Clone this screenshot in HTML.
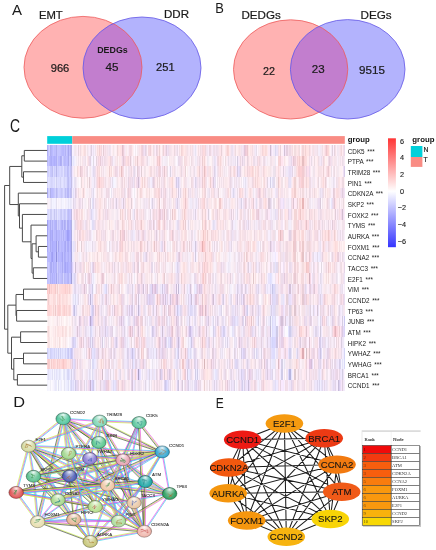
<!DOCTYPE html>
<html><head><meta charset="utf-8"><title>Figure</title>
<style>html,body{margin:0;padding:0;background:#fff;}body{width:436px;height:550px;position:relative;overflow:hidden;font-family:"Liberation Sans", Arial, sans-serif;}</style>
</head><body>
<div style="position:absolute;left:47.2px;top:145.10px;width:297.60px;height:10.72px;background:linear-gradient(90deg,#b2b2f7 0.0px 1.0px,#c4c4ff 1.0px 2.0px,#d0d0ff 2.0px 3.0px,#afaff1 3.0px 4.0px,#b5b5fa 4.0px 5.0px,#bbbbff 5.0px 6.0px,#c5c5ff 6.0px 7.0px,#bebeff 7.0px 8.0px,#bfbfff 8.0px 9.0px,#b0b0f1 9.0px 10.0px,#c7c7ff 10.0px 11.0px,#c6c6ff 11.0px 12.0px,#c6c6ff 12.0px 13.1px,#c3c3ff 13.1px 14.1px,#bcbcfe 14.1px 15.1px,#b9b9fc 15.1px 16.1px,#b7b7fd 16.1px 17.1px,#bfbfff 17.1px 18.1px,#b3b3f5 18.1px 19.1px,#c8c8ff 19.1px 20.1px,#bcbcff 20.1px 21.1px,#a7a7ee 21.1px 22.1px,#c1c1ff 22.1px 23.1px,#b0aff2 23.1px 24.1px,#b2afe1 24.1px 25.1px,#f9f2ff 25.1px 26.1px,#f8eeff 26.1px 27.1px,#f3e8f1 27.1px 28.1px,#f3e6ee 28.1px 29.1px,#f8eaf4 29.1px 30.1px,#feeef9 30.1px 31.1px,#e7d5dd 31.1px 32.1px,#ffebf3 32.1px 33.1px,#f1dbe1 33.1px 34.1px,#fde7ea 34.1px 35.1px,#ffedee 35.1px 36.1px,#ffe5e6 36.1px 37.1px,#f6dcde 37.1px 38.1px,#f6dee1 38.1px 39.1px,#ffeff5 39.1px 40.1px,#f1e3ea 40.1px 41.1px,#f6eaf4 41.1px 42.1px,#fceefa 42.1px 43.1px,#f0e1ef 43.1px 44.1px,#ded1e1 44.1px 45.1px,#f8ebfd 45.1px 46.1px,#ece3f2 46.1px 47.1px,#f7eefc 47.1px 48.1px,#f1e3ed 48.1px 49.1px,#ffecf2 49.1px 50.1px,#f8dddf 50.1px 51.1px,#ffe5e7 51.1px 52.1px,#f1d0d3 52.1px 53.2px,#fedfe3 53.2px 54.2px,#f2d8df 54.2px 55.2px,#ffedf5 55.2px 56.2px,#e5cdd6 56.2px 57.2px,#fae3ed 57.2px 58.2px,#f4dde6 58.2px 59.2px,#f9e5ee 59.2px 60.2px,#f4e2ec 60.2px 61.2px,#f6e6f2 61.2px 62.2px,#efe1ed 62.2px 63.2px,#f1e5ef 63.2px 64.2px,#fff2fa 64.2px 65.2px,#feeef2 65.2px 66.2px,#f4e7ea 66.2px 67.2px,#fceff4 67.2px 68.2px,#fff3f7 68.2px 69.2px,#ffedf1 69.2px 70.2px,#eed7d9 70.2px 71.2px,#fee3e4 71.2px 72.2px,#ffe8ea 72.2px 73.2px,#ffe2e4 73.2px 74.2px,#ffe0e7 74.2px 75.2px,#e0c1cc 75.2px 76.2px,#eeceda 76.2px 77.2px,#f7e1ee 77.2px 78.2px,#faeaf3 78.2px 79.2px,#fbeaee 79.2px 80.2px,#fef0f7 80.2px 81.2px,#fbeaf3 81.2px 82.2px,#f4dce3 82.2px 83.2px,#f2d8e0 83.2px 84.2px,#f4dce2 84.2px 85.2px,#feeaed 85.2px 86.2px,#fcf1f6 86.2px 87.2px,#fff8ff 87.2px 88.2px,#f3ebf0 88.2px 89.2px,#fff8fd 89.2px 90.2px,#f6e9ef 90.2px 91.2px,#f8e8ee 91.2px 92.2px,#f8e3e9 92.2px 93.2px,#ffe6ec 93.2px 94.2px,#f2d5dd 94.2px 95.2px,#ecd0dc 95.2px 96.2px,#efd9ea 96.2px 97.2px,#f3e1f5 97.2px 98.2px,#e4d3e3 98.2px 99.2px,#efdce8 99.2px 100.2px,#ffeff8 100.2px 101.2px,#f5d9de 101.2px 102.2px,#f7d8de 102.2px 103.2px,#f0d2d7 103.2px 104.2px,#ffe7ec 104.2px 105.2px,#ffeef3 105.2px 106.2px,#efdde3 106.2px 107.3px,#f4e4ef 107.3px 108.3px,#ffedfa 108.3px 109.3px,#e8d4df 109.3px 110.3px,#f0d8e3 110.3px 111.3px,#ffe7ed 111.3px 112.3px,#ecd2d4 112.3px 113.3px,#ffedf0 113.3px 114.3px,#fff3f8 114.3px 115.3px,#f7e3e9 115.3px 116.3px,#ecd2d8 116.3px 117.3px,#ffe3ed 117.3px 118.3px,#f4dcea 118.3px 119.3px,#e2ccdb 119.3px 120.3px,#f2e0f3 120.3px 121.3px,#eedbeb 121.3px 122.3px,#f4e0eb 122.3px 123.3px,#f5e2eb 123.3px 124.3px,#f7e6ed 124.3px 125.3px,#fdebf2 125.3px 126.3px,#feeaf1 126.3px 127.3px,#ecd8df 127.3px 128.3px,#f8e3ed 128.3px 129.3px,#f4e4f0 129.3px 130.3px,#eadae6 130.3px 131.3px,#ffeef8 131.3px 132.3px,#f3dfe4 132.3px 133.3px,#ffeced 133.3px 134.3px,#f3d4d6 134.3px 135.3px,#f9dadb 135.3px 136.3px,#ffe3e4 136.3px 137.3px,#ffe9ea 137.3px 138.3px,#fce3e5 138.3px 139.3px,#f9e2e7 139.3px 140.3px,#f4e0e7 140.3px 141.3px,#fae8ef 141.3px 142.3px,#fcebf3 142.3px 143.3px,#f2dfe5 143.3px 144.3px,#fde7ed 144.3px 145.3px,#f2e0e8 145.3px 146.3px,#f5e8f3 146.3px 147.3px,#f6edfb 147.3px 148.3px,#e8e3f1 148.3px 149.3px,#f8eef9 149.3px 150.3px,#ffeef4 150.3px 151.3px,#f3dfe3 151.3px 152.3px,#ffebf2 152.3px 153.3px,#f1dbe2 153.3px 154.3px,#fae1ea 154.3px 155.3px,#f4d7df 155.3px 156.3px,#fcd9dc 156.3px 157.3px,#fddbdf 157.3px 158.3px,#f0d6de 158.3px 159.3px,#f6e3ee 159.3px 160.3px,#f3e5f3 160.3px 161.4px,#fbebf9 161.4px 162.4px,#e9d6e2 162.4px 163.4px,#edd8e3 163.4px 164.4px,#f9e6f2 164.4px 165.4px,#f8eaf8 165.4px 166.4px,#efdfeb 166.4px 167.4px,#f0dde8 167.4px 168.4px,#f6e4f2 168.4px 169.4px,#efddea 169.4px 170.4px,#f1deea 170.4px 171.4px,#f5e2ec 171.4px 172.4px,#fbe4eb 172.4px 173.4px,#fee4eb 173.4px 174.4px,#e8d1d7 174.4px 175.4px,#fbe7ee 175.4px 176.4px,#feeef3 176.4px 177.4px,#fff1f5 177.4px 178.4px,#fce6ea 178.4px 179.4px,#fcdde0 179.4px 180.4px,#f5d1d2 180.4px 181.4px,#f9d5d6 181.4px 182.4px,#ffe8eb 182.4px 183.4px,#f9e6f0 183.4px 184.4px,#ede0ee 184.4px 185.4px,#ebe0f0 185.4px 186.4px,#f6e8f7 186.4px 187.4px,#f8e5ee 187.4px 188.4px,#eedbe0 188.4px 189.4px,#ffeff4 189.4px 190.4px,#ffedf0 190.4px 191.4px,#fae6ea 191.4px 192.4px,#f6e1e5 192.4px 193.4px,#f9e5ec 193.4px 194.4px,#f2e2ee 194.4px 195.4px,#f7e6f4 195.4px 196.4px,#f4dff0 196.4px 197.4px,#e1c7da 197.4px 198.4px,#edc8d7 198.4px 199.4px,#f4cfdc 199.4px 200.4px,#ebc9d0 200.4px 201.4px,#ffe4e6 201.4px 202.4px,#ffedef 202.4px 203.4px,#fae5e7 203.4px 204.4px,#fde6ea 204.4px 205.4px,#f2dde4 205.4px 206.4px,#fbe9f1 206.4px 207.4px,#f4e6f2 207.4px 208.4px,#f2e9f8 208.4px 209.4px,#e7dde9 209.4px 210.4px,#fff5ff 210.4px 211.4px,#f8ecf2 211.4px 212.4px,#fdeef2 212.4px 213.4px,#f8e5ea 213.4px 214.4px,#fee5ea 214.4px 215.4px,#f3d6d9 215.4px 216.5px,#fedcdd 216.5px 217.5px,#ffe3e3 217.5px 218.5px,#fadada 218.5px 219.5px,#fadddd 219.5px 220.5px,#ffe8eb 220.5px 221.5px,#fbe9f5 221.5px 222.5px,#f4e5f9 222.5px 223.5px,#cfbed2 223.5px 224.5px,#eddef3 224.5px 225.5px,#fbeefe 225.5px 226.5px,#f3eaf9 226.5px 227.5px,#ece9ff 227.5px 228.5px,#dcd8f0 228.5px 229.5px,#ece3f9 229.5px 230.5px,#f1e4f4 230.5px 231.5px,#f2dee9 231.5px 232.5px,#ffe8ee 232.5px 233.5px,#e7d3da 233.5px 234.5px,#fff0f7 234.5px 235.5px,#fdedf7 235.5px 236.5px,#faedfd 236.5px 237.5px,#d3c2d5 237.5px 238.5px,#f6e1f6 238.5px 239.5px,#e6d0e0 239.5px 240.5px,#f8e3f1 240.5px 241.5px,#f6e1ee 241.5px 242.5px,#eed9e4 242.5px 243.5px,#f5e1ed 243.5px 244.5px,#f8e2ea 244.5px 245.5px,#f5dde2 245.5px 246.5px,#ffeff2 246.5px 247.5px,#f2dddf 247.5px 248.5px,#fff3f3 248.5px 249.5px,#fbe5e7 249.5px 250.5px,#fee6ea 250.5px 251.5px,#f8dfe2 251.5px 252.5px,#f0dce0 252.5px 253.5px,#fff5f9 253.5px 254.5px,#ffe6e9 254.5px 255.5px,#f2d6d9 255.5px 256.5px,#fad7d9 256.5px 257.5px,#ffe3e4 257.5px 258.5px,#f3d3d4 258.5px 259.5px,#ffe3e4 259.5px 260.5px,#ffe5e6 260.5px 261.5px,#fbdee2 261.5px 262.5px,#efd6dc 262.5px 263.5px,#fbe3e9 263.5px 264.5px,#ffedf5 264.5px 265.5px,#f4e3eb 265.5px 266.5px,#f6e0e6 266.5px 267.5px,#f8e4ed 267.5px 268.5px,#f6e5ef 268.5px 269.5px,#f0e0e9 269.5px 270.6px,#f6edf9 270.6px 271.6px,#f5eefb 271.6px 272.6px,#f3e8f3 272.6px 273.6px,#f6e7f1 273.6px 274.6px,#f1dfe5 274.6px 275.6px,#ffebf1 275.6px 276.6px,#fde3ea 276.6px 277.6px,#f7d6dd 277.6px 278.6px,#ecc6cd 278.6px 279.6px,#fbd3d7 279.6px 280.6px,#fbd9da 280.6px 281.6px,#ffeaea 281.6px 282.6px,#fff3f9 282.6px 283.6px,#f4e9f5 283.6px 284.6px,#e1d2de 284.6px 285.6px,#fff0fe 285.6px 286.6px,#e6d3de 286.6px 287.6px,#f6e1e8 287.6px 288.6px,#ffeff8 288.6px 289.6px,#f2e7f1 289.6px 290.6px,#f5e7f1 290.6px 291.6px,#f9e7f0 291.6px 292.6px,#f7dfe6 292.6px 293.6px,#f2d7db 293.6px 294.6px,#ffebf1 294.6px 295.6px,#f3dde8 295.6px 296.6px,#ead9eb 296.6px 297.6px)"></div><div style="position:absolute;left:47.2px;top:155.77px;width:297.60px;height:10.72px;background:linear-gradient(90deg,#bcbcfd 0.0px 1.0px,#c4c4ff 1.0px 2.0px,#babaff 2.0px 3.0px,#b1b1fa 3.0px 4.0px,#adadf9 4.0px 5.0px,#b9b9ff 5.0px 6.0px,#b5b5ff 6.0px 7.0px,#afaffb 7.0px 8.0px,#b5b5ff 8.0px 9.0px,#aeaef5 9.0px 10.0px,#cacaff 10.0px 11.0px,#bcbcff 11.0px 12.0px,#bcbcff 12.0px 13.1px,#acacf3 13.1px 14.1px,#b1b1f5 14.1px 15.1px,#d2d2ff 15.1px 16.1px,#c2c2ff 16.1px 17.1px,#b9b9f8 17.1px 18.1px,#babafd 18.1px 19.1px,#c0c0ff 19.1px 20.1px,#bbbbff 20.1px 21.1px,#ababed 21.1px 22.1px,#ccccff 22.1px 23.1px,#c2c1ff 23.1px 24.1px,#afaedf 24.1px 25.1px,#edecff 25.1px 26.1px,#e7e6ff 26.1px 27.1px,#f1eefd 27.1px 28.1px,#f7f2fe 28.1px 29.1px,#f5edf5 29.1px 30.1px,#fdf1f8 30.1px 31.1px,#f0e4eb 31.1px 32.1px,#fff1f7 32.1px 33.1px,#f2e3e9 33.1px 34.1px,#fff0f5 34.1px 35.1px,#f7e4ea 35.1px 36.1px,#f5e5ef 36.1px 37.1px,#f4e4ef 37.1px 38.1px,#eedfe8 38.1px 39.1px,#fff2fa 39.1px 40.1px,#fce6eb 40.1px 41.1px,#f4dbe4 41.1px 42.1px,#ebd6e6 42.1px 43.1px,#e3d3e2 43.1px 44.1px,#f6eeff 44.1px 45.1px,#f9f5ff 45.1px 46.1px,#e0d9e4 46.1px 47.1px,#faf2ff 47.1px 48.1px,#fef3ff 48.1px 49.1px,#e5d4de 49.1px 50.1px,#f9e2ed 50.1px 51.1px,#f3d6e0 51.1px 52.1px,#fcdce5 52.1px 53.2px,#e7ccd8 53.2px 54.2px,#f7e1f0 54.2px 55.2px,#eed9e6 55.2px 56.2px,#fae7f4 56.2px 57.2px,#eedbe6 57.2px 58.2px,#f3dee8 58.2px 59.2px,#f6e2ec 59.2px 60.2px,#f9e5ec 60.2px 61.2px,#fee6ea 61.2px 62.2px,#ffe3e7 62.2px 63.2px,#efd4db 63.2px 64.2px,#f2dbe7 64.2px 65.2px,#ecdcea 65.2px 66.2px,#f8eefb 66.2px 67.2px,#f8ecf6 67.2px 68.2px,#f6e6ed 68.2px 69.2px,#fce9ee 69.2px 70.2px,#f3e1e5 70.2px 71.2px,#fff2f5 71.2px 72.2px,#f9e6e9 72.2px 73.2px,#fee9ec 73.2px 74.2px,#fce5ee 74.2px 75.2px,#efd8e7 75.2px 76.2px,#e4c7d4 76.2px 77.2px,#f3d7e6 77.2px 78.2px,#f6dae4 78.2px 79.2px,#ffe0e3 79.2px 80.2px,#fadce1 80.2px 81.2px,#f3d5dc 81.2px 82.2px,#ffe4ec 82.2px 83.2px,#e3cbd4 83.2px 84.2px,#f9e5ef 84.2px 85.2px,#fff3fb 85.2px 86.2px,#f3e4eb 86.2px 87.2px,#fdebf1 87.2px 88.2px,#f5dbdf 88.2px 89.2px,#ffe8ec 89.2px 90.2px,#e5c9ce 90.2px 91.2px,#ffe4ea 91.2px 92.2px,#ffe8ee 92.2px 93.2px,#fee5ea 93.2px 94.2px,#f5d8dd 94.2px 95.2px,#f4d8e0 95.2px 96.2px,#f5dbe3 96.2px 97.2px,#fce6ed 97.2px 98.2px,#fdeaf1 98.2px 99.2px,#f5e4ee 99.2px 100.2px,#eadce6 100.2px 101.2px,#faeff9 101.2px 102.2px,#f9eff6 102.2px 103.2px,#fff4f7 103.2px 104.2px,#fbeff2 104.2px 105.2px,#fff2f4 105.2px 106.2px,#f7e7ea 106.2px 107.3px,#f9eaef 107.3px 108.3px,#ffeff5 108.3px 109.3px,#fde5eb 109.3px 110.3px,#f0cdd2 110.3px 111.3px,#ffd5d9 111.3px 112.3px,#ebc4c8 112.3px 113.3px,#ffe2e9 113.3px 114.3px,#fdecf6 114.3px 115.3px,#f2e8f0 115.3px 116.3px,#faf0fa 116.3px 117.3px,#f5edf8 117.3px 118.3px,#f4ebf5 118.3px 119.3px,#f3eaf3 119.3px 120.3px,#f4ebf2 120.3px 121.3px,#fff9fd 121.3px 122.3px,#f6e8ec 122.3px 123.3px,#fcecf0 123.3px 124.3px,#faeaef 124.3px 125.3px,#fcecf2 125.3px 126.3px,#f6e6ec 126.3px 127.3px,#f3e7ee 127.3px 128.3px,#fbf2f8 128.3px 129.3px,#fff9ff 129.3px 130.3px,#f9f1fd 130.3px 131.3px,#e8dae7 131.3px 132.3px,#ecd9ea 132.3px 133.3px,#f1dae8 133.3px 134.3px,#f1dde7 134.3px 135.3px,#f6e3eb 135.3px 136.3px,#fff4f8 136.3px 137.3px,#f4dcdf 137.3px 138.3px,#f8dee2 138.3px 139.3px,#f6dee3 139.3px 140.3px,#fce8ee 140.3px 141.3px,#feecf0 141.3px 142.3px,#f7e6eb 142.3px 143.3px,#fff3f9 143.3px 144.3px,#eedce3 144.3px 145.3px,#f4e3eb 145.3px 146.3px,#f7e7f0 146.3px 147.3px,#fcf0f8 147.3px 148.3px,#f2e9f4 148.3px 149.3px,#f5ecf8 149.3px 150.3px,#f1e1ec 150.3px 151.3px,#f8e5f0 151.3px 152.3px,#ecdae4 152.3px 153.3px,#f9e1e9 153.3px 154.3px,#ffe9f1 154.3px 155.3px,#ebcdd2 155.3px 156.3px,#ffe3e4 156.3px 157.3px,#f2d3d5 157.3px 158.3px,#ffe8ec 158.3px 159.3px,#fff0f7 159.3px 160.3px,#f1e7ef 160.3px 161.4px,#f3ebf4 161.4px 162.4px,#fbf2f8 162.4px 163.4px,#fff5f8 163.4px 164.4px,#fff2f5 164.4px 165.4px,#f2e6ee 165.4px 166.4px,#f4e8f6 166.4px 167.4px,#e9e0f0 167.4px 168.4px,#ece4f7 168.4px 169.4px,#fbebfb 169.4px 170.4px,#eed8e2 170.4px 171.4px,#f1d5dc 171.4px 172.4px,#ffe4e6 172.4px 173.4px,#f5d6d7 173.4px 174.4px,#fbe3e7 174.4px 175.4px,#fcebf1 175.4px 176.4px,#f5e8ee 176.4px 177.4px,#fff6fc 177.4px 178.4px,#ecdce1 178.4px 179.4px,#fdebf2 179.4px 180.4px,#faebf5 180.4px 181.4px,#e9dde9 181.4px 182.4px,#f9eaf5 182.4px 183.4px,#f3e6f2 183.4px 184.4px,#efe3ef 184.4px 185.4px,#f5e9f6 185.4px 186.4px,#f0e6f5 186.4px 187.4px,#f4e9f6 187.4px 188.4px,#e9dfee 188.4px 189.4px,#fdf4ff 189.4px 190.4px,#d6ccdf 190.4px 191.4px,#f6e8f9 191.4px 192.4px,#f9e7f4 192.4px 193.4px,#ebd6e0 193.4px 194.4px,#fbe6f4 194.4px 195.4px,#e4d2e2 195.4px 196.4px,#f5e3f2 196.4px 197.4px,#ebdce9 197.4px 198.4px,#ffecf4 198.4px 199.4px,#ffeaf2 199.4px 200.4px,#e7d3dd 200.4px 201.4px,#f4dde4 201.4px 202.4px,#fee9f0 202.4px 203.4px,#ffedf3 203.4px 204.4px,#f6e2e6 204.4px 205.4px,#ffe9f0 205.4px 206.4px,#eddde9 206.4px 207.4px,#ecddea 207.4px 208.4px,#f8e7f3 208.4px 209.4px,#f9e9f5 209.4px 210.4px,#edd8e2 210.4px 211.4px,#fadee6 211.4px 212.4px,#eed6df 212.4px 213.4px,#f6e2eb 213.4px 214.4px,#fbe9f0 214.4px 215.4px,#ffeff8 215.4px 216.5px,#eedde8 216.5px 217.5px,#ecdae5 217.5px 218.5px,#f6e7f2 218.5px 219.5px,#f9effa 219.5px 220.5px,#f5ebf2 220.5px 221.5px,#fbf0f7 221.5px 222.5px,#fbedf5 222.5px 223.5px,#f2e1e9 223.5px 224.5px,#f2e1ea 224.5px 225.5px,#fae8ef 225.5px 226.5px,#f7e9f1 226.5px 227.5px,#f7eef8 227.5px 228.5px,#f0e9f3 228.5px 229.5px,#fff5fd 229.5px 230.5px,#ffebef 230.5px 231.5px,#f5d4d5 231.5px 232.5px,#fad3d6 232.5px 233.5px,#f1cfd6 233.5px 234.5px,#ffe4ef 234.5px 235.5px,#e7d2dc 235.5px 236.5px,#ffecf5 236.5px 237.5px,#f6e3e7 237.5px 238.5px,#ffeff1 238.5px 239.5px,#fff4f9 239.5px 240.5px,#efdfe4 240.5px 241.5px,#f7e7f1 241.5px 242.5px,#f2e3f3 242.5px 243.5px,#eadef2 243.5px 244.5px,#e7d7ea 244.5px 245.5px,#fae0f0 245.5px 246.5px,#e5c7d4 246.5px 247.5px,#efd1dc 247.5px 248.5px,#ffe2eb 248.5px 249.5px,#fee3ea 249.5px 250.5px,#f5d4d8 250.5px 251.5px,#ffdcdd 251.5px 252.5px,#f2cecf 252.5px 253.5px,#ffe2e2 253.5px 254.5px,#ffdedf 254.5px 255.5px,#e6bec0 255.5px 256.5px,#ffddde 256.5px 257.5px,#fbd4d6 257.5px 258.5px,#fcdbdc 258.5px 259.5px,#fcdddf 259.5px 260.5px,#ffebef 260.5px 261.5px,#f0d8de 261.5px 262.5px,#efdbe5 262.5px 263.5px,#feeaf6 263.5px 264.5px,#e9dbe6 264.5px 265.5px,#faebf5 265.5px 266.5px,#ffeff5 266.5px 267.5px,#ecdbe0 267.5px 268.5px,#ffeff3 268.5px 269.5px,#fee8ec 269.5px 270.6px,#eedde5 270.6px 271.6px,#f5e5f0 271.6px 272.6px,#f6e8f7 272.6px 273.6px,#eaddec 273.6px 274.6px,#fae4f0 274.6px 275.6px,#eed5dc 275.6px 276.6px,#f9e0e3 276.6px 277.6px,#fff2f3 277.6px 278.6px,#ffeff0 278.6px 279.6px,#fff0f5 279.6px 280.6px,#f1dce7 280.6px 281.6px,#e6cfdc 281.6px 282.6px,#f3dbe9 282.6px 283.6px,#f2e0ee 283.6px 284.6px,#f6e4ed 284.6px 285.6px,#fde9f0 285.6px 286.6px,#f5e4eb 286.6px 287.6px,#f6e5eb 287.6px 288.6px,#f7e7ef 288.6px 289.6px,#fbf0fa 289.6px 290.6px,#f4e8f0 290.6px 291.6px,#faebf2 291.6px 292.6px,#f1e2eb 292.6px 293.6px,#fdebf5 293.6px 294.6px,#ecdbe6 294.6px 295.6px,#f0e2ed 295.6px 296.6px,#f9eaf4 296.6px 297.6px)"></div><div style="position:absolute;left:47.2px;top:166.44px;width:297.60px;height:10.72px;background:linear-gradient(90deg,#d1d1fe 0.0px 1.0px,#d0d0fd 1.0px 2.0px,#dadaff 2.0px 3.0px,#c9c9fc 3.0px 4.0px,#c6c6fb 4.0px 5.0px,#bfbff3 5.0px 6.0px,#dbdbff 6.0px 7.0px,#ccccfd 7.0px 8.0px,#d4d4ff 8.0px 9.0px,#b7b7eb 9.0px 10.0px,#d4d4ff 10.0px 11.0px,#d1d1ff 11.0px 12.0px,#d7d7ff 12.0px 13.1px,#d9d9ff 13.1px 14.1px,#d1d1fa 14.1px 15.1px,#d4d4fd 15.1px 16.1px,#e1e1ff 16.1px 17.1px,#cbcbf7 17.1px 18.1px,#ccccfe 18.1px 19.1px,#d0d0ff 19.1px 20.1px,#bdbdf5 20.1px 21.1px,#c1c1fa 21.1px 22.1px,#d3d3ff 22.1px 23.1px,#c5c4f7 23.1px 24.1px,#c5bfe7 24.1px 25.1px,#f0e5ff 25.1px 26.1px,#f9ebf9 26.1px 27.1px,#f5e8ee 27.1px 28.1px,#fff1f5 28.1px 29.1px,#fff1f5 29.1px 30.1px,#f0dbdd 30.1px 31.1px,#ffe5e8 31.1px 32.1px,#ffe9f0 32.1px 33.1px,#e5c8d1 33.1px 34.1px,#f2d4de 34.1px 35.1px,#f3d8e2 35.1px 36.1px,#ffebf1 36.1px 37.1px,#f5e1e6 37.1px 38.1px,#fdeaf3 38.1px 39.1px,#f2e0e9 39.1px 40.1px,#e8dae4 40.1px 41.1px,#fff6ff 41.1px 42.1px,#faeef4 42.1px 43.1px,#f3e9ef 43.1px 44.1px,#faf0fc 44.1px 45.1px,#f1e9fb 45.1px 46.1px,#e3daee 46.1px 47.1px,#e8ddf1 47.1px 48.1px,#f0dfef 48.1px 49.1px,#fee5ee 49.1px 50.1px,#f2d5db 50.1px 51.1px,#fcdfe2 51.1px 52.1px,#f5d9db 52.1px 53.2px,#fff1f4 53.2px 54.2px,#f2dfe5 54.2px 55.2px,#fbeaf2 55.2px 56.2px,#f0e1e9 56.2px 57.2px,#fceff7 57.2px 58.2px,#f9ebf1 58.2px 59.2px,#fbedf0 59.2px 60.2px,#feebee 60.2px 61.2px,#ffedef 61.2px 62.2px,#edcfd0 62.2px 63.2px,#ffe8e8 63.2px 64.2px,#f5dcdd 64.2px 65.2px,#fff2f5 65.2px 66.2px,#fbe6eb 66.2px 67.2px,#f9e3eb 67.2px 68.2px,#edd5e1 68.2px 69.2px,#f0d8e4 69.2px 70.2px,#efdbe9 70.2px 71.2px,#ffedf8 71.2px 72.2px,#f4dbe1 72.2px 73.2px,#ffe6ea 73.2px 74.2px,#e7c0c4 74.2px 75.2px,#f6d4da 75.2px 76.2px,#f6dce4 76.2px 77.2px,#fff1fb 77.2px 78.2px,#f6eaf2 78.2px 79.2px,#f4e5ec 79.2px 80.2px,#fff0f9 80.2px 81.2px,#efe1ed 81.2px 82.2px,#f3e1ec 82.2px 83.2px,#f7e1eb 83.2px 84.2px,#eed8e1 84.2px 85.2px,#ffeaf5 85.2px 86.2px,#ecddec 86.2px 87.2px,#e5daea 87.2px 88.2px,#f5e5f3 88.2px 89.2px,#fff3fe 89.2px 90.2px,#e2cbd6 90.2px 91.2px,#eed7e4 91.2px 92.2px,#f1dae8 92.2px 93.2px,#ffeef9 93.2px 94.2px,#e1ced5 94.2px 95.2px,#ffeff6 95.2px 96.2px,#ffeef5 96.2px 97.2px,#f1e3e9 97.2px 98.2px,#f4e5ea 98.2px 99.2px,#fff1f5 99.2px 100.2px,#fdf0f4 100.2px 101.2px,#fdedf2 101.2px 102.2px,#fee7ea 102.2px 103.2px,#f3dbdf 103.2px 104.2px,#f2dbe2 104.2px 105.2px,#ffeaf1 105.2px 106.2px,#fbe7ec 106.2px 107.3px,#f2dfe6 107.3px 108.3px,#fce8f1 108.3px 109.3px,#efdbe7 109.3px 110.3px,#f5e0ee 110.3px 111.3px,#f4d7e1 111.3px 112.3px,#efd0d9 112.3px 113.3px,#edd3df 113.3px 114.3px,#ffecfa 114.3px 115.3px,#efdae6 115.3px 116.3px,#fce1eb 116.3px 117.3px,#e3c6cf 117.3px 118.3px,#ffe5ed 118.3px 119.3px,#f6dfe7 119.3px 120.3px,#eadde6 120.3px 121.3px,#fff7ff 121.3px 122.3px,#f9f0fe 122.3px 123.3px,#dbd3e2 123.3px 124.3px,#fceefc 124.3px 125.3px,#f5e2eb 125.3px 126.3px,#fce8ed 126.3px 127.3px,#f2dfe6 127.3px 128.3px,#f5e6ef 128.3px 129.3px,#fcf0f9 129.3px 130.3px,#f8ecf2 130.3px 131.3px,#fbeff5 131.3px 132.3px,#faeaf2 132.3px 133.3px,#f7e2e9 133.3px 134.3px,#ead7e1 134.3px 135.3px,#f8e6f0 135.3px 136.3px,#fbe5ed 136.3px 137.3px,#fce6ed 137.3px 138.3px,#e8d2d6 138.3px 139.3px,#fff7f9 139.3px 140.3px,#fbedf0 140.3px 141.3px,#fbf1f7 141.3px 142.3px,#f9eef6 142.3px 143.3px,#eee1e8 143.3px 144.3px,#faebf3 144.3px 145.3px,#fdedf5 145.3px 146.3px,#f4e4ed 146.3px 147.3px,#ecdfea 147.3px 148.3px,#fbedf8 148.3px 149.3px,#fbecf3 149.3px 150.3px,#fce4e7 150.3px 151.3px,#ffe3e5 151.3px 152.3px,#e8cdd3 152.3px 153.3px,#ffe6ef 153.3px 154.3px,#fae4ef 154.3px 155.3px,#efd5de 155.3px 156.3px,#ffe1e6 156.3px 157.3px,#e6bec2 157.3px 158.3px,#fbd6db 158.3px 159.3px,#ffe2ea 159.3px 160.3px,#f4e0eb 160.3px 161.4px,#f7e0e7 161.4px 162.4px,#fae1e5 162.4px 163.4px,#f6dee0 163.4px 164.4px,#fff0f3 164.4px 165.4px,#f6e5ed 165.4px 166.4px,#f6e6f5 166.4px 167.4px,#ded2e5 167.4px 168.4px,#e9e0f4 168.4px 169.4px,#faf0ff 169.4px 170.4px,#f1e2ee 170.4px 171.4px,#f3dee6 171.4px 172.4px,#fce2e8 172.4px 173.4px,#f3d9dd 173.4px 174.4px,#ffebf0 174.4px 175.4px,#f7e4e9 175.4px 176.4px,#faebf4 176.4px 177.4px,#f1e4ed 177.4px 178.4px,#f9edf5 178.4px 179.4px,#f4eaf1 179.4px 180.4px,#fff4fb 180.4px 181.4px,#f7e6ee 181.4px 182.4px,#f8e3ec 182.4px 183.4px,#e9d3dc 183.4px 184.4px,#fbe3ea 184.4px 185.4px,#ffecf3 185.4px 186.4px,#f7dee3 186.4px 187.4px,#f3d7da 187.4px 188.4px,#fce1ea 188.4px 189.4px,#fae6f6 189.4px 190.4px,#d7cae1 190.4px 191.4px,#e9defb 191.4px 192.4px,#e5d8f1 192.4px 193.4px,#e1d1e1 193.4px 194.4px,#fae9f4 194.4px 195.4px,#ffeef4 195.4px 196.4px,#fff0f3 196.4px 197.4px,#f3e0e4 197.4px 198.4px,#fee5e8 198.4px 199.4px,#ffe7ec 199.4px 200.4px,#eed3da 200.4px 201.4px,#fcdde3 201.4px 202.4px,#f6d8de 202.4px 203.4px,#fedee1 203.4px 204.4px,#ffddde 204.4px 205.4px,#f5d3d4 205.4px 206.4px,#fcdcdd 206.4px 207.4px,#ffeeef 207.4px 208.4px,#f5dbdd 208.4px 209.4px,#ffe6e8 209.4px 210.4px,#fbdcde 210.4px 211.4px,#f2d7db 211.4px 212.4px,#ffe8ee 212.4px 213.4px,#fae9f0 213.4px 214.4px,#f7e5ec 214.4px 215.4px,#ffe8ef 215.4px 216.5px,#f0d7dc 216.5px 217.5px,#f9dee1 217.5px 218.5px,#ffe8eb 218.5px 219.5px,#fde8ea 219.5px 220.5px,#ffeeee 220.5px 221.5px,#f9e8ea 221.5px 222.5px,#feeef2 222.5px 223.5px,#f5e5e9 223.5px 224.5px,#f9eaf1 224.5px 225.5px,#fceef7 225.5px 226.5px,#ede2ec 226.5px 227.5px,#faeffc 227.5px 228.5px,#eddee9 228.5px 229.5px,#ffe9f0 229.5px 230.5px,#f5dadf 230.5px 231.5px,#f6dade 231.5px 232.5px,#fee5ea 232.5px 233.5px,#f4e4ec 233.5px 234.5px,#ffeef9 234.5px 235.5px,#f4e2ed 235.5px 236.5px,#e0d0de 236.5px 237.5px,#fbebf9 237.5px 238.5px,#f2e5f2 238.5px 239.5px,#f2e9f8 239.5px 240.5px,#ece5f8 240.5px 241.5px,#ece3f9 241.5px 242.5px,#e7dcf3 242.5px 243.5px,#e0d7f0 243.5px 244.5px,#ede2f9 244.5px 245.5px,#e3d5e6 245.5px 246.5px,#fdf0fd 246.5px 247.5px,#f4e5ed 247.5px 248.5px,#ffeef2 248.5px 249.5px,#f8dee2 249.5px 250.5px,#ffdee1 250.5px 251.5px,#f7ced1 251.5px 252.5px,#f7ccd0 252.5px 253.5px,#fccfd3 253.5px 254.5px,#fbcfd4 254.5px 255.5px,#f2cbd1 255.5px 256.5px,#fedce3 256.5px 257.5px,#f5d6dd 257.5px 258.5px,#fce1e9 258.5px 259.5px,#eed4e1 259.5px 260.5px,#fcdfee 260.5px 261.5px,#d7becf 261.5px 262.5px,#ecd8ea 262.5px 263.5px,#fbe8f2 263.5px 264.5px,#fff2f9 264.5px 265.5px,#f9eef6 265.5px 266.5px,#f1e3ea 266.5px 267.5px,#f1e3ec 267.5px 268.5px,#ffedf3 268.5px 269.5px,#ffecef 269.5px 270.6px,#f4dfe3 270.6px 271.6px,#f8e1e7 271.6px 272.6px,#f8e1e6 272.6px 273.6px,#f9e1e8 273.6px 274.6px,#ffe8ee 274.6px 275.6px,#ebd1d5 275.6px 276.6px,#ffeaef 276.6px 277.6px,#ffedf3 277.6px 278.6px,#f9e0e6 278.6px 279.6px,#f6d6dd 279.6px 280.6px,#eacad1 280.6px 281.6px,#fee0e5 281.6px 282.6px,#ffebf0 282.6px 283.6px,#ede1ea 283.6px 284.6px,#fff4fe 284.6px 285.6px,#f3e2ea 285.6px 286.6px,#ebdbe3 286.6px 287.6px,#fff2f9 287.6px 288.6px,#f8e8ee 288.6px 289.6px,#f4e7ef 289.6px 290.6px,#f5e8ef 290.6px 291.6px,#fceff4 291.6px 292.6px,#fdf0f3 292.6px 293.6px,#fff1f2 293.6px 294.6px,#fff1f9 294.6px 295.6px,#eedff2 295.6px 296.6px,#d8cae8 296.6px 297.6px)"></div><div style="position:absolute;left:47.2px;top:177.11px;width:297.60px;height:10.72px;background:linear-gradient(90deg,#d5d5fa 0.0px 1.0px,#e2e2ff 1.0px 2.0px,#dfdfff 2.0px 3.0px,#d9d9fe 3.0px 4.0px,#d4d4fa 4.0px 5.0px,#d7d7fd 5.0px 6.0px,#dedeff 6.0px 7.0px,#dadafd 7.0px 8.0px,#e8e8ff 8.0px 9.0px,#cfcff2 9.0px 10.0px,#dfdfff 10.0px 11.0px,#dcdcff 11.0px 12.0px,#dedeff 12.0px 13.1px,#d2d2f5 13.1px 14.1px,#e0e0ff 14.1px 15.1px,#e4e4ff 15.1px 16.1px,#ddddff 16.1px 17.1px,#d5d5f8 17.1px 18.1px,#ddddff 18.1px 19.1px,#d9d9ff 19.1px 20.1px,#c4c4f7 20.1px 21.1px,#bdbdf4 21.1px 22.1px,#cfcfff 22.1px 23.1px,#cfceff 23.1px 24.1px,#c2bee6 24.1px 25.1px,#e8e3ff 25.1px 26.1px,#f6f0ff 26.1px 27.1px,#e7e1f4 27.1px 28.1px,#e7deef 28.1px 29.1px,#f2e9f6 29.1px 30.1px,#fbf2fa 30.1px 31.1px,#f9f3f8 31.1px 32.1px,#fffaff 32.1px 33.1px,#fff3f8 33.1px 34.1px,#e9d8db 34.1px 35.1px,#ffe9ed 35.1px 36.1px,#ffecf0 36.1px 37.1px,#f3e6eb 37.1px 38.1px,#fff0f5 38.1px 39.1px,#fff2f6 39.1px 40.1px,#f1dde1 40.1px 41.1px,#fff0f4 41.1px 42.1px,#e1ccd3 42.1px 43.1px,#fbe9f2 43.1px 44.1px,#f9ecf7 44.1px 45.1px,#f4eefb 45.1px 46.1px,#f5ecfa 46.1px 47.1px,#e7deed 47.1px 48.1px,#f6e9f8 48.1px 49.1px,#f5dee8 49.1px 50.1px,#f7d5db 50.1px 51.1px,#ffd6d9 51.1px 52.1px,#efc6c9 52.1px 53.2px,#ffdbdf 53.2px 54.2px,#f9d9de 54.2px 55.2px,#fddee2 55.2px 56.2px,#f6dae0 56.2px 57.2px,#fae4ed 57.2px 58.2px,#f0dde5 58.2px 59.2px,#faeaf3 59.2px 60.2px,#fdecf3 60.2px 61.2px,#f8e5eb 61.2px 62.2px,#f8e3ea 62.2px 63.2px,#eddde8 63.2px 64.2px,#f9edfc 64.2px 65.2px,#e4ddeb 65.2px 66.2px,#f3f1ff 66.2px 67.2px,#f7f6ff 67.2px 68.2px,#f9f4fd 68.2px 69.2px,#f8eef5 69.2px 70.2px,#f3e6eb 70.2px 71.2px,#feedf1 71.2px 72.2px,#fff0f5 72.2px 73.2px,#fae9f0 73.2px 74.2px,#f1dde5 74.2px 75.2px,#edd6df 75.2px 76.2px,#ffebf1 76.2px 77.2px,#f0d9df 77.2px 78.2px,#fcebf4 78.2px 79.2px,#f6e4ed 79.2px 80.2px,#fcebf7 80.2px 81.2px,#e5d3e1 81.2px 82.2px,#f5dbe7 82.2px 83.2px,#efd9e7 83.2px 84.2px,#f3dfef 84.2px 85.2px,#ebd8e8 85.2px 86.2px,#efe2f5 86.2px 87.2px,#ebdae8 87.2px 88.2px,#ffe9f3 88.2px 89.2px,#f1dae9 89.2px 90.2px,#f0d9ed 90.2px 91.2px,#d2bcd1 91.2px 92.2px,#f0ddf0 92.2px 93.2px,#ffe7f1 93.2px 94.2px,#ffe5e6 94.2px 95.2px,#f2d5d6 95.2px 96.2px,#ffecee 96.2px 97.2px,#f2d6d9 97.2px 98.2px,#fbe3e8 98.2px 99.2px,#ffebf1 99.2px 100.2px,#f1dde6 100.2px 101.2px,#f2e4f1 101.2px 102.2px,#eee1ed 102.2px 103.2px,#f8effd 103.2px 104.2px,#f4edff 104.2px 105.2px,#ebdced 105.2px 106.2px,#e2ccdc 106.2px 107.3px,#edd5e2 107.3px 108.3px,#ffe6ed 108.3px 109.3px,#ffebf1 109.3px 110.3px,#edd7dd 110.3px 111.3px,#ffecf1 111.3px 112.3px,#edd6db 112.3px 113.3px,#ffeef6 113.3px 114.3px,#f0dfea 114.3px 115.3px,#f7e5f1 115.3px 116.3px,#f1dce7 116.3px 117.3px,#efd8df 117.3px 118.3px,#fde7ec 118.3px 119.3px,#fff2f7 119.3px 120.3px,#f5e8ef 120.3px 121.3px,#fae9f0 121.3px 122.3px,#f5e0e6 122.3px 123.3px,#fde3e7 123.3px 124.3px,#ffe1e2 124.3px 125.3px,#f4d7d7 125.3px 126.3px,#ffeaeb 126.3px 127.3px,#ffecf3 127.3px 128.3px,#f6e7f7 128.3px 129.3px,#d5cbe4 129.3px 130.3px,#e7ddfd 130.3px 131.3px,#d5cde9 131.3px 132.3px,#ece2f8 132.3px 133.3px,#f7eaf6 133.3px 134.3px,#f7e9ef 134.3px 135.3px,#fff4f8 135.3px 136.3px,#feeaee 136.3px 137.3px,#f3dfe5 137.3px 138.3px,#f2dfe8 138.3px 139.3px,#f5e4ed 139.3px 140.3px,#f9eef7 140.3px 141.3px,#f7eef6 141.3px 142.3px,#fbf0f6 142.3px 143.3px,#fff2f8 143.3px 144.3px,#edd9e1 144.3px 145.3px,#f2dde5 145.3px 146.3px,#f5e4f0 146.3px 147.3px,#faedff 147.3px 148.3px,#ddd3e7 148.3px 149.3px,#ebdff2 149.3px 150.3px,#f3e1f0 150.3px 151.3px,#f8e6f2 151.3px 152.3px,#ebdbe8 152.3px 153.3px,#f7e4f0 153.3px 154.3px,#fce5f1 154.3px 155.3px,#e8cbd3 155.3px 156.3px,#ffe0e3 156.3px 157.3px,#f2ced2 157.3px 158.3px,#f6dbe3 158.3px 159.3px,#f4e1ea 159.3px 160.3px,#fdf2fb 160.3px 161.4px,#fcedf3 161.4px 162.4px,#ffeaec 162.4px 163.4px,#ecced0 163.4px 164.4px,#ffe2eb 164.4px 165.4px,#f8e0ef 165.4px 166.4px,#dbc9dc 166.4px 167.4px,#ece0f6 167.4px 168.4px,#e9deef 168.4px 169.4px,#fff8ff 169.4px 170.4px,#efe3ec 170.4px 171.4px,#fff0f6 171.4px 172.4px,#efdee5 172.4px 173.4px,#fdedf4 173.4px 174.4px,#f2e2eb 174.4px 175.4px,#fdecf4 175.4px 176.4px,#f1dfe6 176.4px 177.4px,#fdeaef 177.4px 178.4px,#f9e6eb 178.4px 179.4px,#fae8eb 179.4px 180.4px,#fdeaef 180.4px 181.4px,#ffebf1 181.4px 182.4px,#f3dee7 182.4px 183.4px,#e9d7e5 183.4px 184.4px,#efdfec 184.4px 185.4px,#f5e9f6 185.4px 186.4px,#fcf2fe 186.4px 187.4px,#efe1eb 187.4px 188.4px,#f7e8f3 188.4px 189.4px,#eddfec 189.4px 190.4px,#f8ebf8 190.4px 191.4px,#f3e5ef 191.4px 192.4px,#f1e3ec 192.4px 193.4px,#fff1f8 193.4px 194.4px,#f1e7ee 194.4px 195.4px,#fff8ff 195.4px 196.4px,#eee7f4 196.4px 197.4px,#f4effe 197.4px 198.4px,#e6e0ef 198.4px 199.4px,#f5ecfa 199.4px 200.4px,#f7eaf4 200.4px 201.4px,#f4e2e8 201.4px 202.4px,#fceaef 202.4px 203.4px,#fcebf3 203.4px 204.4px,#fbe8f1 204.4px 205.4px,#eed9e2 205.4px 206.4px,#f4d9e0 206.4px 207.4px,#ffe4e9 207.4px 208.4px,#f1d3d6 208.4px 209.4px,#ffe6e8 209.4px 210.4px,#f6d8da 210.4px 211.4px,#ffe3e5 211.4px 212.4px,#fee5e7 212.4px 213.4px,#fde9ec 213.4px 214.4px,#f6e4e7 214.4px 215.4px,#fff3f7 215.4px 216.5px,#fae3e5 216.5px 217.5px,#f2dadc 217.5px 218.5px,#ffe9f0 218.5px 219.5px,#f9e6f0 219.5px 220.5px,#e1d4e0 220.5px 221.5px,#faf0ff 221.5px 222.5px,#ebe3fa 222.5px 223.5px,#d5d0e7 223.5px 224.5px,#f5f1ff 224.5px 225.5px,#e5dff6 225.5px 226.5px,#e3dbec 226.5px 227.5px,#f4ecfb 227.5px 228.5px,#fdf2fc 228.5px 229.5px,#f8e6eb 229.5px 230.5px,#ffe8ee 230.5px 231.5px,#e7c8cb 231.5px 232.5px,#ffdfe2 232.5px 233.5px,#ffe8ed 233.5px 234.5px,#f1e1e7 234.5px 235.5px,#faeef4 235.5px 236.5px,#fff4fa 236.5px 237.5px,#fdeff3 237.5px 238.5px,#f6e3e6 238.5px 239.5px,#fce7ed 239.5px 240.5px,#f7e6f1 240.5px 241.5px,#e9deef 241.5px 242.5px,#e8e1f7 242.5px 243.5px,#e8e1f5 243.5px 244.5px,#f5e9f5 244.5px 245.5px,#ffeaf0 245.5px 246.5px,#fee0e1 246.5px 247.5px,#eed1d2 247.5px 248.5px,#ffebed 248.5px 249.5px,#fce8eb 249.5px 250.5px,#ffeef3 250.5px 251.5px,#fde6ec 251.5px 252.5px,#f0d3d9 252.5px 253.5px,#fbd7de 253.5px 254.5px,#f9d0d4 254.5px 255.5px,#f2ccd0 255.5px 256.5px,#fcdde1 256.5px 257.5px,#ffe7eb 257.5px 258.5px,#ffe4e7 258.5px 259.5px,#efd4d7 259.5px 260.5px,#ffe3e5 260.5px 261.5px,#ffe9ef 261.5px 262.5px,#eddae4 262.5px 263.5px,#eedbe6 263.5px 264.5px,#f8e9f7 264.5px 265.5px,#f4e7f2 265.5px 266.5px,#f6e7ef 266.5px 267.5px,#f2e6f0 267.5px 268.5px,#fff1f9 268.5px 269.5px,#f8e5ea 269.5px 270.6px,#e8d7df 270.6px 271.6px,#fff2f9 271.6px 272.6px,#feebf1 272.6px 273.6px,#f6e1e6 273.6px 274.6px,#fde2e5 274.6px 275.6px,#f9d9db 275.6px 276.6px,#ffe5ea 276.6px 277.6px,#e8cfd6 277.6px 278.6px,#f4e1e9 278.6px 279.6px,#fff5fd 279.6px 280.6px,#fdf4f9 280.6px 281.6px,#f6ecf1 281.6px 282.6px,#faf1f7 282.6px 283.6px,#f7eef8 283.6px 284.6px,#f7eefa 284.6px 285.6px,#eae0ec 285.6px 286.6px,#f0e7f5 286.6px 287.6px,#fff2fe 287.6px 288.6px,#efdee7 288.6px 289.6px,#f4e1eb 289.6px 290.6px,#f7dfe5 290.6px 291.6px,#fbe3e6 291.6px 292.6px,#ffecf2 292.6px 293.6px,#fce8f0 293.6px 294.6px,#efd9e1 294.6px 295.6px,#ecd8e0 295.6px 296.6px,#fff1f5 296.6px 297.6px)"></div><div style="position:absolute;left:47.2px;top:187.78px;width:297.60px;height:10.72px;background:linear-gradient(90deg,#afaff3 0.0px 1.0px,#ceceff 1.0px 2.0px,#d4d4ff 2.0px 3.0px,#afafed 3.0px 4.0px,#bbbbff 4.0px 5.0px,#bcbcfe 5.0px 6.0px,#c1c1fd 6.0px 7.0px,#c8c8ff 7.0px 8.0px,#d1d1ff 8.0px 9.0px,#b9b9f0 9.0px 10.0px,#c7c7fc 10.0px 11.0px,#d5d5ff 11.0px 12.0px,#d2d2ff 12.0px 13.1px,#cdcdff 13.1px 14.1px,#c6c6f8 14.1px 15.1px,#ccccfd 15.1px 16.1px,#d9d9ff 16.1px 17.1px,#ceceff 17.1px 18.1px,#bdbdf4 18.1px 19.1px,#cbcbff 19.1px 20.1px,#b7b7f7 20.1px 21.1px,#b6b6f6 21.1px 22.1px,#cdcdff 22.1px 23.1px,#bfbdf4 23.1px 24.1px,#c4c0eb 24.1px 25.1px,#f2ebff 25.1px 26.1px,#e6e0f9 26.1px 27.1px,#f2e7fe 27.1px 28.1px,#dccde1 28.1px 29.1px,#ecdaea 29.1px 30.1px,#ffeaf4 30.1px 31.1px,#f2dde2 31.1px 32.1px,#feedf1 32.1px 33.1px,#faebf0 33.1px 34.1px,#fff0f3 34.1px 35.1px,#fee5e8 35.1px 36.1px,#e9d0d4 36.1px 37.1px,#fde5e9 37.1px 38.1px,#fff3f8 38.1px 39.1px,#faf1f7 39.1px 40.1px,#f8eff6 40.1px 41.1px,#fbeff6 41.1px 42.1px,#f5e7ee 42.1px 43.1px,#faebf3 43.1px 44.1px,#ede1ef 44.1px 45.1px,#f0e7f9 45.1px 46.1px,#e1daea 46.1px 47.1px,#f9f3ff 47.1px 48.1px,#fff3fb 48.1px 49.1px,#fcebef 49.1px 50.1px,#eedbdf 50.1px 51.1px,#ffeef0 51.1px 52.1px,#fde6e8 52.1px 53.2px,#ffeaee 53.2px 54.2px,#f0dde3 54.2px 55.2px,#f9e7ed 55.2px 56.2px,#fdeff7 56.2px 57.2px,#f9eef7 57.2px 58.2px,#faebf5 58.2px 59.2px,#edd9e4 59.2px 60.2px,#f1dbe7 60.2px 61.2px,#edd9e5 61.2px 62.2px,#f2e2ed 62.2px 63.2px,#fffaff 63.2px 64.2px,#eae5f1 64.2px 65.2px,#fdf1fb 65.2px 66.2px,#f0e1ea 66.2px 67.2px,#f8e6ed 67.2px 68.2px,#f4e0e7 68.2px 69.2px,#feebf1 69.2px 70.2px,#f9e4e9 70.2px 71.2px,#fde9ec 71.2px 72.2px,#f7e4e9 72.2px 73.2px,#ffedf2 73.2px 74.2px,#f2dbe2 74.2px 75.2px,#f3dce5 75.2px 76.2px,#f8e0eb 76.2px 77.2px,#ebd9e4 77.2px 78.2px,#f2e4f1 78.2px 79.2px,#fff3fd 79.2px 80.2px,#f4dde6 80.2px 81.2px,#e9cfda 81.2px 82.2px,#f7d9e3 82.2px 83.2px,#f0d8e2 83.2px 84.2px,#f6e7f1 84.2px 85.2px,#fcf2fa 85.2px 86.2px,#fef9ff 86.2px 87.2px,#f0ecf2 87.2px 88.2px,#fff7fd 88.2px 89.2px,#ffeff4 89.2px 90.2px,#ecdbde 90.2px 91.2px,#ffeff2 91.2px 92.2px,#ffe7ea 92.2px 93.2px,#f2d6d8 93.2px 94.2px,#f7dbde 94.2px 95.2px,#fce7eb 95.2px 96.2px,#fdf0f4 96.2px 97.2px,#fff3f7 97.2px 98.2px,#fff1f3 98.2px 99.2px,#f5e3e5 99.2px 100.2px,#fce6e9 100.2px 101.2px,#ffecef 101.2px 102.2px,#f0dde0 102.2px 103.2px,#fff2f5 103.2px 104.2px,#fbeef1 104.2px 105.2px,#fff4f8 105.2px 106.2px,#ffeef1 106.2px 107.3px,#f4dde1 107.3px 108.3px,#f6dbe1 108.3px 109.3px,#fbdde1 109.3px 110.3px,#ffe0e4 110.3px 111.3px,#f7d4d7 111.3px 112.3px,#f4d3d9 112.3px 113.3px,#fce3ef 113.3px 114.3px,#e6d3e1 114.3px 115.3px,#fdeaf8 115.3px 116.3px,#efd9e5 116.3px 117.3px,#f7dde7 117.3px 118.3px,#ead2dd 118.3px 119.3px,#f6e5f1 119.3px 120.3px,#f7eaf5 120.3px 121.3px,#fef1fa 121.3px 122.3px,#ece0ea 122.3px 123.3px,#f9e6f1 123.3px 124.3px,#fae3eb 124.3px 125.3px,#ecd2d8 125.3px 126.3px,#ffe5e8 126.3px 127.3px,#ffe6e8 127.3px 128.3px,#ffe8eb 128.3px 129.3px,#efdbe4 129.3px 130.3px,#feedfb 130.3px 131.3px,#d7cadd 131.3px 132.3px,#f7ecff 132.3px 133.3px,#e4d7e6 133.3px 134.3px,#f9e8f2 134.3px 135.3px,#ffebf1 135.3px 136.3px,#f7dbdd 136.3px 137.3px,#ffe4e5 137.3px 138.3px,#eececf 138.3px 139.3px,#ffe6e8 139.3px 140.3px,#ffecf2 140.3px 141.3px,#e8d7e2 141.3px 142.3px,#f5e6f4 142.3px 143.3px,#eedfed 143.3px 144.3px,#f9e8f2 144.3px 145.3px,#f4e0e6 145.3px 146.3px,#fbe8f0 146.3px 147.3px,#f4e5ef 147.3px 148.3px,#efe4f2 148.3px 149.3px,#f2e8f6 149.3px 150.3px,#eee1ec 150.3px 151.3px,#fdf0f9 151.3px 152.3px,#f1e6ec 152.3px 153.3px,#fff3f8 153.3px 154.3px,#fff2f6 154.3px 155.3px,#f3dddf 155.3px 156.3px,#ffe5e8 156.3px 157.3px,#f6d8dd 157.3px 158.3px,#ecd4da 158.3px 159.3px,#fff0f9 159.3px 160.3px,#f3e8f4 160.3px 161.4px,#f0e6f3 161.4px 162.4px,#ebdeeb 162.4px 163.4px,#ffedf7 163.4px 164.4px,#f3dee4 164.4px 165.4px,#fce3e9 165.4px 166.4px,#f7dee5 166.4px 167.4px,#eddbe6 167.4px 168.4px,#faeaf5 168.4px 169.4px,#f9e9f5 169.4px 170.4px,#f6e6f1 170.4px 171.4px,#e3d2db 171.4px 172.4px,#fff3f9 172.4px 173.4px,#fbf0f5 173.4px 174.4px,#fdf5fc 174.4px 175.4px,#f8eef5 175.4px 176.4px,#f4e9f2 176.4px 177.4px,#f4e8f4 177.4px 178.4px,#f2e2ec 178.4px 179.4px,#f8e3ed 179.4px 180.4px,#f3dce4 180.4px 181.4px,#f7dade 181.4px 182.4px,#ffecef 182.4px 183.4px,#ebd9e0 183.4px 184.4px,#f9ecfb 184.4px 185.4px,#f0e8fc 185.4px 186.4px,#dcd6eb 186.4px 187.4px,#ece4f7 187.4px 188.4px,#f5eaf9 188.4px 189.4px,#faeffb 189.4px 190.4px,#eadce7 190.4px 191.4px,#ffedf6 191.4px 192.4px,#eed4da 192.4px 193.4px,#f9d8dc 193.4px 194.4px,#ffe2e5 194.4px 195.4px,#f3dae0 195.4px 196.4px,#fde8f0 196.4px 197.4px,#f7e9f7 197.4px 198.4px,#e6dbe9 198.4px 199.4px,#f4eaf7 199.4px 200.4px,#f6eaf5 200.4px 201.4px,#ffedf2 201.4px 202.4px,#fbe3e5 202.4px 203.4px,#f4dbde 203.4px 204.4px,#fce5ea 204.4px 205.4px,#fcebf2 205.4px 206.4px,#f0e7f1 206.4px 207.4px,#fbf2fd 207.4px 208.4px,#f9eaf3 208.4px 209.4px,#f1e0ec 209.4px 210.4px,#f5ddea 210.4px 211.4px,#f5d5e1 211.4px 212.4px,#e5c8d6 212.4px 213.4px,#f2d6e0 213.4px 214.4px,#ffe7ec 214.4px 215.4px,#ffe6eb 215.4px 216.5px,#efd7df 216.5px 217.5px,#f6dfeb 217.5px 218.5px,#ead7e3 218.5px 219.5px,#f8e9f6 219.5px 220.5px,#f8eaf3 220.5px 221.5px,#f1e4eb 221.5px 222.5px,#fcf0fa 222.5px 223.5px,#faecf3 223.5px 224.5px,#f0e0e5 224.5px 225.5px,#fbebf2 225.5px 226.5px,#fcf0fa 226.5px 227.5px,#ece5f3 227.5px 228.5px,#f0e8f9 228.5px 229.5px,#eedfef 229.5px 230.5px,#f3dee8 230.5px 231.5px,#eed5dc 231.5px 232.5px,#ffecf0 232.5px 233.5px,#f9e2e8 233.5px 234.5px,#f5e2ec 234.5px 235.5px,#efdbe3 235.5px 236.5px,#fdebf3 236.5px 237.5px,#f3e3ea 237.5px 238.5px,#fff0f4 238.5px 239.5px,#f7e7ed 239.5px 240.5px,#f1e5ed 240.5px 241.5px,#faedf4 241.5px 242.5px,#fff4fc 242.5px 243.5px,#f0dde3 243.5px 244.5px,#fce3e7 244.5px 245.5px,#fad9dc 245.5px 246.5px,#ffdfe0 246.5px 247.5px,#f0cdce 247.5px 248.5px,#ffdfe1 248.5px 249.5px,#ffe7e9 249.5px 250.5px,#fee9eb 250.5px 251.5px,#fae6eb 251.5px 252.5px,#ffecf1 252.5px 253.5px,#f0dbe0 253.5px 254.5px,#ffeaf0 254.5px 255.5px,#f1dade 255.5px 256.5px,#ffe9ed 256.5px 257.5px,#fceaf0 257.5px 258.5px,#fbedf5 258.5px 259.5px,#eddee5 259.5px 260.5px,#feedf3 260.5px 261.5px,#fff3fa 261.5px 262.5px,#e9d8e1 262.5px 263.5px,#f1dde6 263.5px 264.5px,#ffeef7 264.5px 265.5px,#f3e1e9 265.5px 266.5px,#ffe9ee 266.5px 267.5px,#edd8de 267.5px 268.5px,#fbe7eb 268.5px 269.5px,#fff2f4 269.5px 270.6px,#faeaf0 270.6px 271.6px,#f5e9f4 271.6px 272.6px,#e9deee 272.6px 273.6px,#f1e5f7 273.6px 274.6px,#ebddec 274.6px 275.6px,#efdbe5 275.6px 276.6px,#ffeef4 276.6px 277.6px,#f2dde1 277.6px 278.6px,#ffeef1 278.6px 279.6px,#fae3e5 279.6px 280.6px,#fce6e9 280.6px 281.6px,#f7e3e8 281.6px 282.6px,#f8e8ee 282.6px 283.6px,#fcf0fa 283.6px 284.6px,#fdeefc 284.6px 285.6px,#e4ced9 285.6px 286.6px,#ebd1dc 286.6px 287.6px,#ffe8ef 287.6px 288.6px,#fcdee1 288.6px 289.6px,#f9dcdf 289.6px 290.6px,#f8dde2 290.6px 291.6px,#fbe2e9 291.6px 292.6px,#f6e0ec 292.6px 293.6px,#f1def0 293.6px 294.6px,#e1ccdd 294.6px 295.6px,#eddaec 295.6px 296.6px,#f3e2f3 296.6px 297.6px)"></div><div style="position:absolute;left:47.2px;top:198.45px;width:297.60px;height:10.72px;background:linear-gradient(90deg,#f7eff5 0.0px 1.0px,#fbf2f9 1.0px 2.0px,#f9f2fc 2.0px 3.0px,#efeaf7 3.0px 4.0px,#e7e5f5 4.0px 5.0px,#f4f3ff 5.0px 6.0px,#f1f1fe 6.0px 7.0px,#f4f3ff 7.0px 8.0px,#f2f0ff 8.0px 9.0px,#e3e0ef 9.0px 10.0px,#fbf7ff 10.0px 11.0px,#f5f0fa 11.0px 12.0px,#f8f4fd 12.0px 13.1px,#f5f1fc 13.1px 14.1px,#edecf8 14.1px 15.1px,#f5f4ff 15.1px 16.1px,#f4f3fe 16.1px 17.1px,#f9f7ff 17.1px 18.1px,#f2eff9 18.1px 19.1px,#f3f0fd 19.1px 20.1px,#f2f1ff 20.1px 21.1px,#e7e6f7 21.1px 22.1px,#f1f1ff 22.1px 23.1px,#e9e7f9 23.1px 24.1px,#eeeafa 24.1px 25.1px,#f9f1ff 25.1px 26.1px,#e1d6e7 26.1px 27.1px,#eee2f5 27.1px 28.1px,#ebdfef 28.1px 29.1px,#f9eaf4 29.1px 30.1px,#fbebf4 30.1px 31.1px,#f5e3ef 31.1px 32.1px,#ead7e4 32.1px 33.1px,#eedcec 33.1px 34.1px,#fae9f7 34.1px 35.1px,#e6d7e2 35.1px 36.1px,#fef1fb 36.1px 37.1px,#f9eff7 37.1px 38.1px,#f5edf4 38.1px 39.1px,#fbf0f6 39.1px 40.1px,#fff6fa 40.1px 41.1px,#ecdbe3 41.1px 42.1px,#f7e5f1 42.1px 43.1px,#ded1e0 43.1px 44.1px,#faf4ff 44.1px 45.1px,#e3e0f8 45.1px 46.1px,#dfd6eb 46.1px 47.1px,#f8ebfd 47.1px 48.1px,#eddce9 48.1px 49.1px,#f6e2eb 49.1px 50.1px,#f8e3eb 50.1px 51.1px,#fbe5eb 51.1px 52.1px,#fde1e3 52.1px 53.2px,#f8dedf 53.2px 54.2px,#fde8ec 54.2px 55.2px,#fce9ee 55.2px 56.2px,#fff0f7 56.2px 57.2px,#ead8e0 57.2px 58.2px,#f7e3eb 58.2px 59.2px,#f2e3ed 59.2px 60.2px,#fff7ff 60.2px 61.2px,#eadfe9 61.2px 62.2px,#fcedf7 62.2px 63.2px,#eddeea 63.2px 64.2px,#f9e7f2 64.2px 65.2px,#f3dee8 65.2px 66.2px,#ead9e3 66.2px 67.2px,#ffeefc 67.2px 68.2px,#f2e4f5 68.2px 69.2px,#daccdd 69.2px 70.2px,#f7e7f8 70.2px 71.2px,#f7e4f0 71.2px 72.2px,#f2dee7 72.2px 73.2px,#f6e4ed 73.2px 74.2px,#f5e5f3 74.2px 75.2px,#f7e9fc 75.2px 76.2px,#d9c9d9 76.2px 77.2px,#f6e3f3 77.2px 78.2px,#f0dbe4 78.2px 79.2px,#ffedee 79.2px 80.2px,#ffe5e6 80.2px 81.2px,#f4dfe2 81.2px 82.2px,#ffe9ed 82.2px 83.2px,#ffe9f0 83.2px 84.2px,#e1ced6 84.2px 85.2px,#fbe9f0 85.2px 86.2px,#fff6ff 86.2px 87.2px,#f8f2fd 87.2px 88.2px,#f3e7ef 88.2px 89.2px,#f5e5ed 89.2px 90.2px,#f4e2e8 90.2px 91.2px,#fff0f4 91.2px 92.2px,#fff1f5 92.2px 93.2px,#f3e7ec 93.2px 94.2px,#fcf1f8 94.2px 95.2px,#faeef7 95.2px 96.2px,#f3e6ef 96.2px 97.2px,#efe3ef 97.2px 98.2px,#f5e8f5 98.2px 99.2px,#f0e3f0 99.2px 100.2px,#f5e7f5 100.2px 101.2px,#f5e4ed 101.2px 102.2px,#ebdbe3 102.2px 103.2px,#fff6ff 103.2px 104.2px,#f0e7f8 104.2px 105.2px,#dbd2e3 105.2px 106.2px,#f4e6f6 106.2px 107.3px,#f0e3ef 107.3px 108.3px,#fff1fa 108.3px 109.3px,#f6e7ef 109.3px 110.3px,#f7e1e8 110.3px 111.3px,#ffe4e8 111.3px 112.3px,#e0c5c9 112.3px 113.3px,#fff5fc 113.3px 114.3px,#fbecf3 114.3px 115.3px,#ffeef5 115.3px 116.3px,#ecd3db 116.3px 117.3px,#f1d7e1 117.3px 118.3px,#f0d8e3 118.3px 119.3px,#fceaf5 119.3px 120.3px,#f4e6f1 120.3px 121.3px,#f8eaf6 121.3px 122.3px,#eddee9 122.3px 123.3px,#f4e8f4 123.3px 124.3px,#f7e9f1 124.3px 125.3px,#fff2f5 125.3px 126.3px,#f3e0e5 126.3px 127.3px,#fae7ef 127.3px 128.3px,#f1dfee 128.3px 129.3px,#ebe1f7 129.3px 130.3px,#dacee4 130.3px 131.3px,#f2e6f9 131.3px 132.3px,#f0e4f2 132.3px 133.3px,#fff0f5 133.3px 134.3px,#f9e6e9 134.3px 135.3px,#ffebed 135.3px 136.3px,#fde0e2 136.3px 137.3px,#ffdfe3 137.3px 138.3px,#e7c4c9 138.3px 139.3px,#fedde2 139.3px 140.3px,#f9e1e8 140.3px 141.3px,#f9eaf3 141.3px 142.3px,#f6eefa 142.3px 143.3px,#efe9f8 143.3px 144.3px,#f1eaf9 144.3px 145.3px,#eee4f1 145.3px 146.3px,#f3e7f3 146.3px 147.3px,#f7edfa 147.3px 148.3px,#f0e8f7 148.3px 149.3px,#e8e0f1 149.3px 150.3px,#f6eafb 150.3px 151.3px,#e9d8e3 151.3px 152.3px,#ffebf5 152.3px 153.3px,#f3dde5 153.3px 154.3px,#fce1e7 154.3px 155.3px,#f9dae0 155.3px 156.3px,#fbd7da 156.3px 157.3px,#f2d1d4 157.3px 158.3px,#ffe8f0 158.3px 159.3px,#f5e1eb 159.3px 160.3px,#eddde8 160.3px 161.4px,#f9e6ee 161.4px 162.4px,#fbe6eb 162.4px 163.4px,#fce8ec 163.4px 164.4px,#f7e7eb 164.4px 165.4px,#fff2f7 165.4px 166.4px,#feecf0 166.4px 167.4px,#f7e1e5 167.4px 168.4px,#f5dde0 168.4px 169.4px,#fae6e8 169.4px 170.4px,#fff4f7 170.4px 171.4px,#ffedef 171.4px 172.4px,#ecc9cc 172.4px 173.4px,#f0c9cb 173.4px 174.4px,#ffe3e6 174.4px 175.4px,#f9e4eb 175.4px 176.4px,#fdeff9 176.4px 177.4px,#eee1ed 177.4px 178.4px,#f2e5f1 178.4px 179.4px,#eedfea 179.4px 180.4px,#fbeef9 180.4px 181.4px,#f7ecf8 181.4px 182.4px,#efe3ed 182.4px 183.4px,#faeaf2 183.4px 184.4px,#fbe7eb 184.4px 185.4px,#fae5e8 185.4px 186.4px,#feebef 186.4px 187.4px,#fcebef 187.4px 188.4px,#f4e6ef 188.4px 189.4px,#fdeffb 189.4px 190.4px,#e6d7e2 190.4px 191.4px,#f7e9f7 191.4px 192.4px,#f3e6f7 192.4px 193.4px,#efe3f4 193.4px 194.4px,#dad2e6 194.4px 195.4px,#f9efff 195.4px 196.4px,#efdff0 196.4px 197.4px,#f2ddec 197.4px 198.4px,#e6cdda 198.4px 199.4px,#efd9e6 199.4px 200.4px,#ffeefb 200.4px 201.4px,#f5e6f0 201.4px 202.4px,#ecdce6 202.4px 203.4px,#feebf5 203.4px 204.4px,#f7dfe7 204.4px 205.4px,#fce0e7 205.4px 206.4px,#e2cbd5 206.4px 207.4px,#feecfa 207.4px 208.4px,#f4e8f8 208.4px 209.4px,#e4dded 209.4px 210.4px,#f6e9f7 210.4px 211.4px,#ffedf6 211.4px 212.4px,#edd9e5 212.4px 213.4px,#ead6e5 213.4px 214.4px,#eedae8 214.4px 215.4px,#f9e7f3 215.4px 216.5px,#f9e1e7 216.5px 217.5px,#ffe2e4 217.5px 218.5px,#f7dadb 218.5px 219.5px,#fce0e6 219.5px 220.5px,#ffeaf4 220.5px 221.5px,#dac8d7 221.5px 222.5px,#f7e7fc 222.5px 223.5px,#e2d3e5 223.5px 224.5px,#eee2f2 224.5px 225.5px,#fff4ff 225.5px 226.5px,#ece1e9 226.5px 227.5px,#faeff6 227.5px 228.5px,#fff5fa 228.5px 229.5px,#fbe8ed 229.5px 230.5px,#f4dde6 230.5px 231.5px,#e8cfda 231.5px 232.5px,#f6deea 232.5px 233.5px,#efdef1 233.5px 234.5px,#f6e6fc 234.5px 235.5px,#d1c2d8 235.5px 236.5px,#ebe0f7 236.5px 237.5px,#f3e4f3 237.5px 238.5px,#faebf5 238.5px 239.5px,#f3e8f4 239.5px 240.5px,#f4e9f4 240.5px 241.5px,#eee5f1 241.5px 242.5px,#f8effc 242.5px 243.5px,#f6ebf8 243.5px 244.5px,#efdce7 244.5px 245.5px,#f9dee9 245.5px 246.5px,#ddc4d1 246.5px 247.5px,#ffeaf7 247.5px 248.5px,#edd6e1 248.5px 249.5px,#fce8f3 249.5px 250.5px,#ead0d7 250.5px 251.5px,#ffe9ec 251.5px 252.5px,#f7d7d9 252.5px 253.5px,#fbd6d7 253.5px 254.5px,#ffe4e4 254.5px 255.5px,#e8b6b7 255.5px 256.5px,#ebbdc1 256.5px 257.5px,#ffe5ea 257.5px 258.5px,#fae2e7 258.5px 259.5px,#feebf1 259.5px 260.5px,#f3dee4 260.5px 261.5px,#fbe8f0 261.5px 262.5px,#f2e5f0 262.5px 263.5px,#f0e5f0 263.5px 264.5px,#faf1fc 264.5px 265.5px,#f4eaf4 265.5px 266.5px,#fbeef5 266.5px 267.5px,#f5eaf3 267.5px 268.5px,#f7eaf6 268.5px 269.5px,#f0e0ee 269.5px 270.6px,#ecdcef 270.6px 271.6px,#ecdbef 271.6px 272.6px,#dacada 272.6px 273.6px,#fff6ff 273.6px 274.6px,#f1e4ed 274.6px 275.6px,#fceef3 275.6px 276.6px,#faebef 276.6px 277.6px,#fff0f4 277.6px 278.6px,#fbe4ea 278.6px 279.6px,#edd5dd 279.6px 280.6px,#f3dee9 280.6px 281.6px,#f1e2ee 281.6px 282.6px,#faf4ff 282.6px 283.6px,#ebe7fc 283.6px 284.6px,#e9dbef 284.6px 285.6px,#eed6e7 285.6px 286.6px,#e2c6d2 286.6px 287.6px,#fedfe6 287.6px 288.6px,#fee8ed 288.6px 289.6px,#fbeaf0 289.6px 290.6px,#ffedf2 290.6px 291.6px,#ecdce2 291.6px 292.6px,#fff2fa 292.6px 293.6px,#f7e8ef 293.6px 294.6px,#fbeaf2 294.6px 295.6px,#e9d8de 295.6px 296.6px,#fff1f5 296.6px 297.6px)"></div><div style="position:absolute;left:47.2px;top:209.12px;width:297.60px;height:10.72px;background:linear-gradient(90deg,#ddddff 0.0px 1.0px,#dadafe 1.0px 2.0px,#e1e1ff 2.0px 3.0px,#ccccf5 3.0px 4.0px,#cecef7 4.0px 5.0px,#e0e0ff 5.0px 6.0px,#dcdcff 6.0px 7.0px,#c7c7f1 7.0px 8.0px,#dbdbff 8.0px 9.0px,#ccccf4 9.0px 10.0px,#e4e4ff 10.0px 11.0px,#d9d9ff 11.0px 12.0px,#dcdcff 12.0px 13.1px,#ccccf8 13.1px 14.1px,#c9c9f7 14.1px 15.1px,#d9d9ff 15.1px 16.1px,#d2d2ff 16.1px 17.1px,#c9c9f7 17.1px 18.1px,#cecefd 18.1px 19.1px,#ddddff 19.1px 20.1px,#c5c5fb 20.1px 21.1px,#bcbcf6 21.1px 22.1px,#c2c2ff 22.1px 23.1px,#c7c5fd 23.1px 24.1px,#beb8e1 24.1px 25.1px,#fcefff 25.1px 26.1px,#f7e4f2 26.1px 27.1px,#eed8e1 27.1px 28.1px,#fbe0eb 28.1px 29.1px,#edd0da 29.1px 30.1px,#f1d3dc 30.1px 31.1px,#ffe4ea 31.1px 32.1px,#f6dce1 32.1px 33.1px,#ffeaef 33.1px 34.1px,#f3d9dd 34.1px 35.1px,#f7dee0 35.1px 36.1px,#fff1f3 36.1px 37.1px,#f8ebf0 37.1px 38.1px,#fdf2fa 38.1px 39.1px,#f7e9f3 39.1px 40.1px,#efdde6 40.1px 41.1px,#f8e3ec 41.1px 42.1px,#f5e2f0 42.1px 43.1px,#ecdff3 43.1px 44.1px,#dcd6ef 44.1px 45.1px,#e8e4fc 45.1px 46.1px,#eee8fa 46.1px 47.1px,#f8f0ff 47.1px 48.1px,#efe5f1 48.1px 49.1px,#efe2ed 49.1px 50.1px,#fceaf3 50.1px 51.1px,#fee4e9 51.1px 52.1px,#f2d6d7 52.1px 53.2px,#fde3e7 53.2px 54.2px,#ffecf1 54.2px 55.2px,#fbe6ec 55.2px 56.2px,#efdde6 56.2px 57.2px,#fae5f0 57.2px 58.2px,#eed9e6 58.2px 59.2px,#f2dfef 59.2px 60.2px,#ecd6e2 60.2px 61.2px,#f6e1eb 61.2px 62.2px,#f9e7ef 62.2px 63.2px,#fcebf2 63.2px 64.2px,#f8eaf1 64.2px 65.2px,#f6e9f1 65.2px 66.2px,#f6eaf1 66.2px 67.2px,#fdf1f7 67.2px 68.2px,#f9eef5 68.2px 69.2px,#f5eaf3 69.2px 70.2px,#efe4ee 70.2px 71.2px,#faecf5 71.2px 72.2px,#fff0f6 72.2px 73.2px,#edd3d6 73.2px 74.2px,#ffe7e9 74.2px 75.2px,#f3d4d6 75.2px 76.2px,#ffe5ea 76.2px 77.2px,#f9e4ed 77.2px 78.2px,#ead9e1 78.2px 79.2px,#fff3fb 79.2px 80.2px,#f1dbe2 80.2px 81.2px,#f8dde2 81.2px 82.2px,#ffe2e6 82.2px 83.2px,#e8d0d6 83.2px 84.2px,#fff3fb 84.2px 85.2px,#f5e9f5 85.2px 86.2px,#efe9fa 86.2px 87.2px,#e3d7e6 87.2px 88.2px,#ffebf6 88.2px 89.2px,#f5d9e0 89.2px 90.2px,#ebd1d7 90.2px 91.2px,#ffeaf3 91.2px 92.2px,#f6e2ec 92.2px 93.2px,#f6e2e9 93.2px 94.2px,#f6dee5 94.2px 95.2px,#ffe7ee 95.2px 96.2px,#f0dbe3 96.2px 97.2px,#f4e4ef 97.2px 98.2px,#efe3ee 98.2px 99.2px,#f9eff8 99.2px 100.2px,#fef6fe 100.2px 101.2px,#f7edf6 101.2px 102.2px,#f8ecf6 102.2px 103.2px,#e3d8e3 103.2px 104.2px,#fff1ff 104.2px 105.2px,#f8e5f0 105.2px 106.2px,#edd6de 106.2px 107.3px,#f6dce5 107.3px 108.3px,#fae1eb 108.3px 109.3px,#eed9e3 109.3px 110.3px,#fce3ed 110.3px 111.3px,#fadbe6 111.3px 112.3px,#e9c8d3 112.3px 113.3px,#e9cad8 113.3px 114.3px,#f7def0 114.3px 115.3px,#edd1df 115.3px 116.3px,#fadce7 116.3px 117.3px,#e2c4ce 117.3px 118.3px,#ffecf4 118.3px 119.3px,#eed7e2 119.3px 120.3px,#e8d9e7 120.3px 121.3px,#f3e5f3 121.3px 122.3px,#fff5ff 122.3px 123.3px,#ebdbe4 123.3px 124.3px,#ffeef5 124.3px 125.3px,#e6c8cd 125.3px 126.3px,#ffe6e9 126.3px 127.3px,#f5d4d7 127.3px 128.3px,#f4dbdd 128.3px 129.3px,#fff0f6 129.3px 130.3px,#fef5fe 130.3px 131.3px,#ede7f2 131.3px 132.3px,#f4edfb 132.3px 133.3px,#f3e5f1 133.3px 134.3px,#f8e5ed 134.3px 135.3px,#f4dadf 135.3px 136.3px,#ffe6e7 136.3px 137.3px,#f0cccc 137.3px 138.3px,#fbdbdf 138.3px 139.3px,#fce3ea 139.3px 140.3px,#f8e5ee 140.3px 141.3px,#f2e1ec 141.3px 142.3px,#f7e6f2 142.3px 143.3px,#f2e2ec 143.3px 144.3px,#f1e1ec 144.3px 145.3px,#fdeef9 145.3px 146.3px,#ede2f0 146.3px 147.3px,#f6eafc 147.3px 148.3px,#ddd1e1 148.3px 149.3px,#fbedfc 149.3px 150.3px,#f9e8ef 150.3px 151.3px,#f6e6ea 151.3px 152.3px,#fef1f8 152.3px 153.3px,#fcecf4 153.3px 154.3px,#fbe7ee 154.3px 155.3px,#ead2d7 155.3px 156.3px,#ffe6e9 156.3px 157.3px,#ffe4e7 157.3px 158.3px,#ecd3d6 158.3px 159.3px,#ffe9f2 159.3px 160.3px,#fbecfa 160.3px 161.4px,#dacfdd 161.4px 162.4px,#f7eefa 162.4px 163.4px,#fff8ff 163.4px 164.4px,#fff0f1 164.4px 165.4px,#f8e2e3 165.4px 166.4px,#f2dbdf 166.4px 167.4px,#ffeaf2 167.4px 168.4px,#f2deea 168.4px 169.4px,#f2deeb 169.4px 170.4px,#ead1db 170.4px 171.4px,#ffe7ed 171.4px 172.4px,#f3dce1 172.4px 173.4px,#ffeef1 173.4px 174.4px,#fdedf1 174.4px 175.4px,#ffeff6 175.4px 176.4px,#f3dfe5 176.4px 177.4px,#f8dfe5 177.4px 178.4px,#f3dbe1 178.4px 179.4px,#fce5e9 179.4px 180.4px,#ffebef 180.4px 181.4px,#fbe9ef 181.4px 182.4px,#f3e0ea 182.4px 183.4px,#f6e4f2 183.4px 184.4px,#e3cfdc 184.4px 185.4px,#ffecf9 185.4px 186.4px,#e7d7e3 186.4px 187.4px,#fff0f9 187.4px 188.4px,#f1e6f3 188.4px 189.4px,#f6efff 189.4px 190.4px,#e2d9e6 190.4px 191.4px,#fef0fa 191.4px 192.4px,#feeaf2 192.4px 193.4px,#f5dde1 193.4px 194.4px,#f1dae1 194.4px 195.4px,#feebf5 195.4px 196.4px,#f1e0ec 196.4px 197.4px,#eee2f0 197.4px 198.4px,#f0e1ec 198.4px 199.4px,#fff0fb 199.4px 200.4px,#f1e2ed 200.4px 201.4px,#ebd7de 201.4px 202.4px,#fff0f8 202.4px 203.4px,#f1dfe3 203.4px 204.4px,#fff4f5 204.4px 205.4px,#fadfe0 205.4px 206.4px,#f6dcde 206.4px 207.4px,#fbe1e6 207.4px 208.4px,#ffebf2 208.4px 209.4px,#ecd1dd 209.4px 210.4px,#ecd0df 210.4px 211.4px,#e7c9d6 211.4px 212.4px,#f6e1ef 212.4px 213.4px,#f8e9f6 213.4px 214.4px,#f4e6f0 214.4px 215.4px,#f2e5ee 215.4px 216.5px,#fceff8 216.5px 217.5px,#fcedf6 217.5px 218.5px,#f1dee9 218.5px 219.5px,#ecd8e6 219.5px 220.5px,#e8d2e1 220.5px 221.5px,#fde8f8 221.5px 222.5px,#e0d3e5 222.5px 223.5px,#f3e8fa 223.5px 224.5px,#eee4f3 224.5px 225.5px,#f7effc 225.5px 226.5px,#f0e8f6 226.5px 227.5px,#f4edff 227.5px 228.5px,#e4ddf1 228.5px 229.5px,#ede0f3 229.5px 230.5px,#f1dfec 230.5px 231.5px,#eed7df 231.5px 232.5px,#ffeff5 232.5px 233.5px,#ecd4dd 233.5px 234.5px,#f1deeb 234.5px 235.5px,#ead8e5 235.5px 236.5px,#ffeffa 236.5px 237.5px,#f9e6eb 237.5px 238.5px,#ffe3e4 238.5px 239.5px,#ffe6eb 239.5px 240.5px,#e6cfdc 240.5px 241.5px,#e7d2e2 241.5px 242.5px,#f1e1f6 242.5px 243.5px,#eee2f6 243.5px 244.5px,#e9d9e5 244.5px 245.5px,#fce8f0 245.5px 246.5px,#ffedf1 246.5px 247.5px,#f4d6d6 247.5px 248.5px,#ffe3e4 248.5px 249.5px,#f2d5d8 249.5px 250.5px,#ffeaed 250.5px 251.5px,#fddbde 251.5px 252.5px,#fcd6d8 252.5px 253.5px,#eec7c8 253.5px 254.5px,#ffe2e4 254.5px 255.5px,#fbdbdd 255.5px 256.5px,#fadfe2 256.5px 257.5px,#ffe6ea 257.5px 258.5px,#f9e2e6 258.5px 259.5px,#f4e1e6 259.5px 260.5px,#ffedf0 260.5px 261.5px,#fff3f7 261.5px 262.5px,#e8d2d9 262.5px 263.5px,#fbdfe6 263.5px 264.5px,#f5dce2 264.5px 265.5px,#fbe1e6 265.5px 266.5px,#ffeaee 266.5px 267.5px,#edd8dd 267.5px 268.5px,#fce7ed 268.5px 269.5px,#ffecf3 269.5px 270.6px,#f0e2ed 270.6px 271.6px,#f6e5f2 271.6px 272.6px,#ecd8e5 272.6px 273.6px,#f0dce8 273.6px 274.6px,#f9e3eb 274.6px 275.6px,#fae5eb 275.6px 276.6px,#fceaf1 276.6px 277.6px,#f8e6ed 277.6px 278.6px,#f5e0e6 278.6px 279.6px,#fae4ea 279.6px 280.6px,#fae6ec 280.6px 281.6px,#f5e1e7 281.6px 282.6px,#ffedf3 282.6px 283.6px,#f4e4ea 283.6px 284.6px,#f7e6ea 284.6px 285.6px,#fff2f7 285.6px 286.6px,#fbe7ef 286.6px 287.6px,#e0cdd7 287.6px 288.6px,#ffecf9 288.6px 289.6px,#eedce8 289.6px 290.6px,#f8e4ee 290.6px 291.6px,#f7dde3 291.6px 292.6px,#fbe2ee 292.6px 293.6px,#f0d9ec 293.6px 294.6px,#d3bccf 294.6px 295.6px,#f2e0f3 295.6px 296.6px,#fcebf6 296.6px 297.6px)"></div><div style="position:absolute;left:47.2px;top:219.79px;width:297.60px;height:10.72px;background:linear-gradient(90deg,#a4a4f6 0.0px 1.0px,#bbbbff 1.0px 2.0px,#bfbfff 2.0px 3.0px,#acacf2 3.0px 4.0px,#c3c3ff 4.0px 5.0px,#b2b2f6 5.0px 6.0px,#c4c4ff 6.0px 7.0px,#b7b7fe 7.0px 8.0px,#b4b4f9 8.0px 9.0px,#b0b0f3 9.0px 10.0px,#d2d2ff 10.0px 11.0px,#c2c2fa 11.0px 12.0px,#cdcdff 12.0px 13.1px,#c1c1ff 13.1px 14.1px,#b5b5f9 14.1px 15.1px,#aeaef6 15.1px 16.1px,#c3c3ff 16.1px 17.1px,#acacf2 17.1px 18.1px,#b4b4f9 18.1px 19.1px,#cfcfff 19.1px 20.1px,#acacf3 20.1px 21.1px,#acacf6 21.1px 22.1px,#bbbbff 22.1px 23.1px,#b3b3f8 23.1px 24.1px,#b0b0e4 24.1px 25.1px,#f3f1ff 25.1px 26.1px,#f5f0ff 26.1px 27.1px,#ebe2f3 27.1px 28.1px,#e9d7e7 28.1px 29.1px,#f5dcea 29.1px 30.1px,#f3d6df 30.1px 31.1px,#fad9de 31.1px 32.1px,#ffdee4 32.1px 33.1px,#f2d2d8 33.1px 34.1px,#f6d8e0 34.1px 35.1px,#f6dee8 35.1px 36.1px,#f3e1ec 36.1px 37.1px,#f8eaf8 37.1px 38.1px,#eddfef 38.1px 39.1px,#ecdae6 39.1px 40.1px,#f4e1eb 40.1px 41.1px,#ffebf2 41.1px 42.1px,#f0e0e6 42.1px 43.1px,#fcf1fc 43.1px 44.1px,#f5efff 44.1px 45.1px,#dfddf5 45.1px 46.1px,#e2dbf5 46.1px 47.1px,#e9ddf3 47.1px 48.1px,#ecddeb 48.1px 49.1px,#ffe9f1 49.1px 50.1px,#f9e1e9 50.1px 51.1px,#f1d9e1 51.1px 52.1px,#f7dfe6 52.1px 53.2px,#f9e6ef 53.2px 54.2px,#fae8f1 54.2px 55.2px,#f2e1e9 55.2px 56.2px,#f3e4ee 56.2px 57.2px,#fdeef7 57.2px 58.2px,#f7e6ec 58.2px 59.2px,#f6e8ef 59.2px 60.2px,#fdedf1 60.2px 61.2px,#fff3f4 61.2px 62.2px,#efdde0 62.2px 63.2px,#ffeff1 63.2px 64.2px,#feebec 64.2px 65.2px,#fcecef 65.2px 66.2px,#fdeef3 66.2px 67.2px,#faeef6 67.2px 68.2px,#f1e4ee 68.2px 69.2px,#f8e5f0 69.2px 70.2px,#ecd9e5 70.2px 71.2px,#efdce5 71.2px 72.2px,#feedf4 72.2px 73.2px,#ffedf2 73.2px 74.2px,#ffebee 74.2px 75.2px,#eed1d4 75.2px 76.2px,#f8dbde 76.2px 77.2px,#fae1e6 77.2px 78.2px,#ffeff5 78.2px 79.2px,#f4e3e8 79.2px 80.2px,#fff1f6 80.2px 81.2px,#f0dbe0 81.2px 82.2px,#ffe4e8 82.2px 83.2px,#ffe4e9 83.2px 84.2px,#ecd4dc 84.2px 85.2px,#f8e4ee 85.2px 86.2px,#f4e5f2 86.2px 87.2px,#fbeefb 87.2px 88.2px,#ebd7e0 88.2px 89.2px,#fbe1e9 89.2px 90.2px,#f3d9e0 90.2px 91.2px,#f9dfe5 91.2px 92.2px,#ffe5eb 92.2px 93.2px,#f9d8dd 93.2px 94.2px,#eac8cb 94.2px 95.2px,#ffe6e8 95.2px 96.2px,#ffe6e9 96.2px 97.2px,#f8e6eb 97.2px 98.2px,#f9eaf0 98.2px 99.2px,#fcf1fa 99.2px 100.2px,#f3e5ee 100.2px 101.2px,#fce9f3 101.2px 102.2px,#ead6e3 102.2px 103.2px,#edd7e3 103.2px 104.2px,#f0ddec 104.2px 105.2px,#feeafa 105.2px 106.2px,#e1cbd6 106.2px 107.3px,#eddae9 107.3px 108.3px,#fff2ff 108.3px 109.3px,#f1dbe5 109.3px 110.3px,#f8dae3 110.3px 111.3px,#f6d0d5 111.3px 112.3px,#efcacd 112.3px 113.3px,#ffe4e9 113.3px 114.3px,#fff2f8 114.3px 115.3px,#fbe4ea 115.3px 116.3px,#f6d9df 116.3px 117.3px,#e8cbd5 117.3px 118.3px,#fbe1ec 118.3px 119.3px,#f4e4f0 119.3px 120.3px,#efe2ee 120.3px 121.3px,#fff3fd 121.3px 122.3px,#eadae5 122.3px 123.3px,#eedde8 123.3px 124.3px,#fce9f3 124.3px 125.3px,#fae9f0 125.3px 126.3px,#f5e3e7 126.3px 127.3px,#ffeff3 127.3px 128.3px,#faeef7 128.3px 129.3px,#f2eafa 129.3px 130.3px,#e5dcf1 130.3px 131.3px,#e6d9ec 131.3px 132.3px,#f3e0ee 132.3px 133.3px,#f8e0e6 133.3px 134.3px,#ffe6e7 134.3px 135.3px,#ffe2e4 135.3px 136.3px,#eeced1 136.3px 137.3px,#ffe4e8 137.3px 138.3px,#e7ccd1 138.3px 139.3px,#ffeff8 139.3px 140.3px,#faeefa 140.3px 141.3px,#e4dae7 141.3px 142.3px,#fceffa 142.3px 143.3px,#f4e3e8 143.3px 144.3px,#ffeef0 144.3px 145.3px,#f7e5e8 145.3px 146.3px,#feeff4 146.3px 147.3px,#f8ebf2 147.3px 148.3px,#f3e8ef 148.3px 149.3px,#f8ecf3 149.3px 150.3px,#fdf0f7 150.3px 151.3px,#f8ecf3 151.3px 152.3px,#f1e7ee 152.3px 153.3px,#fef1f7 153.3px 154.3px,#fff5f8 154.3px 155.3px,#ecd2d2 155.3px 156.3px,#ffe4e4 156.3px 157.3px,#ffdadd 157.3px 158.3px,#e9cacf 158.3px 159.3px,#f7dde2 159.3px 160.3px,#fff1f7 160.3px 161.4px,#ffeaed 161.4px 162.4px,#efd9db 162.4px 163.4px,#fde9ed 163.4px 164.4px,#fff0f9 164.4px 165.4px,#f1e9f8 165.4px 166.4px,#e2dcf0 166.4px 167.4px,#e8e2f6 167.4px 168.4px,#f4e9fb 168.4px 169.4px,#f4e2ee 169.4px 170.4px,#f1dae0 170.4px 171.4px,#ffe6ea 171.4px 172.4px,#ffe9ed 172.4px 173.4px,#f4dee3 173.4px 174.4px,#fde5eb 174.4px 175.4px,#fde4e7 175.4px 176.4px,#f2dce1 176.4px 177.4px,#feebf4 177.4px 178.4px,#f0dee7 178.4px 179.4px,#f8e9f0 179.4px 180.4px,#f8e8ed 180.4px 181.4px,#fff1f3 181.4px 182.4px,#fff4f6 182.4px 183.4px,#faebf3 183.4px 184.4px,#ecdfed 184.4px 185.4px,#e0d3e3 185.4px 186.4px,#f4ebfd 186.4px 187.4px,#f4eefd 187.4px 188.4px,#f1ebf6 188.4px 189.4px,#f6f0fa 189.4px 190.4px,#f9eff6 190.4px 191.4px,#ffeff7 191.4px 192.4px,#eddbe2 192.4px 193.4px,#f1dce2 193.4px 194.4px,#fff1fb 194.4px 195.4px,#f5e4ef 195.4px 196.4px,#eed9e4 196.4px 197.4px,#e9d7e6 197.4px 198.4px,#f8e6f4 198.4px 199.4px,#ecdded 199.4px 200.4px,#f1e6fa 200.4px 201.4px,#e3d4e4 201.4px 202.4px,#fbecfa 202.4px 203.4px,#eee0ea 203.4px 204.4px,#fdecf2 204.4px 205.4px,#f9e9f1 205.4px 206.4px,#f8ebf5 206.4px 207.4px,#ede1eb 207.4px 208.4px,#f7ecf8 208.4px 209.4px,#f0e7f5 209.4px 210.4px,#f6eaf8 210.4px 211.4px,#efdfeb 211.4px 212.4px,#ecddec 212.4px 213.4px,#f3e4f2 213.4px 214.4px,#f4e2ec 214.4px 215.4px,#fce7ef 215.4px 216.5px,#f5dbe2 216.5px 217.5px,#f6dde5 217.5px 218.5px,#eed9e2 218.5px 219.5px,#fbebf6 219.5px 220.5px,#feedf5 220.5px 221.5px,#f4e1e9 221.5px 222.5px,#f4e0ec 222.5px 223.5px,#ecd9e7 223.5px 224.5px,#efe0f1 224.5px 225.5px,#ecdfed 225.5px 226.5px,#f7eef8 226.5px 227.5px,#fcf5ff 227.5px 228.5px,#fef3fc 228.5px 229.5px,#efdfe6 229.5px 230.5px,#f2dee5 230.5px 231.5px,#fbe5eb 231.5px 232.5px,#fde6ea 232.5px 233.5px,#f9e6ef 233.5px 234.5px,#f3e4f2 234.5px 235.5px,#ded1dd 235.5px 236.5px,#fff5ff 236.5px 237.5px,#fcebf4 237.5px 238.5px,#f0dadd 238.5px 239.5px,#f7e4e8 239.5px 240.5px,#fff7ff 240.5px 241.5px,#f2eaf4 241.5px 242.5px,#f4eefa 242.5px 243.5px,#f1eaf6 243.5px 244.5px,#f4eaf3 244.5px 245.5px,#fff2f8 245.5px 246.5px,#f9e3e7 246.5px 247.5px,#f2d7da 247.5px 248.5px,#ffe6e9 248.5px 249.5px,#f6d4d8 249.5px 250.5px,#fad8dd 250.5px 251.5px,#efd2da 251.5px 252.5px,#fee5f0 252.5px 253.5px,#f4dde8 253.5px 254.5px,#efd8e0 254.5px 255.5px,#fce3ea 255.5px 256.5px,#f8e0e5 256.5px 257.5px,#ffe5ea 257.5px 258.5px,#fad7dd 258.5px 259.5px,#e4c2c9 259.5px 260.5px,#fedce4 260.5px 261.5px,#f8dee9 261.5px 262.5px,#f1e0ed 262.5px 263.5px,#eddce8 263.5px 264.5px,#fcecf8 264.5px 265.5px,#f1dfe8 265.5px 266.5px,#ffebf1 266.5px 267.5px,#edd4d8 267.5px 268.5px,#fbe2e7 268.5px 269.5px,#ffebf3 269.5px 270.6px,#eed8e2 270.6px 271.6px,#ecd6e0 271.6px 272.6px,#fce5f0 272.6px 273.6px,#f9e8f4 273.6px 274.6px,#e9d8e3 274.6px 275.6px,#fae7f1 275.6px 276.6px,#efdfe8 276.6px 277.6px,#fff1f9 277.6px 278.6px,#f5e7f1 278.6px 279.6px,#f9eaf4 279.6px 280.6px,#e7d6e1 280.6px 281.6px,#ffecf4 281.6px 282.6px,#f4e1eb 282.6px 283.6px,#feeefc 283.6px 284.6px,#e0cbd8 284.6px 285.6px,#f9e0ec 285.6px 286.6px,#eed7e3 286.6px 287.6px,#f9e4ed 287.6px 288.6px,#f3e3ed 288.6px 289.6px,#faeffb 289.6px 290.6px,#f0e5ee 290.6px 291.6px,#f6ecf4 291.6px 292.6px,#faeef6 292.6px 293.6px,#fdeff6 293.6px 294.6px,#f2e2ea 294.6px 295.6px,#f3e1eb 295.6px 296.6px,#f4e2ed 296.6px 297.6px)"></div><div style="position:absolute;left:47.2px;top:230.46px;width:297.60px;height:10.72px;background:linear-gradient(90deg,#a7a7f5 0.0px 1.0px,#c3c3ff 1.0px 2.0px,#bebeff 2.0px 3.0px,#a9a9f4 3.0px 4.0px,#b1b1ff 4.0px 5.0px,#a8a8f4 5.0px 6.0px,#c1c1ff 6.0px 7.0px,#babaff 7.0px 8.0px,#b9b9ff 8.0px 9.0px,#ababf4 9.0px 10.0px,#babaff 10.0px 11.0px,#b8b8ff 11.0px 12.0px,#b7b7fc 12.0px 13.1px,#c1c1ff 13.1px 14.1px,#b6b6f9 14.1px 15.1px,#c3c3ff 15.1px 16.1px,#b2b2f6 16.1px 17.1px,#c0c0ff 17.1px 18.1px,#b7b7ff 18.1px 19.1px,#b1b1ff 19.1px 20.1px,#9e9ef6 20.1px 21.1px,#a0a0f8 21.1px 22.1px,#acacff 22.1px 23.1px,#b2b2fd 23.1px 24.1px,#aba9e0 24.1px 25.1px,#f5efff 25.1px 26.1px,#f5ebfd 26.1px 27.1px,#f3e6ee 27.1px 28.1px,#f8e7ef 28.1px 29.1px,#ffeef6 29.1px 30.1px,#e8d5df 30.1px 31.1px,#ffe8f3 31.1px 32.1px,#ecd1db 32.1px 33.1px,#f0d5de 33.1px 34.1px,#ffe4ea 34.1px 35.1px,#fbdcde 35.1px 36.1px,#f7dbde 36.1px 37.1px,#ffe6eb 37.1px 38.1px,#f6e0e8 38.1px 39.1px,#f3e0eb 39.1px 40.1px,#f0dce8 40.1px 41.1px,#fae5f2 41.1px 42.1px,#ebdae8 42.1px 43.1px,#eadcea 43.1px 44.1px,#f5ebfa 44.1px 45.1px,#f9f3fe 45.1px 46.1px,#f8eff4 46.1px 47.1px,#fbeff5 47.1px 48.1px,#fff2f9 48.1px 49.1px,#ebd5db 49.1px 50.1px,#f8dde3 50.1px 51.1px,#ffe6ea 51.1px 52.1px,#f8dee2 52.1px 53.2px,#ffe7ec 53.2px 54.2px,#eedae5 54.2px 55.2px,#f7e4f0 55.2px 56.2px,#f0dce9 56.2px 57.2px,#f4e1ee 57.2px 58.2px,#ecd8e0 58.2px 59.2px,#ffeef4 59.2px 60.2px,#fbeef3 60.2px 61.2px,#fff5f8 61.2px 62.2px,#fff1f4 62.2px 63.2px,#f6e7ee 63.2px 64.2px,#f8e4ef 64.2px 65.2px,#edd6e1 65.2px 66.2px,#e8d4e0 66.2px 67.2px,#ffecf5 67.2px 68.2px,#f7e4e9 68.2px 69.2px,#ffeff6 69.2px 70.2px,#f1e3ec 70.2px 71.2px,#f7e5ed 71.2px 72.2px,#ffeaf2 72.2px 73.2px,#e8c8cc 73.2px 74.2px,#ffdde4 74.2px 75.2px,#f2ccd7 75.2px 76.2px,#f2ced9 76.2px 77.2px,#e5c7d3 77.2px 78.2px,#ffeaf5 78.2px 79.2px,#f4dde5 79.2px 80.2px,#fae7f0 80.2px 81.2px,#efe0ea 81.2px 82.2px,#fdedf7 82.2px 83.2px,#f2e2ee 83.2px 84.2px,#ece1f1 84.2px 85.2px,#e9dff0 85.2px 86.2px,#efe9fb 86.2px 87.2px,#f2ebfb 87.2px 88.2px,#f9ebf5 88.2px 89.2px,#f2dfea 89.2px 90.2px,#f5e1ee 90.2px 91.2px,#e4d1df 91.2px 92.2px,#f4e3f2 92.2px 93.2px,#fbe7f3 93.2px 94.2px,#fae1ea 94.2px 95.2px,#efd4df 95.2px 96.2px,#e8cedc 96.2px 97.2px,#f1ddee 97.2px 98.2px,#f1e2f0 98.2px 99.2px,#fdecf6 99.2px 100.2px,#fae8f0 100.2px 101.2px,#f1dfe5 101.2px 102.2px,#f9e3e9 102.2px 103.2px,#ffeef4 103.2px 104.2px,#eddde3 104.2px 105.2px,#fff2f6 105.2px 106.2px,#ffeef2 106.2px 107.3px,#f1e0e8 107.3px 108.3px,#f7e3f2 108.3px 109.3px,#deccdb 109.3px 110.3px,#f4e3f1 110.3px 111.3px,#fff0f8 111.3px 112.3px,#eed9de 112.3px 113.3px,#f8e6f0 113.3px 114.3px,#f7e7f4 114.3px 115.3px,#efdce9 115.3px 116.3px,#f5dfea 116.3px 117.3px,#eed7de 117.3px 118.3px,#ffebef 118.3px 119.3px,#faedf1 119.3px 120.3px,#fef5fc 120.3px 121.3px,#fff4fc 121.3px 122.3px,#f0dfe7 122.3px 123.3px,#f6dce4 123.3px 124.3px,#fedce4 124.3px 125.3px,#e5c8d2 125.3px 126.3px,#efd7e2 126.3px 127.3px,#ffecf7 127.3px 128.3px,#f6e6f0 128.3px 129.3px,#f4e3ed 129.3px 130.3px,#f0deea 130.3px 131.3px,#f3e5f3 131.3px 132.3px,#f0e3f0 132.3px 133.3px,#feeaf2 133.3px 134.3px,#f5dfe4 134.3px 135.3px,#fae2e4 135.3px 136.3px,#ffeced 136.3px 137.3px,#fae0e2 137.3px 138.3px,#f5dbdf 138.3px 139.3px,#f5dfe4 139.3px 140.3px,#fff3f8 140.3px 141.3px,#f6eaf1 141.3px 142.3px,#f6e9f1 142.3px 143.3px,#fcecf7 143.3px 144.3px,#e9dce9 144.3px 145.3px,#ecdce8 145.3px 146.3px,#fbeffd 146.3px 147.3px,#efe7f4 147.3px 148.3px,#f3eaf4 148.3px 149.3px,#fff1f9 149.3px 150.3px,#f9e7ec 150.3px 151.3px,#f0dddf 151.3px 152.3px,#fff2f5 152.3px 153.3px,#fbe7ea 153.3px 154.3px,#ffe6e8 154.3px 155.3px,#ffe3e4 155.3px 156.3px,#efc8c8 156.3px 157.3px,#ffdcdc 157.3px 158.3px,#fad4d5 158.3px 159.3px,#ffe7e8 159.3px 160.3px,#ebcdcf 160.3px 161.4px,#ffe7e9 161.4px 162.4px,#ffe9ec 162.4px 163.4px,#ffecf0 163.4px 164.4px,#f0d6db 164.4px 165.4px,#f8dde4 165.4px 166.4px,#f7dbe0 166.4px 167.4px,#ffe4e9 167.4px 168.4px,#f5dade 168.4px 169.4px,#ffe6e9 169.4px 170.4px,#fde6ea 170.4px 171.4px,#f0dee4 171.4px 172.4px,#ffeff5 172.4px 173.4px,#fae8ec 173.4px 174.4px,#f7e7ee 174.4px 175.4px,#f8e9f4 175.4px 176.4px,#ede0eb 176.4px 177.4px,#f2e6f1 177.4px 178.4px,#fff3fd 178.4px 179.4px,#f7e4eb 179.4px 180.4px,#f3dde3 180.4px 181.4px,#f3dbe3 181.4px 182.4px,#fee8f1 182.4px 183.4px,#f5e3ee 183.4px 184.4px,#eadae9 184.4px 185.4px,#ede1f3 185.4px 186.4px,#f0e2f3 186.4px 187.4px,#f2e2ef 187.4px 188.4px,#efe1ed 188.4px 189.4px,#f6eaf5 189.4px 190.4px,#fbf0fb 190.4px 191.4px,#f7e9f3 191.4px 192.4px,#f4e1e9 192.4px 193.4px,#f4dde2 193.4px 194.4px,#ffeaef 194.4px 195.4px,#f7e1e7 195.4px 196.4px,#f7e1e8 196.4px 197.4px,#f4dfe8 197.4px 198.4px,#f3dee6 198.4px 199.4px,#ffecf3 199.4px 200.4px,#f4e4ea 200.4px 201.4px,#feecf0 201.4px 202.4px,#fce9ee 202.4px 203.4px,#f8e5e8 203.4px 204.4px,#f9e6e8 204.4px 205.4px,#fff1f5 205.4px 206.4px,#ffeef4 206.4px 207.4px,#e9d7e0 207.4px 208.4px,#f9e6ee 208.4px 209.4px,#f6e3eb 209.4px 210.4px,#fbe8ec 210.4px 211.4px,#ffeff1 211.4px 212.4px,#f6e0e3 212.4px 213.4px,#f7e3e9 213.4px 214.4px,#f3e1e8 214.4px 215.4px,#fcedf5 215.4px 216.5px,#fff0f6 216.5px 217.5px,#f8e4e7 217.5px 218.5px,#fce7ec 218.5px 219.5px,#f4e2eb 219.5px 220.5px,#f1e3ed 220.5px 221.5px,#f8effd 221.5px 222.5px,#f2ecfb 222.5px 223.5px,#ede3ef 223.5px 224.5px,#f7e7f2 224.5px 225.5px,#f6e2eb 225.5px 226.5px,#f0dee6 226.5px 227.5px,#fdeef8 227.5px 228.5px,#eee4ed 228.5px 229.5px,#fff4fd 229.5px 230.5px,#ffedf2 230.5px 231.5px,#f7d8da 231.5px 232.5px,#ffdddf 232.5px 233.5px,#e4bbc0 233.5px 234.5px,#f7d1d8 234.5px 235.5px,#ffe5eb 235.5px 236.5px,#eddae1 236.5px 237.5px,#fff3f8 237.5px 238.5px,#fff2f4 238.5px 239.5px,#fff1f5 239.5px 240.5px,#f3e4ec 240.5px 241.5px,#f8e6f3 241.5px 242.5px,#e2d1e2 242.5px 243.5px,#f1e0f2 243.5px 244.5px,#efd9e5 244.5px 245.5px,#ffe7ee 245.5px 246.5px,#f5d3d8 246.5px 247.5px,#eecbd0 247.5px 248.5px,#fddce1 248.5px 249.5px,#fee4e9 249.5px 250.5px,#ffe6e8 250.5px 251.5px,#ffe4e5 251.5px 252.5px,#f4dadc 252.5px 253.5px,#ffecee 253.5px 254.5px,#fddedf 254.5px 255.5px,#f7d6d7 255.5px 256.5px,#f5d5d7 256.5px 257.5px,#ffecf0 257.5px 258.5px,#f5e1e8 258.5px 259.5px,#f7e8f2 259.5px 260.5px,#f2e0eb 260.5px 261.5px,#f7e5f4 261.5px 262.5px,#e6d2e0 262.5px 263.5px,#f4dde7 263.5px 264.5px,#f5e1eb 264.5px 265.5px,#ffecf2 265.5px 266.5px,#ffe9ec 266.5px 267.5px,#f5dde5 267.5px 268.5px,#f4dae4 268.5px 269.5px,#eed6de 269.5px 270.6px,#f7e5f2 270.6px 271.6px,#fceefc 271.6px 272.6px,#ebdbe5 272.6px 273.6px,#fde9f3 273.6px 274.6px,#efd7dc 274.6px 275.6px,#ffe5e8 275.6px 276.6px,#ffe0e3 276.6px 277.6px,#f4d7da 277.6px 278.6px,#ffe3e5 278.6px 279.6px,#ffe1e2 279.6px 280.6px,#efcacb 280.6px 281.6px,#fad7db 281.6px 282.6px,#ffe4eb 282.6px 283.6px,#f3e1ea 283.6px 284.6px,#f9e4ed 284.6px 285.6px,#ffe5eb 285.6px 286.6px,#ecced0 286.6px 287.6px,#fbdee1 287.6px 288.6px,#ffeef4 288.6px 289.6px,#efdfe8 289.6px 290.6px,#f5e8f4 290.6px 291.6px,#f6e8f5 291.6px 292.6px,#e9dbe8 292.6px 293.6px,#fcedfc 293.6px 294.6px,#ebdbe7 294.6px 295.6px,#f1e4ef 295.6px 296.6px,#f9eef8 296.6px 297.6px)"></div><div style="position:absolute;left:47.2px;top:241.13px;width:297.60px;height:10.72px;background:linear-gradient(90deg,#aeaef9 0.0px 1.0px,#bebeff 1.0px 2.0px,#c3c3ff 2.0px 3.0px,#ababf3 3.0px 4.0px,#b7b7ff 4.0px 5.0px,#ababfa 5.0px 6.0px,#b2b2ff 6.0px 7.0px,#b2b2ff 7.0px 8.0px,#b4b4ff 8.0px 9.0px,#9d9dea 9.0px 10.0px,#cacaff 10.0px 11.0px,#a6a6ef 11.0px 12.0px,#bcbcff 12.0px 13.1px,#bfbfff 13.1px 14.1px,#b7b7fb 14.1px 15.1px,#b8b8ff 15.1px 16.1px,#bdbdff 16.1px 17.1px,#afaffa 17.1px 18.1px,#a8a8f4 18.1px 19.1px,#c0c0ff 19.1px 20.1px,#acacf9 20.1px 21.1px,#aaaaf7 21.1px 22.1px,#bcbcff 22.1px 23.1px,#afaef7 23.1px 24.1px,#a6a4de 24.1px 25.1px,#ede9ff 25.1px 26.1px,#e6e1fe 26.1px 27.1px,#e9e3f6 27.1px 28.1px,#ecdeee 28.1px 29.1px,#ffeef8 29.1px 30.1px,#e4ccd0 30.1px 31.1px,#ffedef 31.1px 32.1px,#ffedf1 32.1px 33.1px,#fff5fb 33.1px 34.1px,#e1cfd5 34.1px 35.1px,#ffeaf1 35.1px 36.1px,#fae7ee 36.1px 37.1px,#f2e4ee 37.1px 38.1px,#f5ebf8 38.1px 39.1px,#eae3f0 39.1px 40.1px,#f9f4ff 40.1px 41.1px,#f3ecf7 41.1px 42.1px,#f7f0f9 42.1px 43.1px,#f7effa 43.1px 44.1px,#fbf2ff 44.1px 45.1px,#e4dae7 45.1px 46.1px,#f6eaf8 46.1px 47.1px,#f3e7f4 47.1px 48.1px,#f1e5ee 48.1px 49.1px,#fcecf3 49.1px 50.1px,#ffeff2 50.1px 51.1px,#f9e0e1 51.1px 52.1px,#ffe2e3 52.1px 53.2px,#f3d6d9 53.2px 54.2px,#fbe3e7 54.2px 55.2px,#ffebef 55.2px 56.2px,#fbe6eb 56.2px 57.2px,#f2dde4 57.2px 58.2px,#f6e0e8 58.2px 59.2px,#f3e5ed 59.2px 60.2px,#fbf4fe 60.2px 61.2px,#fff9ff 61.2px 62.2px,#e4dbe5 62.2px 63.2px,#f7edfa 63.2px 64.2px,#f9ebf7 64.2px 65.2px,#efdce5 65.2px 66.2px,#f2e1eb 66.2px 67.2px,#f5e4ef 67.2px 68.2px,#fdeaf5 68.2px 69.2px,#efdde7 69.2px 70.2px,#eadae7 70.2px 71.2px,#ffedfa 71.2px 72.2px,#f5d9e1 72.2px 73.2px,#f0cfd7 73.2px 74.2px,#fbd5da 74.2px 75.2px,#f1cfd3 75.2px 76.2px,#ffe6ea 76.2px 77.2px,#ffe6ea 77.2px 78.2px,#f1dce1 78.2px 79.2px,#ffecf1 79.2px 80.2px,#fbe6ec 80.2px 81.2px,#eedee5 81.2px 82.2px,#ffedf1 82.2px 83.2px,#ffedf1 83.2px 84.2px,#eedce2 84.2px 85.2px,#ffebf2 85.2px 86.2px,#f0dde7 86.2px 87.2px,#f3e1e9 87.2px 88.2px,#ffeaf0 88.2px 89.2px,#f9e6eb 89.2px 90.2px,#f8e6ea 90.2px 91.2px,#ffe9ee 91.2px 92.2px,#ffe9ed 92.2px 93.2px,#ebc7cb 93.2px 94.2px,#f3cfd3 94.2px 95.2px,#ffe0e5 95.2px 96.2px,#ffeaef 96.2px 97.2px,#f1dbdf 97.2px 98.2px,#fde7ee 98.2px 99.2px,#ffebf6 99.2px 100.2px,#e2d0db 100.2px 101.2px,#f5e5f1 101.2px 102.2px,#fbeaf5 102.2px 103.2px,#f9e7ee 103.2px 104.2px,#eedde3 104.2px 105.2px,#ffedf2 105.2px 106.2px,#ffe3e6 106.2px 107.3px,#e5c5c9 107.3px 108.3px,#ffe5ed 108.3px 109.3px,#ead0d9 109.3px 110.3px,#fce6f0 110.3px 111.3px,#f9e2eb 111.3px 112.3px,#f1dee8 112.3px 113.3px,#f5e8fa 113.3px 114.3px,#e7dff5 114.3px 115.3px,#e2d3e8 115.3px 116.3px,#fce4f5 116.3px 117.3px,#dfc5cf 117.3px 118.3px,#fee5eb 118.3px 119.3px,#fff0f9 119.3px 120.3px,#f0e8f1 120.3px 121.3px,#faf1fa 121.3px 122.3px,#f7eff7 122.3px 123.3px,#f1e7ed 123.3px 124.3px,#fff8fe 124.3px 125.3px,#f6e2e7 125.3px 126.3px,#f6dde1 126.3px 127.3px,#f4d8de 127.3px 128.3px,#ffeaf1 128.3px 129.3px,#ead7e2 129.3px 130.3px,#f0e0eb 130.3px 131.3px,#feeffa 131.3px 132.3px,#f6e9f4 132.3px 133.3px,#f0e0e8 133.3px 134.3px,#fde6ed 134.3px 135.3px,#ffe4ea 135.3px 136.3px,#ebccd2 136.3px 137.3px,#f3d4da 137.3px 138.3px,#ffe7f0 138.3px 139.3px,#f5e4ef 139.3px 140.3px,#ecd9e1 140.3px 141.3px,#fff1f8 141.3px 142.3px,#e6d0d8 142.3px 143.3px,#ffebf4 143.3px 144.3px,#e7d6e1 144.3px 145.3px,#f6eaf8 145.3px 146.3px,#f5ebfb 146.3px 147.3px,#f3ebff 147.3px 148.3px,#d1c7dc 148.3px 149.3px,#eee0f4 149.3px 150.3px,#f8e5f1 150.3px 151.3px,#fde8ef 151.3px 152.3px,#f4dee5 152.3px 153.3px,#fedce3 153.3px 154.3px,#ffd4db 154.3px 155.3px,#e4afb2 155.3px 156.3px,#ffc9c9 156.3px 157.3px,#fbcbce 157.3px 158.3px,#fad7dd 158.3px 159.3px,#ffe3e9 159.3px 160.3px,#f8dfe4 160.3px 161.4px,#ffe7ea 161.4px 162.4px,#edcfd1 162.4px 163.4px,#ffe4e6 163.4px 164.4px,#fff2f7 164.4px 165.4px,#eee1ea 165.4px 166.4px,#faeefa 166.4px 167.4px,#e6d8e4 167.4px 168.4px,#fff0fc 168.4px 169.4px,#efe1ec 169.4px 170.4px,#ecdde6 170.4px 171.4px,#fff4fd 171.4px 172.4px,#f5e6eb 172.4px 173.4px,#ffedef 173.4px 174.4px,#f8e1e1 174.4px 175.4px,#f7e4e8 175.4px 176.4px,#fff4fc 176.4px 177.4px,#eee2ec 177.4px 178.4px,#f8eaf3 178.4px 179.4px,#f6e3eb 179.4px 180.4px,#fde7ee 180.4px 181.4px,#f0dde7 181.4px 182.4px,#f1e2f2 182.4px 183.4px,#f2e6f8 183.4px 184.4px,#e3d7e5 184.4px 185.4px,#fdf0fb 185.4px 186.4px,#f8ebf1 186.4px 187.4px,#fef1f5 187.4px 188.4px,#f9edf4 188.4px 189.4px,#faedf7 189.4px 190.4px,#ecdbe4 190.4px 191.4px,#fae4ec 191.4px 192.4px,#fae1e7 192.4px 193.4px,#f7dde1 193.4px 194.4px,#f8e3e8 194.4px 195.4px,#fbeaf1 195.4px 196.4px,#fcedf5 196.4px 197.4px,#f3e4ed 197.4px 198.4px,#f8e3ea 198.4px 199.4px,#f6dde5 199.4px 200.4px,#f8dce3 200.4px 201.4px,#f2d3d7 201.4px 202.4px,#ffe4ea 202.4px 203.4px,#f4dde1 203.4px 204.4px,#fff2f4 204.4px 205.4px,#fee5e6 205.4px 206.4px,#f7dbdc 206.4px 207.4px,#fbdcdd 207.4px 208.4px,#ffe7eb 208.4px 209.4px,#f6e6ef 209.4px 210.4px,#f1e8f4 210.4px 211.4px,#eee6f5 211.4px 212.4px,#fbf3ff 212.4px 213.4px,#e9dde7 213.4px 214.4px,#fff4fc 214.4px 215.4px,#f2dce5 215.4px 216.5px,#ebd5dd 216.5px 217.5px,#f8e2e9 217.5px 218.5px,#ffeef5 218.5px 219.5px,#faeaef 219.5px 220.5px,#fae7eb 220.5px 221.5px,#f7e5f1 221.5px 222.5px,#f5e2f4 222.5px 223.5px,#d7c3d6 223.5px 224.5px,#ead8ed 224.5px 225.5px,#f7e5f8 225.5px 226.5px,#ede0f1 226.5px 227.5px,#e2daed 227.5px 228.5px,#fdf1ff 228.5px 229.5px,#f9e4ef 229.5px 230.5px,#e4cbd4 230.5px 231.5px,#fcdfe9 231.5px 232.5px,#f4dae4 232.5px 233.5px,#eddce8 233.5px 234.5px,#f9e9f2 234.5px 235.5px,#fff2f8 235.5px 236.5px,#f0e0e6 236.5px 237.5px,#feebf2 237.5px 238.5px,#f6e2eb 238.5px 239.5px,#efd8e1 239.5px 240.5px,#f9e0e8 240.5px 241.5px,#fbe3e9 241.5px 242.5px,#f8e1e6 242.5px 243.5px,#f7e2e7 243.5px 244.5px,#fde5e9 244.5px 245.5px,#ffebed 245.5px 246.5px,#ecc8cb 246.5px 247.5px,#edc9cf 247.5px 248.5px,#ffe1e7 248.5px 249.5px,#f3dfe5 249.5px 250.5px,#ffeef2 250.5px 251.5px,#fff1f4 251.5px 252.5px,#edd4d9 252.5px 253.5px,#f6d5da 253.5px 254.5px,#ffe4e8 254.5px 255.5px,#ebc9cb 255.5px 256.5px,#ffe0e2 256.5px 257.5px,#ffe7ec 257.5px 258.5px,#fce7ef 258.5px 259.5px,#f4dfe6 259.5px 260.5px,#efd7dd 260.5px 261.5px,#fff1f6 261.5px 262.5px,#efd4d9 262.5px 263.5px,#f5dbe1 263.5px 264.5px,#fae3eb 264.5px 265.5px,#fce8f0 265.5px 266.5px,#f6e2e8 266.5px 267.5px,#f4e1e7 267.5px 268.5px,#ffedf2 268.5px 269.5px,#fbe6ea 269.5px 270.6px,#f2e2ec 270.6px 271.6px,#f2e5f3 271.6px 272.6px,#eae0ef 272.6px 273.6px,#fdeefb 273.6px 274.6px,#fbe2ea 274.6px 275.6px,#edd0d4 275.6px 276.6px,#fbdee5 276.6px 277.6px,#f7e3ed 277.6px 278.6px,#f5e6f2 278.6px 279.6px,#fae9f5 279.6px 280.6px,#ecd7e1 280.6px 281.6px,#f5dde5 281.6px 282.6px,#f8e4ec 282.6px 283.6px,#fbe8ee 283.6px 284.6px,#fce9ee 284.6px 285.6px,#fee7e9 285.6px 286.6px,#ffe3e3 286.6px 287.6px,#fbdbdb 287.6px 288.6px,#fddfdf 288.6px 289.6px,#fde1e1 289.6px 290.6px,#ffeff0 290.6px 291.6px,#f4dfe2 291.6px 292.6px,#ffedf0 292.6px 293.6px,#fae9ec 293.6px 294.6px,#fff3f5 294.6px 295.6px,#fdeced 295.6px 296.6px,#fdeced 296.6px 297.6px)"></div><div style="position:absolute;left:47.2px;top:251.80px;width:297.60px;height:10.72px;background:linear-gradient(90deg,#bbbbff 0.0px 1.0px,#bbbbff 1.0px 2.0px,#b8b8ff 2.0px 3.0px,#b9b9ff 3.0px 4.0px,#a6a6f9 4.0px 5.0px,#9f9ff3 5.0px 6.0px,#b3b3ff 6.0px 7.0px,#b5b5ff 7.0px 8.0px,#bebeff 8.0px 9.0px,#8f8fdd 9.0px 10.0px,#c2c2ff 10.0px 11.0px,#b3b3fd 11.0px 12.0px,#b9b9ff 12.0px 13.1px,#b8b8ff 13.1px 14.1px,#b2b2fe 14.1px 15.1px,#a7a7f3 15.1px 16.1px,#bfbfff 16.1px 17.1px,#acacf8 17.1px 18.1px,#b0b0fa 18.1px 19.1px,#bebeff 19.1px 20.1px,#b7b7ff 20.1px 21.1px,#b0b0f8 21.1px 22.1px,#bdbdff 22.1px 23.1px,#b4b4fb 23.1px 24.1px,#a3a2db 24.1px 25.1px,#ebe7ff 25.1px 26.1px,#f1eaff 26.1px 27.1px,#f5eaf5 27.1px 28.1px,#f6e6ed 28.1px 29.1px,#f8e7ed 29.1px 30.1px,#f5e5ed 30.1px 31.1px,#f9edf5 31.1px 32.1px,#f2ebf6 32.1px 33.1px,#f9f3fe 33.1px 34.1px,#f9edf6 34.1px 35.1px,#f6e5ec 35.1px 36.1px,#efdce4 36.1px 37.1px,#fce8f2 37.1px 38.1px,#f7e7f2 38.1px 39.1px,#e8dbe7 39.1px 40.1px,#fcecf5 40.1px 41.1px,#ffeff3 41.1px 42.1px,#f4e3e5 42.1px 43.1px,#ffeff0 43.1px 44.1px,#fff5f7 44.1px 45.1px,#f7e8eb 45.1px 46.1px,#fbeaed 46.1px 47.1px,#f7e6ea 47.1px 48.1px,#ffedf2 48.1px 49.1px,#ffeaed 49.1px 50.1px,#ecd7da 50.1px 51.1px,#ffecef 51.1px 52.1px,#ffeff0 52.1px 53.2px,#fff2f4 53.2px 54.2px,#f5e5e8 54.2px 55.2px,#fff0f3 55.2px 56.2px,#f5e0e5 56.2px 57.2px,#f9e4e9 57.2px 58.2px,#fbe4ea 58.2px 59.2px,#f9e5ed 59.2px 60.2px,#f2e0e9 60.2px 61.2px,#f1e0e9 61.2px 62.2px,#f7eaf2 62.2px 63.2px,#fef5fd 63.2px 64.2px,#fdf5fc 64.2px 65.2px,#f2e7ee 65.2px 66.2px,#faeaf1 66.2px 67.2px,#ffeaf0 67.2px 68.2px,#f1dbdf 68.2px 69.2px,#f7e1e6 69.2px 70.2px,#ffecf0 70.2px 71.2px,#ffedef 71.2px 72.2px,#f6dada 72.2px 73.2px,#ffe0e0 73.2px 74.2px,#ffe4e4 74.2px 75.2px,#f8e0e2 75.2px 76.2px,#ffebef 76.2px 77.2px,#ffe9f0 77.2px 78.2px,#f0d8de 78.2px 79.2px,#f5dbe3 79.2px 80.2px,#f4dde2 80.2px 81.2px,#ffeef2 81.2px 82.2px,#fff4f8 82.2px 83.2px,#f2e5eb 83.2px 84.2px,#f9ecf5 84.2px 85.2px,#f4e9f4 85.2px 86.2px,#f2e9f6 86.2px 87.2px,#f4e6f1 87.2px 88.2px,#ffe8f0 88.2px 89.2px,#f1d5de 89.2px 90.2px,#eed4de 90.2px 91.2px,#ecd3de 91.2px 92.2px,#fff0fa 92.2px 93.2px,#efd9e0 93.2px 94.2px,#f6dfe4 94.2px 95.2px,#ffeff7 95.2px 96.2px,#ede1ee 96.2px 97.2px,#f0e5f9 97.2px 98.2px,#eadcf0 98.2px 99.2px,#decfe1 99.2px 100.2px,#f5e1ef 100.2px 101.2px,#ffebf5 101.2px 102.2px,#f0dce3 102.2px 103.2px,#f8e3eb 103.2px 104.2px,#f3e2ec 104.2px 105.2px,#f5e5ed 105.2px 106.2px,#f9ecf3 106.2px 107.3px,#fdf2f7 107.3px 108.3px,#fff3f5 108.3px 109.3px,#fff0f4 109.3px 110.3px,#f2dadf 110.3px 111.3px,#ffe3e7 111.3px 112.3px,#ebcfd4 112.3px 113.3px,#ffecf1 113.3px 114.3px,#f6e1e7 114.3px 115.3px,#ffecf1 115.3px 116.3px,#f5e3ea 116.3px 117.3px,#fcebf4 117.3px 118.3px,#e9d5dd 118.3px 119.3px,#ffedf5 119.3px 120.3px,#f0d9df 120.3px 121.3px,#fbe2e5 121.3px 122.3px,#ffecee 122.3px 123.3px,#f6e5e8 123.3px 124.3px,#fff2f5 124.3px 125.3px,#fae5e8 125.3px 126.3px,#f3dfe2 126.3px 127.3px,#ffeaed 127.3px 128.3px,#ffedf3 128.3px 129.3px,#f0e4f2 129.3px 130.3px,#f1e2f6 130.3px 131.3px,#e5d0e4 131.3px 132.3px,#dec7d9 132.3px 133.3px,#fbe1ee 133.3px 134.3px,#fde5ed 134.3px 135.3px,#f0e0e9 135.3px 136.3px,#f6e8f3 136.3px 137.3px,#f8eaf3 137.3px 138.3px,#f5e6ef 138.3px 139.3px,#f7e8f2 139.3px 140.3px,#efe2ec 140.3px 141.3px,#f8edf8 141.3px 142.3px,#f6eef8 142.3px 143.3px,#f6ecf4 143.3px 144.3px,#ffeff4 144.3px 145.3px,#fae5e9 145.3px 146.3px,#efdde7 146.3px 147.3px,#fceeff 147.3px 148.3px,#d1cade 148.3px 149.3px,#f6f0ff 149.3px 150.3px,#fff2fe 150.3px 151.3px,#f0dde1 151.3px 152.3px,#fce6ea 152.3px 153.3px,#fde8ee 153.3px 154.3px,#f6e4ea 154.3px 155.3px,#f8e5ed 155.3px 156.3px,#fadfe4 156.3px 157.3px,#ffe4e7 157.3px 158.3px,#e9c8cb 158.3px 159.3px,#ffe0e4 159.3px 160.3px,#fee2e5 160.3px 161.4px,#fde5e8 161.4px 162.4px,#fee1e3 162.4px 163.4px,#ffdfe0 163.4px 164.4px,#f5d5da 164.4px 165.4px,#f4dbe5 165.4px 166.4px,#eddce8 166.4px 167.4px,#f9ebf8 167.4px 168.4px,#f8e9f2 168.4px 169.4px,#f5e3e7 169.4px 170.4px,#fff2f3 170.4px 171.4px,#fce7e8 171.4px 172.4px,#f5e3e5 172.4px 173.4px,#fff1f5 173.4px 174.4px,#faf0f5 174.4px 175.4px,#fcf2f9 175.4px 176.4px,#f5e9f1 176.4px 177.4px,#f9eaf1 177.4px 178.4px,#f6e6eb 178.4px 179.4px,#f9ebf1 179.4px 180.4px,#f9eff7 180.4px 181.4px,#f8f0fb 181.4px 182.4px,#ede8f4 182.4px 183.4px,#f6f2fd 183.4px 184.4px,#faf2fa 184.4px 185.4px,#faf1f8 185.4px 186.4px,#f8ecf5 186.4px 187.4px,#efe2ea 187.4px 188.4px,#f2e8f2 188.4px 189.4px,#fbf2ff 189.4px 190.4px,#f7edf9 190.4px 191.4px,#ecdeea 191.4px 192.4px,#ebdbe9 192.4px 193.4px,#fce9f6 193.4px 194.4px,#ecdae4 194.4px 195.4px,#f8e6f2 195.4px 196.4px,#fae4ec 196.4px 197.4px,#eed4d9 197.4px 198.4px,#ffeff2 198.4px 199.4px,#eccbcf 199.4px 200.4px,#f2d6db 200.4px 201.4px,#ffe8ec 201.4px 202.4px,#ffe9f0 202.4px 203.4px,#f1dbe3 203.4px 204.4px,#f8dfe5 204.4px 205.4px,#f3dee5 205.4px 206.4px,#fcecf3 206.4px 207.4px,#fdeef5 207.4px 208.4px,#f4e8f1 208.4px 209.4px,#ede2ee 209.4px 210.4px,#f9edf9 210.4px 211.4px,#f6e8f1 211.4px 212.4px,#fce9f2 212.4px 213.4px,#f5dce3 213.4px 214.4px,#f6d7dc 214.4px 215.4px,#fbdce1 215.4px 216.5px,#f9dde2 216.5px 217.5px,#fce6eb 217.5px 218.5px,#f9e5ea 218.5px 219.5px,#fff2f8 219.5px 220.5px,#e9d9df 220.5px 221.5px,#fcecf5 221.5px 222.5px,#f6eaf6 222.5px 223.5px,#ece3ed 223.5px 224.5px,#f9f0fa 224.5px 225.5px,#f6edfb 225.5px 226.5px,#f7f0ff 226.5px 227.5px,#cecbe1 227.5px 228.5px,#efeaff 228.5px 229.5px,#fdf1ff 229.5px 230.5px,#f6e6ea 230.5px 231.5px,#fce6e8 231.5px 232.5px,#ffeaee 232.5px 233.5px,#f0dce3 233.5px 234.5px,#f2e1ed 234.5px 235.5px,#f5e6f4 235.5px 236.5px,#eee1f0 236.5px 237.5px,#f4e4f3 237.5px 238.5px,#efdae5 238.5px 239.5px,#eed9e2 239.5px 240.5px,#ffedf5 240.5px 241.5px,#f9e6ec 241.5px 242.5px,#f2e2e8 242.5px 243.5px,#ffeff5 243.5px 244.5px,#fde9ee 244.5px 245.5px,#ffe5e8 245.5px 246.5px,#f3d1d4 246.5px 247.5px,#eccccf 247.5px 248.5px,#ffedef 248.5px 249.5px,#ffeff2 249.5px 250.5px,#f2e4e6 250.5px 251.5px,#fff4f6 251.5px 252.5px,#fff1f4 252.5px 253.5px,#ffe7e9 253.5px 254.5px,#f6d2d4 254.5px 255.5px,#e5c2c5 255.5px 256.5px,#ffeaef 256.5px 257.5px,#fff1f8 257.5px 258.5px,#f2e0e8 258.5px 259.5px,#ead7e1 259.5px 260.5px,#ffe8f0 260.5px 261.5px,#ffe1e8 261.5px 262.5px,#e3c6ce 262.5px 263.5px,#fbdbe2 263.5px 264.5px,#fde6f1 264.5px 265.5px,#efe0ee 265.5px 266.5px,#e7dbe8 266.5px 267.5px,#f7eeff 267.5px 268.5px,#f4ecfd 268.5px 269.5px,#e2daea 269.5px 270.6px,#f1edff 270.6px 271.6px,#edeafe 271.6px 272.6px,#ece3f5 272.6px 273.6px,#f3e3f3 273.6px 274.6px,#e6d1de 274.6px 275.6px,#fbe2e8 275.6px 276.6px,#ffe7ea 276.6px 277.6px,#fbe5e8 277.6px 278.6px,#fbe4e6 278.6px 279.6px,#ffedf0 279.6px 280.6px,#f5e6eb 280.6px 281.6px,#f6e8ec 281.6px 282.6px,#fff7ff 282.6px 283.6px,#f2e4f0 283.6px 284.6px,#e7d5e0 284.6px 285.6px,#f7e1ec 285.6px 286.6px,#fce3ea 286.6px 287.6px,#fad9db 287.6px 288.6px,#ffe1e6 288.6px 289.6px,#ecd0dc 289.6px 290.6px,#e7cedb 290.6px 291.6px,#f8e4f2 291.6px 292.6px,#eedfed 292.6px 293.6px,#ffeffb 293.6px 294.6px,#e8d8e3 294.6px 295.6px,#eee2f1 295.6px 296.6px,#f4e9f8 296.6px 297.6px)"></div><div style="position:absolute;left:47.2px;top:262.47px;width:297.60px;height:10.72px;background:linear-gradient(90deg,#c2c2fc 0.0px 1.0px,#cbcbff 1.0px 2.0px,#c3c3ff 2.0px 3.0px,#acacf3 3.0px 4.0px,#aaaaf6 4.0px 5.0px,#bebeff 5.0px 6.0px,#afaff8 6.0px 7.0px,#b8b8ff 7.0px 8.0px,#b6b6fe 8.0px 9.0px,#b0b0f3 9.0px 10.0px,#d1d1ff 10.0px 11.0px,#babaf8 11.0px 12.0px,#c2c2ff 12.0px 13.1px,#b9b9fe 13.1px 14.1px,#bebeff 14.1px 15.1px,#ababf2 15.1px 16.1px,#c1c1ff 16.1px 17.1px,#acacfb 17.1px 18.1px,#a5a5f5 18.1px 19.1px,#b4b4ff 19.1px 20.1px,#ababfa 20.1px 21.1px,#b2b2ff 21.1px 22.1px,#b7b7ff 22.1px 23.1px,#b4b2f9 23.1px 24.1px,#b2ace5 24.1px 25.1px,#dbd3fd 25.1px 26.1px,#f1e5ff 26.1px 27.1px,#f9ebff 27.1px 28.1px,#cfc1d4 28.1px 29.1px,#f5e3f5 29.1px 30.1px,#f4e4f4 30.1px 31.1px,#f5e6f4 31.1px 32.1px,#efddeb 32.1px 33.1px,#e9d6e5 33.1px 34.1px,#f3deec 34.1px 35.1px,#fce2eb 35.1px 36.1px,#f2dae2 36.1px 37.1px,#f0dbe0 37.1px 38.1px,#fff6f8 38.1px 39.1px,#f9e2e2 39.1px 40.1px,#ffeced 40.1px 41.1px,#f1dade 41.1px 42.1px,#fde9f1 42.1px 43.1px,#ecdde9 43.1px 44.1px,#f7edff 44.1px 45.1px,#e4d6ed 45.1px 46.1px,#e0cadd 46.1px 47.1px,#f6dbea 47.1px 48.1px,#f5d7dc 48.1px 49.1px,#ffe7e9 49.1px 50.1px,#faddde 50.1px 51.1px,#f8dee0 51.1px 52.1px,#fee4e8 52.1px 53.2px,#fee9ee 53.2px 54.2px,#f3e3ea 54.2px 55.2px,#f9ebf2 55.2px 56.2px,#fbf0fa 56.2px 57.2px,#f3e6ef 57.2px 58.2px,#fae9f1 58.2px 59.2px,#f3e0e6 59.2px 60.2px,#ffebf0 60.2px 61.2px,#f9e3ea 61.2px 62.2px,#edd7dd 62.2px 63.2px,#ffe9f1 63.2px 64.2px,#fbe6ee 64.2px 65.2px,#ead6e1 65.2px 66.2px,#fae8f8 66.2px 67.2px,#e3d4e1 67.2px 68.2px,#f8e8f4 68.2px 69.2px,#fcebf5 69.2px 70.2px,#f6e6f0 70.2px 71.2px,#e7d8e2 71.2px 72.2px,#fff1fa 72.2px 73.2px,#fae6eb 73.2px 74.2px,#f8e0e4 74.2px 75.2px,#f9e1e8 75.2px 76.2px,#f2dfe8 76.2px 77.2px,#fbe9f4 77.2px 78.2px,#f5e2ee 78.2px 79.2px,#efdae4 79.2px 80.2px,#fae0e8 80.2px 81.2px,#f3dae0 81.2px 82.2px,#ffe6ea 82.2px 83.2px,#f8dee3 83.2px 84.2px,#fbe6ed 84.2px 85.2px,#f2dfec 85.2px 86.2px,#efe1f3 86.2px 87.2px,#e1d0df 87.2px 88.2px,#ffe9f4 88.2px 89.2px,#fde3ee 89.2px 90.2px,#e6ceda 90.2px 91.2px,#e0ccd9 91.2px 92.2px,#fff6ff 92.2px 93.2px,#feecf4 93.2px 94.2px,#f6dee2 94.2px 95.2px,#f7dde4 95.2px 96.2px,#edd3da 96.2px 97.2px,#fde8ef 97.2px 98.2px,#ffeef3 98.2px 99.2px,#fbebf0 99.2px 100.2px,#fae8ed 100.2px 101.2px,#fde8ed 101.2px 102.2px,#f4dde3 102.2px 103.2px,#fde6f2 103.2px 104.2px,#e5d6e7 104.2px 105.2px,#e4d9ea 105.2px 106.2px,#fff5ff 106.2px 107.3px,#ede0ec 107.3px 108.3px,#fce9f3 108.3px 109.3px,#edd8e3 109.3px 110.3px,#f7e1eb 110.3px 111.3px,#f7dee4 111.3px 112.3px,#f1dbe1 112.3px 113.3px,#fff5fd 113.3px 114.3px,#f3e5ed 114.3px 115.3px,#f8e7f0 115.3px 116.3px,#f2dde6 116.3px 117.3px,#fae6ee 117.3px 118.3px,#eddde5 118.3px 119.3px,#fbf0f9 119.3px 120.3px,#f9f1f9 120.3px 121.3px,#fbf2f8 121.3px 122.3px,#f6ecf4 122.3px 123.3px,#f8eaf2 123.3px 124.3px,#f9e7ee 124.3px 125.3px,#eadbe2 125.3px 126.3px,#fff7fc 126.3px 127.3px,#f9ecf2 127.3px 128.3px,#f4ecfa 128.3px 129.3px,#eee7fd 129.3px 130.3px,#dbd3eb 130.3px 131.3px,#e6dbf3 131.3px 132.3px,#eee1f2 132.3px 133.3px,#f8e6ee 133.3px 134.3px,#ffedf1 134.3px 135.3px,#ffeaec 135.3px 136.3px,#f9dfe0 136.3px 137.3px,#f9dedf 137.3px 138.3px,#ffe8eb 138.3px 139.3px,#f9e4ea 139.3px 140.3px,#f3e4ec 140.3px 141.3px,#f4e8f4 141.3px 142.3px,#fbeffb 142.3px 143.3px,#f1e0e9 143.3px 144.3px,#f9e3ea 144.3px 145.3px,#f7dfe4 145.3px 146.3px,#f7e2e8 146.3px 147.3px,#fdecf2 147.3px 148.3px,#fdeef3 148.3px 149.3px,#f8e8ec 149.3px 150.3px,#ffecef 150.3px 151.3px,#f6dbdf 151.3px 152.3px,#edd7df 152.3px 153.3px,#fce6ef 153.3px 154.3px,#ffebf4 154.3px 155.3px,#edd2da 155.3px 156.3px,#ffdbde 156.3px 157.3px,#f1cbcf 157.3px 158.3px,#ffdadf 158.3px 159.3px,#fcd8dc 159.3px 160.3px,#f2d4d8 160.3px 161.4px,#ffe2e5 161.4px 162.4px,#ffe8e8 162.4px 163.4px,#f6dadb 163.4px 164.4px,#ffe5e7 164.4px 165.4px,#fae6eb 165.4px 166.4px,#f7ecf3 166.4px 167.4px,#f9f1fb 167.4px 168.4px,#f9f0fa 168.4px 169.4px,#f3e5ee 169.4px 170.4px,#f6e0e6 170.4px 171.4px,#f9e1e7 171.4px 172.4px,#fae2eb 172.4px 173.4px,#f4dee9 173.4px 174.4px,#e8d6e6 174.4px 175.4px,#f5e4f5 175.4px 176.4px,#eddcea 176.4px 177.4px,#f2e2ee 177.4px 178.4px,#f5e7f0 178.4px 179.4px,#fbf1fb 179.4px 180.4px,#f7f2fe 180.4px 181.4px,#ede7f4 181.4px 182.4px,#f1ebf7 182.4px 183.4px,#f5eef8 183.4px 184.4px,#fcf1f8 184.4px 185.4px,#f9eff5 185.4px 186.4px,#f7ecf4 186.4px 187.4px,#f7e8ef 187.4px 188.4px,#f4e7f1 188.4px 189.4px,#f8eefb 189.4px 190.4px,#eadeeb 190.4px 191.4px,#f4e5f2 191.4px 192.4px,#efdeeb 192.4px 193.4px,#f4e3ed 193.4px 194.4px,#f4e3ed 194.4px 195.4px,#ffeef9 195.4px 196.4px,#f1d9e1 196.4px 197.4px,#edd2d7 197.4px 198.4px,#ffe5ea 198.4px 199.4px,#ffeaf2 199.4px 200.4px,#efdfec 200.4px 201.4px,#decfde 201.4px 202.4px,#f9ecfe 202.4px 203.4px,#f2e7f7 203.4px 204.4px,#f2e2ec 204.4px 205.4px,#fde7ef 205.4px 206.4px,#edd3d8 206.4px 207.4px,#ffeaef 207.4px 208.4px,#f1dce7 208.4px 209.4px,#e8dceb 209.4px 210.4px,#f6ebfe 210.4px 211.4px,#f1e5f6 211.4px 212.4px,#e7d8e5 212.4px 213.4px,#fce9f4 213.4px 214.4px,#efdce4 214.4px 215.4px,#fdebf2 215.4px 216.5px,#f8e8ed 216.5px 217.5px,#ffeef1 217.5px 218.5px,#fff3f7 218.5px 219.5px,#ecdde3 219.5px 220.5px,#f9e8ed 220.5px 221.5px,#fef1fc 221.5px 222.5px,#f7ebf7 222.5px 223.5px,#e8d7e2 223.5px 224.5px,#edddec 224.5px 225.5px,#faebfb 225.5px 226.5px,#e8dff0 226.5px 227.5px,#e9e6fe 227.5px 228.5px,#e5e2fb 228.5px 229.5px,#e3daee 229.5px 230.5px,#feeffd 230.5px 231.5px,#edd8e0 231.5px 232.5px,#ffecef 232.5px 233.5px,#eddae3 233.5px 234.5px,#fff1ff 234.5px 235.5px,#ddcddc 235.5px 236.5px,#eee1f3 236.5px 237.5px,#f3e2f0 237.5px 238.5px,#ffecf4 238.5px 239.5px,#f4dde3 239.5px 240.5px,#ecd6de 240.5px 241.5px,#ffeffc 241.5px 242.5px,#e9daea 242.5px 243.5px,#e6d9eb 243.5px 244.5px,#efe0f0 244.5px 245.5px,#f8e3ed 245.5px 246.5px,#ffebf2 246.5px 247.5px,#edd1d7 247.5px 248.5px,#f4d2d6 248.5px 249.5px,#ffe5ea 249.5px 250.5px,#f3d8dc 250.5px 251.5px,#f6dfe3 251.5px 252.5px,#fff0f6 252.5px 253.5px,#feecf1 253.5px 254.5px,#fae6ea 254.5px 255.5px,#f3dcde 255.5px 256.5px,#fff0f1 256.5px 257.5px,#ffe4e6 257.5px 258.5px,#ffe4e5 258.5px 259.5px,#efc6c8 259.5px 260.5px,#f8cbcd 260.5px 261.5px,#ffd9de 261.5px 262.5px,#f1d6de 262.5px 263.5px,#f8e2eb 263.5px 264.5px,#f4e6f3 264.5px 265.5px,#fdf0fe 265.5px 266.5px,#e9d8e3 266.5px 267.5px,#eedfed 267.5px 268.5px,#ffecf8 268.5px 269.5px,#efdce4 269.5px 270.6px,#ede0e9 270.6px 271.6px,#fff4fd 271.6px 272.6px,#fff7ff 272.6px 273.6px,#e1d9e2 273.6px 274.6px,#fff6fe 274.6px 275.6px,#f8eaf1 275.6px 276.6px,#fae8ef 276.6px 277.6px,#f6e3ec 277.6px 278.6px,#eed6de 278.6px 279.6px,#ffe9ef 279.6px 280.6px,#eacacf 280.6px 281.6px,#ffe2e5 281.6px 282.6px,#f6dbdf 282.6px 283.6px,#ffeff3 283.6px 284.6px,#f9e1e4 284.6px 285.6px,#fee4e8 285.6px 286.6px,#f1d7de 286.6px 287.6px,#f9e2eb 287.6px 288.6px,#f0dfe9 288.6px 289.6px,#f9ecf6 289.6px 290.6px,#fcf2fb 290.6px 291.6px,#f9edf7 291.6px 292.6px,#efdee6 292.6px 293.6px,#efdce3 293.6px 294.6px,#ffeef5 294.6px 295.6px,#fbe9f4 295.6px 296.6px,#e5d5e7 296.6px 297.6px)"></div><div style="position:absolute;left:47.2px;top:273.14px;width:297.60px;height:10.72px;background:linear-gradient(90deg,#c1c1fd 0.0px 1.0px,#c4c4ff 1.0px 2.0px,#c8c8ff 2.0px 3.0px,#b1b1f4 3.0px 4.0px,#bbbbff 4.0px 5.0px,#b1b1fa 5.0px 6.0px,#babaff 6.0px 7.0px,#b4b4fd 7.0px 8.0px,#bfbfff 8.0px 9.0px,#a8a8ed 9.0px 10.0px,#ccccff 10.0px 11.0px,#b8b8f7 11.0px 12.0px,#c7c7ff 12.0px 13.1px,#c1c1ff 13.1px 14.1px,#bdbdfb 14.1px 15.1px,#b7b7f5 15.1px 16.1px,#d3d3ff 16.1px 17.1px,#babaf8 17.1px 18.1px,#bdbdfc 18.1px 19.1px,#c0c0ff 19.1px 20.1px,#b6b6fa 20.1px 21.1px,#b3b3f7 21.1px 22.1px,#c6c6ff 22.1px 23.1px,#bebeff 23.1px 24.1px,#a2a0d8 24.1px 25.1px,#e5e1ff 25.1px 26.1px,#e4e0ff 26.1px 27.1px,#dad5f2 27.1px 28.1px,#e1d8f0 28.1px 29.1px,#f7e9fa 29.1px 30.1px,#f0dee6 30.1px 31.1px,#fbe7eb 31.1px 32.1px,#fff0f4 32.1px 33.1px,#fff2f8 33.1px 34.1px,#f2e0e7 34.1px 35.1px,#efdae2 35.1px 36.1px,#f5dfe8 36.1px 37.1px,#fff2fb 37.1px 38.1px,#e2d6e2 38.1px 39.1px,#fef2ff 39.1px 40.1px,#f6e2f0 40.1px 41.1px,#ebd0dd 41.1px 42.1px,#e5c8d8 42.1px 43.1px,#f5dbeb 43.1px 44.1px,#e7d8eb 44.1px 45.1px,#f2edff 45.1px 46.1px,#eae7f7 46.1px 47.1px,#f7f3fe 47.1px 48.1px,#faf1f8 48.1px 49.1px,#fff2f6 49.1px 50.1px,#f3e4e7 50.1px 51.1px,#fdecef 51.1px 52.1px,#ffeff2 52.1px 53.2px,#ffe9f0 53.2px 54.2px,#f0d5e0 54.2px 55.2px,#e7c6d2 55.2px 56.2px,#e8cdd9 56.2px 57.2px,#ffe8f0 57.2px 58.2px,#fff6fb 58.2px 59.2px,#ede3e9 59.2px 60.2px,#fceff6 60.2px 61.2px,#faebf0 61.2px 62.2px,#f9ebef 62.2px 63.2px,#fceef3 63.2px 64.2px,#f8eaf1 64.2px 65.2px,#f7e9f3 65.2px 66.2px,#f8e6f0 66.2px 67.2px,#ebd8e0 67.2px 68.2px,#f6e6ee 68.2px 69.2px,#fff5fe 69.2px 70.2px,#f7e5eb 70.2px 71.2px,#f7e0e5 71.2px 72.2px,#f5d6da 72.2px 73.2px,#ffe1e2 73.2px 74.2px,#f7d7d9 74.2px 75.2px,#f7ddde 75.2px 76.2px,#fff1f3 76.2px 77.2px,#fae5e9 77.2px 78.2px,#f4e2e9 78.2px 79.2px,#f6e3e9 79.2px 80.2px,#f9ebf5 80.2px 81.2px,#f6ebf8 81.2px 82.2px,#ebdae4 82.2px 83.2px,#ffedf8 83.2px 84.2px,#e7d6df 84.2px 85.2px,#fbebf2 85.2px 86.2px,#fdf4fe 86.2px 87.2px,#ede9f3 87.2px 88.2px,#fff6fd 88.2px 89.2px,#ffeef5 89.2px 90.2px,#e5d2da 90.2px 91.2px,#fbe4ec 91.2px 92.2px,#fee4ec 92.2px 93.2px,#fce1e9 93.2px 94.2px,#e4ccd6 94.2px 95.2px,#f2dce9 95.2px 96.2px,#f8e8f6 96.2px 97.2px,#f4e6f2 97.2px 98.2px,#f8e6ed 98.2px 99.2px,#f8e6eb 99.2px 100.2px,#f7e5e9 100.2px 101.2px,#ffeef2 101.2px 102.2px,#f7e7ec 102.2px 103.2px,#fff1f6 103.2px 104.2px,#ecdbe1 104.2px 105.2px,#f9eaf0 105.2px 106.2px,#fff4fb 106.2px 107.3px,#f8f1fb 107.3px 108.3px,#f0e7f1 108.3px 109.3px,#fbecf6 109.3px 110.3px,#e7d7de 110.3px 111.3px,#ffeff2 111.3px 112.3px,#fff0f2 112.3px 113.3px,#faf0f4 113.3px 114.3px,#fcf0f6 114.3px 115.3px,#fee8ee 115.3px 116.3px,#f5dbe0 116.3px 117.3px,#e5cbd1 117.3px 118.3px,#fff3fa 118.3px 119.3px,#f7e5ed 119.3px 120.3px,#f3e5ee 120.3px 121.3px,#f7e4eb 121.3px 122.3px,#fbe5eb 122.3px 123.3px,#fbe3e9 123.3px 124.3px,#f4d9de 124.3px 125.3px,#f8dee3 125.3px 126.3px,#ffeaf0 126.3px 127.3px,#f5e2e9 127.3px 128.3px,#f3e2ef 128.3px 129.3px,#ecdff3 129.3px 130.3px,#e8dbf0 130.3px 131.3px,#dfd1e4 131.3px 132.3px,#f7e5f3 132.3px 133.3px,#ffedf4 133.3px 134.3px,#ead0d3 134.3px 135.3px,#ffe4e8 135.3px 136.3px,#ffe5e8 136.3px 137.3px,#f5dde2 137.3px 138.3px,#f8e1e7 138.3px 139.3px,#fbe7ed 139.3px 140.3px,#f8e7ef 140.3px 141.3px,#f8e7ef 141.3px 142.3px,#f3e4ee 142.3px 143.3px,#f0e3ed 143.3px 144.3px,#f7edf7 144.3px 145.3px,#fbf2fc 145.3px 146.3px,#fcf2fe 146.3px 147.3px,#e6daea 147.3px 148.3px,#ead8e8 148.3px 149.3px,#f3deed 149.3px 150.3px,#f4dee5 150.3px 151.3px,#f9e5ec 151.3px 152.3px,#ffeff8 152.3px 153.3px,#f1dee7 153.3px 154.3px,#fde1ea 154.3px 155.3px,#f5d0d5 155.3px 156.3px,#f5c8c9 156.3px 157.3px,#ffdfe0 157.3px 158.3px,#eeced3 158.3px 159.3px,#fbe1e8 159.3px 160.3px,#ffeef6 160.3px 161.4px,#f0d8e0 161.4px 162.4px,#f4dae3 162.4px 163.4px,#eed4dc 163.4px 164.4px,#ffedf8 164.4px 165.4px,#eddeea 165.4px 166.4px,#eadeeb 166.4px 167.4px,#fdf3ff 167.4px 168.4px,#ebe1ee 168.4px 169.4px,#f4e7f1 169.4px 170.4px,#f9e9ef 170.4px 171.4px,#fcebf0 171.4px 172.4px,#ffeff4 172.4px 173.4px,#f4dde2 173.4px 174.4px,#e9d4db 174.4px 175.4px,#ffeef4 175.4px 176.4px,#fff0f5 176.4px 177.4px,#f4e5eb 177.4px 178.4px,#f8e5eb 178.4px 179.4px,#ffebf2 179.4px 180.4px,#ebdbe5 180.4px 181.4px,#fbe8f3 181.4px 182.4px,#fae5ef 182.4px 183.4px,#e3d1dd 183.4px 184.4px,#fceaf6 184.4px 185.4px,#efe3ee 185.4px 186.4px,#f6f0fa 186.4px 187.4px,#fff6fc 187.4px 188.4px,#f8e9ee 188.4px 189.4px,#f6e6f0 189.4px 190.4px,#eee0ed 190.4px 191.4px,#ede0ee 191.4px 192.4px,#f9eefd 192.4px 193.4px,#f2e5f2 193.4px 194.4px,#ebdce8 194.4px 195.4px,#f8e7f6 195.4px 196.4px,#f3dfea 196.4px 197.4px,#eed7df 197.4px 198.4px,#ffebee 198.4px 199.4px,#f9dcdf 199.4px 200.4px,#f6dbe2 200.4px 201.4px,#fbdfe7 201.4px 202.4px,#edd6df 202.4px 203.4px,#f7e4eb 203.4px 204.4px,#ffebee 204.4px 205.4px,#fff2f4 205.4px 206.4px,#e1c7c9 206.4px 207.4px,#ffeff1 207.4px 208.4px,#f6e0e2 208.4px 209.4px,#fff0f5 209.4px 210.4px,#fff3f9 210.4px 211.4px,#f2e4e8 211.4px 212.4px,#f9e9f1 212.4px 213.4px,#feeaf4 213.4px 214.4px,#e9d3db 214.4px 215.4px,#f9e1e9 215.4px 216.5px,#fde3e9 216.5px 217.5px,#f6dddf 217.5px 218.5px,#ffeff2 218.5px 219.5px,#f1e3eb 219.5px 220.5px,#f8efff 220.5px 221.5px,#e8e3fc 221.5px 222.5px,#d5d5f4 222.5px 223.5px,#dfdffe 223.5px 224.5px,#e5e4fd 224.5px 225.5px,#f2eefe 225.5px 226.5px,#f9f2ff 226.5px 227.5px,#f0e9f5 227.5px 228.5px,#f1e4f0 228.5px 229.5px,#ffeaf4 229.5px 230.5px,#edd4da 230.5px 231.5px,#f4d7da 231.5px 232.5px,#ffeff3 232.5px 233.5px,#f4e0ea 233.5px 234.5px,#eddceb 234.5px 235.5px,#efd9e9 235.5px 236.5px,#f1ddf0 236.5px 237.5px,#e1cbdb 237.5px 238.5px,#fae0ed 238.5px 239.5px,#eed9e5 239.5px 240.5px,#fde8f0 240.5px 241.5px,#fde8ec 241.5px 242.5px,#f5e3ea 242.5px 243.5px,#feedf4 243.5px 244.5px,#efdee4 244.5px 245.5px,#fff0f7 245.5px 246.5px,#f4d8df 246.5px 247.5px,#e8cad2 247.5px 248.5px,#fddbe2 248.5px 249.5px,#fae0e8 249.5px 250.5px,#f0dbe0 250.5px 251.5px,#fff0f2 251.5px 252.5px,#ffeef1 252.5px 253.5px,#ffebee 253.5px 254.5px,#f5dadd 254.5px 255.5px,#f4d9dd 255.5px 256.5px,#f8e1e9 256.5px 257.5px,#feecf5 257.5px 258.5px,#f1e1ea 258.5px 259.5px,#f9e7ef 259.5px 260.5px,#ffe4e9 260.5px 261.5px,#ffdde4 261.5px 262.5px,#d3b2bd 262.5px 263.5px,#f5d6e2 263.5px 264.5px,#ffedfe 264.5px 265.5px,#ede1f3 265.5px 266.5px,#ebdae7 266.5px 267.5px,#ead9e7 267.5px 268.5px,#fee9f3 268.5px 269.5px,#f8e4ea 269.5px 270.6px,#f2e4ee 270.6px 271.6px,#fceffe 271.6px 272.6px,#e3d9e9 272.6px 273.6px,#ebe2f3 273.6px 274.6px,#f8ebf8 274.6px 275.6px,#f5e6eb 275.6px 276.6px,#fff0f2 276.6px 277.6px,#ffedee 277.6px 278.6px,#f4dfe0 278.6px 279.6px,#fff0f1 279.6px 280.6px,#f1dcdd 280.6px 281.6px,#fff0f2 281.6px 282.6px,#fdebf1 282.6px 283.6px,#f7e7f1 283.6px 284.6px,#eddce5 284.6px 285.6px,#f5e3ee 285.6px 286.6px,#f8e6f0 286.6px 287.6px,#f7e7f2 287.6px 288.6px,#eadeea 288.6px 289.6px,#efe6f1 289.6px 290.6px,#fff9ff 290.6px 291.6px,#fcf3fa 291.6px 292.6px,#f9ecf3 292.6px 293.6px,#eedde6 293.6px 294.6px,#f6e3ed 294.6px 295.6px,#efe0ef 295.6px 296.6px,#ede4f6 296.6px 297.6px)"></div><div style="position:absolute;left:47.2px;top:283.81px;width:297.60px;height:10.72px;background:linear-gradient(90deg,#ffcaca 0.0px 1.0px,#ffd1d1 1.0px 2.0px,#f1c0c0 2.0px 3.0px,#ffd9d9 3.0px 4.0px,#facfcf 4.0px 5.0px,#ffdcdc 5.0px 6.0px,#ffd7d7 6.0px 7.0px,#ffd5d5 7.0px 8.0px,#f4caca 8.0px 9.0px,#ffe2e2 9.0px 10.0px,#f2cfcf 10.0px 11.0px,#ffe8e8 11.0px 12.0px,#fddbdb 12.0px 13.1px,#fedbdb 13.1px 14.1px,#ffd9d9 14.1px 15.1px,#ffd8d8 15.1px 16.1px,#ffd6d6 16.1px 17.1px,#ffd5d5 17.1px 18.1px,#f9cdcd 18.1px 19.1px,#ffd7d7 19.1px 20.1px,#fcd2d2 20.1px 21.1px,#ffdddd 21.1px 22.1px,#f5cfcf 22.1px 23.1px,#fdddde 23.1px 24.1px,#ffe6e9 24.1px 25.1px,#fbeaf3 25.1px 26.1px,#f3e9fa 26.1px 27.1px,#e3d9ef 27.1px 28.1px,#e0d6eb 28.1px 29.1px,#f3e7fb 29.1px 30.1px,#f3e9fa 30.1px 31.1px,#ebe0f0 31.1px 32.1px,#f3e7f8 32.1px 33.1px,#ebdeef 33.1px 34.1px,#efdfed 34.1px 35.1px,#f7e2f1 35.1px 36.1px,#f4dced 36.1px 37.1px,#dac1d2 37.1px 38.1px,#f6deee 38.1px 39.1px,#e9d9e7 39.1px 40.1px,#fff7ff 40.1px 41.1px,#f1e5f4 41.1px 42.1px,#e3d7e9 42.1px 43.1px,#eadcf3 43.1px 44.1px,#e9dffb 44.1px 45.1px,#d0cce4 45.1px 46.1px,#f4f0ff 46.1px 47.1px,#fdf8ff 47.1px 48.1px,#f6ebf7 48.1px 49.1px,#e8d6df 49.1px 50.1px,#fce3eb 50.1px 51.1px,#f7dce2 51.1px 52.1px,#f6dce1 52.1px 53.2px,#ffeef5 53.2px 54.2px,#e8d7df 54.2px 55.2px,#f9ebf7 55.2px 56.2px,#f3eafa 56.2px 57.2px,#ebe7fd 57.2px 58.2px,#e3e2fe 58.2px 59.2px,#d8d3ed 59.2px 60.2px,#f7ebff 60.2px 61.2px,#e6d6e2 61.2px 62.2px,#ffebf2 62.2px 63.2px,#fee1e8 63.2px 64.2px,#e5c7ce 64.2px 65.2px,#ffe5ed 65.2px 66.2px,#f0d6de 66.2px 67.2px,#f8e3eb 67.2px 68.2px,#fbe8f1 68.2px 69.2px,#f9e6ef 69.2px 70.2px,#f4e0eb 70.2px 71.2px,#f1dce8 71.2px 72.2px,#e4d1dc 72.2px 73.2px,#fff7ff 73.2px 74.2px,#f5e2e6 74.2px 75.2px,#f8e7e9 75.2px 76.2px,#feeff3 76.2px 77.2px,#fff6fb 77.2px 78.2px,#f8eff8 78.2px 79.2px,#f5ebf8 79.2px 80.2px,#e9dff1 80.2px 81.2px,#e6dbee 81.2px 82.2px,#f2e2f2 82.2px 83.2px,#f1e2f2 83.2px 84.2px,#f5e7f8 84.2px 85.2px,#dcd1e3 85.2px 86.2px,#f5ecff 86.2px 87.2px,#f9ebf9 87.2px 88.2px,#f1dbe2 88.2px 89.2px,#ffe6ef 89.2px 90.2px,#ebd3e5 90.2px 91.2px,#dfc9df 91.2px 92.2px,#e3cfe5 92.2px 93.2px,#f9e3f5 93.2px 94.2px,#f2daea 94.2px 95.2px,#edd9ed 95.2px 96.2px,#d1c0d6 96.2px 97.2px,#fdedff 97.2px 98.2px,#ecd9eb 98.2px 99.2px,#f2ddec 99.2px 100.2px,#dec9d6 100.2px 101.2px,#fff3ff 101.2px 102.2px,#efe3f5 102.2px 103.2px,#e4daf3 103.2px 104.2px,#e2d7f7 104.2px 105.2px,#d2bfdb 105.2px 106.2px,#f1d6f1 106.2px 107.3px,#e5cbe6 107.3px 108.3px,#d9bfd9 108.3px 109.3px,#e5d3ef 109.3px 110.3px,#e1d5ec 110.3px 111.3px,#f9eaf9 111.3px 112.3px,#f7ebf7 112.3px 113.3px,#ede5f7 113.3px 114.3px,#f1ebff 114.3px 115.3px,#d2c9e1 115.3px 116.3px,#f3e7ff 116.3px 117.3px,#e0d3ee 117.3px 118.3px,#ecd9f0 118.3px 119.3px,#e6d0e6 119.3px 120.3px,#decadc 120.3px 121.3px,#fae3ed 121.3px 122.3px,#fff3f9 122.3px 123.3px,#f8ebf2 123.3px 124.3px,#f4e5eb 124.3px 125.3px,#f9e8f2 125.3px 126.3px,#f1e2ee 126.3px 127.3px,#f1e0f1 127.3px 128.3px,#f4e3f8 128.3px 129.3px,#cabbd5 129.3px 130.3px,#fbeeff 130.3px 131.3px,#c4bbd6 131.3px 132.3px,#f5ecff 132.3px 133.3px,#f6eafa 133.3px 134.3px,#f1e2eb 134.3px 135.3px,#fbe7f1 135.3px 136.3px,#fae2ec 136.3px 137.3px,#dfcad4 137.3px 138.3px,#feecfa 138.3px 139.3px,#f5ebfa 139.3px 140.3px,#e7e2f2 140.3px 141.3px,#f2ecff 141.3px 142.3px,#ebe1fa 142.3px 143.3px,#d3c4d8 143.3px 144.3px,#efe1f2 144.3px 145.3px,#fff4ff 145.3px 146.3px,#fcf6ff 146.3px 147.3px,#eae7f7 147.3px 148.3px,#edeaff 148.3px 149.3px,#e5dbf3 149.3px 150.3px,#e2d0e6 150.3px 151.3px,#f1d9f1 151.3px 152.3px,#dbc2db 152.3px 153.3px,#e4cee9 153.3px 154.3px,#decce5 154.3px 155.3px,#f4ddee 155.3px 156.3px,#ffe2ea 156.3px 157.3px,#f1d3d7 157.3px 158.3px,#fbe1e6 158.3px 159.3px,#fde6ed 159.3px 160.3px,#f7e3eb 160.3px 161.4px,#f7e3ec 161.4px 162.4px,#eed9e1 162.4px 163.4px,#fde9f2 163.4px 164.4px,#f5e6f1 164.4px 165.4px,#efe1ea 165.4px 166.4px,#fcedf8 166.4px 167.4px,#f4e8f6 167.4px 168.4px,#e7dbea 168.4px 169.4px,#f3e8f7 169.4px 170.4px,#f4e6f1 170.4px 171.4px,#f8e9f3 171.4px 172.4px,#f6e3ee 172.4px 173.4px,#f2d8e1 173.4px 174.4px,#f2d9e5 174.4px 175.4px,#f0d8e4 175.4px 176.4px,#f2dce5 176.4px 177.4px,#f6e7f2 177.4px 178.4px,#faedf4 178.4px 179.4px,#fff5f8 179.4px 180.4px,#f0e3e9 180.4px 181.4px,#fcf0f9 181.4px 182.4px,#eee5f0 182.4px 183.4px,#f3eefa 183.4px 184.4px,#f5f1fc 184.4px 185.4px,#fcf5fd 185.4px 186.4px,#f8eff7 186.4px 187.4px,#f3e8f0 187.4px 188.4px,#f3e6f2 188.4px 189.4px,#f5ebff 189.4px 190.4px,#dad0e6 190.4px 191.4px,#e7dcf1 191.4px 192.4px,#f2e6fc 192.4px 193.4px,#f0e1f5 193.4px 194.4px,#dfd0e3 194.4px 195.4px,#e5d7e9 195.4px 196.4px,#feeeff 196.4px 197.4px,#f6e7f8 197.4px 198.4px,#dccedf 198.4px 199.4px,#e9ddf0 199.4px 200.4px,#f7ecfd 200.4px 201.4px,#f5e4f0 201.4px 202.4px,#f7e3ed 202.4px 203.4px,#ead1d9 203.4px 204.4px,#ffebf1 204.4px 205.4px,#f0dbe1 205.4px 206.4px,#fee9ef 206.4px 207.4px,#fce9f1 207.4px 208.4px,#f2e2ef 208.4px 209.4px,#e7d9ec 209.4px 210.4px,#ebe1f8 210.4px 211.4px,#ded3e7 211.4px 212.4px,#f5e9fb 212.4px 213.4px,#f7eaf7 213.4px 214.4px,#f3e3ec 214.4px 215.4px,#fae6ef 215.4px 216.5px,#f6dfe9 216.5px 217.5px,#eed9e6 217.5px 218.5px,#e7d6e7 218.5px 219.5px,#f3ebff 219.5px 220.5px,#e9e4f7 220.5px 221.5px,#f4edff 221.5px 222.5px,#e2dbf2 222.5px 223.5px,#ded7f3 223.5px 224.5px,#ebe7ff 224.5px 225.5px,#c7c5e7 225.5px 226.5px,#dbd8f9 226.5px 227.5px,#f1eeff 227.5px 228.5px,#e3dbf0 228.5px 229.5px,#eee3f5 229.5px 230.5px,#efe3f3 230.5px 231.5px,#f4e3ee 231.5px 232.5px,#fae7f2 232.5px 233.5px,#f1deed 233.5px 234.5px,#eed8e7 234.5px 235.5px,#e1cbd9 235.5px 236.5px,#fae8f4 236.5px 237.5px,#fcecf5 237.5px 238.5px,#fae7ef 238.5px 239.5px,#f5dfe8 239.5px 240.5px,#e8d5e6 240.5px 241.5px,#f5e2f8 241.5px 242.5px,#d2c1d7 242.5px 243.5px,#f0e5fd 243.5px 244.5px,#f7e9fc 244.5px 245.5px,#ecdae6 245.5px 246.5px,#f1dfed 246.5px 247.5px,#f3e1ec 247.5px 248.5px,#f7e3e9 248.5px 249.5px,#ffeef6 249.5px 250.5px,#f2dce5 250.5px 251.5px,#e6ccd4 251.5px 252.5px,#ffebf6 252.5px 253.5px,#f7e2ed 253.5px 254.5px,#fae0e7 254.5px 255.5px,#ead0d9 255.5px 256.5px,#f5deed 256.5px 257.5px,#f2dfef 257.5px 258.5px,#e3d6e8 258.5px 259.5px,#ece2f6 259.5px 260.5px,#feedfb 260.5px 261.5px,#f0ddec 261.5px 262.5px,#e5d1e5 262.5px 263.5px,#e4cdde 263.5px 264.5px,#f2e0f4 264.5px 265.5px,#f6e2f5 265.5px 266.5px,#ecd3e3 266.5px 267.5px,#ddc6d5 267.5px 268.5px,#fde3f0 268.5px 269.5px,#fbe6f3 269.5px 270.6px,#e8dcec 270.6px 271.6px,#ebe1f3 271.6px 272.6px,#f1e9fc 272.6px 273.6px,#e8e0ee 273.6px 274.6px,#faedf8 274.6px 275.6px,#fbebf2 275.6px 276.6px,#fae8ec 276.6px 277.6px,#f5e6ec 277.6px 278.6px,#f7e9f0 278.6px 279.6px,#fceff6 279.6px 280.6px,#f8edf6 280.6px 281.6px,#f9e9f1 281.6px 282.6px,#efdee6 282.6px 283.6px,#fae8f1 283.6px 284.6px,#fde7ed 284.6px 285.6px,#ffe5eb 285.6px 286.6px,#edcfd5 286.6px 287.6px,#f8d6da 287.6px 288.6px,#ffe3e7 288.6px 289.6px,#f6dfe3 289.6px 290.6px,#feebf1 290.6px 291.6px,#f9e9f3 291.6px 292.6px,#eddeea 292.6px 293.6px,#eee3f3 293.6px 294.6px,#e9deed 294.6px 295.6px,#fcf3ff 295.6px 296.6px,#f5ecf6 296.6px 297.6px)"></div><div style="position:absolute;left:47.2px;top:294.48px;width:297.60px;height:10.72px;background:linear-gradient(90deg,#ffe0e0 0.0px 1.0px,#f1cece 1.0px 2.0px,#ffdede 2.0px 3.0px,#ffe7e7 3.0px 4.0px,#ffe4e4 4.0px 5.0px,#ffe6e6 5.0px 6.0px,#fbdada 6.0px 7.0px,#fbdcdc 7.0px 8.0px,#fbddde 8.0px 9.0px,#ffeff0 9.0px 10.0px,#f7d9d9 10.0px 11.0px,#ffdfdf 11.0px 12.0px,#f7d2d2 12.0px 13.1px,#fedcdc 13.1px 14.1px,#ffe7e7 14.1px 15.1px,#fadcdc 15.1px 16.1px,#fcdddd 16.1px 17.1px,#ffe1e1 17.1px 18.1px,#ffe3e3 18.1px 19.1px,#fadddd 19.1px 20.1px,#fce1e1 20.1px 21.1px,#ffebeb 21.1px 22.1px,#ffe8e8 22.1px 23.1px,#f7e5e7 23.1px 24.1px,#fff1f9 24.1px 25.1px,#f4ecf8 25.1px 26.1px,#e7e4f6 26.1px 27.1px,#efedff 27.1px 28.1px,#dddbf1 28.1px 29.1px,#f2efff 29.1px 30.1px,#ebe6fb 30.1px 31.1px,#e1d9e9 31.1px 32.1px,#fdf2ff 32.1px 33.1px,#f2e8f2 33.1px 34.1px,#fdf3fb 34.1px 35.1px,#f5eaf2 35.1px 36.1px,#f7e7ef 36.1px 37.1px,#f8e4e9 37.1px 38.1px,#f9e2e4 38.1px 39.1px,#ffeff4 39.1px 40.1px,#f5e1ea 40.1px 41.1px,#e2d0e3 41.1px 42.1px,#f4e7ff 42.1px 43.1px,#c0b6d6 43.1px 44.1px,#ebe3ff 44.1px 45.1px,#dfd5ef 45.1px 46.1px,#fbe9f7 46.1px 47.1px,#f8dee5 47.1px 48.1px,#f5d7da 48.1px 49.1px,#ffe3e6 49.1px 50.1px,#fae4e8 50.1px 51.1px,#ffeef4 51.1px 52.1px,#f3e3ea 52.1px 53.2px,#faedf9 53.2px 54.2px,#f0e4f5 54.2px 55.2px,#e3d6e6 55.2px 56.2px,#f0e4f7 56.2px 57.2px,#fae7f7 57.2px 58.2px,#eed5e2 58.2px 59.2px,#dcc8da 59.2px 60.2px,#fae6f6 60.2px 61.2px,#efdeeb 61.2px 62.2px,#faecf8 62.2px 63.2px,#efdfe7 63.2px 64.2px,#fdeaef 64.2px 65.2px,#fff0f3 65.2px 66.2px,#f2dee0 66.2px 67.2px,#fde8ea 67.2px 68.2px,#ffeef3 68.2px 69.2px,#fbedf4 69.2px 70.2px,#f2e2e9 70.2px 71.2px,#fde7ed 71.2px 72.2px,#fadee4 72.2px 73.2px,#f7dae1 73.2px 74.2px,#edd2e0 74.2px 75.2px,#ecd7e9 75.2px 76.2px,#ebd8e7 76.2px 77.2px,#f2e4f0 77.2px 78.2px,#fcf1fa 78.2px 79.2px,#fdf2fa 79.2px 80.2px,#f0e9f3 80.2px 81.2px,#f8ecf6 81.2px 82.2px,#f9e6ee 82.2px 83.2px,#f2dde9 83.2px 84.2px,#f0dded 84.2px 85.2px,#ddcedf 85.2px 86.2px,#faf0ff 86.2px 87.2px,#f5e2f2 87.2px 88.2px,#eed5df 88.2px 89.2px,#e4cddc 89.2px 90.2px,#ffefff 90.2px 91.2px,#d0c4d7 91.2px 92.2px,#f7edff 92.2px 93.2px,#f8eaf6 93.2px 94.2px,#f2e3eb 94.2px 95.2px,#f8e9f2 95.2px 96.2px,#f7e8f3 96.2px 97.2px,#ecdce9 97.2px 98.2px,#f8e7f7 98.2px 99.2px,#ebd9ec 99.2px 100.2px,#decfe8 100.2px 101.2px,#e5d8f9 101.2px 102.2px,#dbcbe9 102.2px 103.2px,#e3d2ef 103.2px 104.2px,#e4d6f4 104.2px 105.2px,#e4d5ef 105.2px 106.2px,#e3d7ef 106.2px 107.3px,#e8dff3 107.3px 108.3px,#ffecfa 108.3px 109.3px,#fee1e8 109.3px 110.3px,#e5c4c9 110.3px 111.3px,#ffdfe4 111.3px 112.3px,#f5d4dd 112.3px 113.3px,#e7d2e3 113.3px 114.3px,#f5e1f7 114.3px 115.3px,#e8d2e7 115.3px 116.3px,#dbc7df 116.3px 117.3px,#f6e1fa 117.3px 118.3px,#d5c3db 118.3px 119.3px,#efe2fc 119.3px 120.3px,#e3d5e8 120.3px 121.3px,#fae9fa 121.3px 122.3px,#f3e6fc 122.3px 123.3px,#d2c2d9 123.3px 124.3px,#f4dbf1 124.3px 125.3px,#eaccdc 125.3px 126.3px,#f0d1dd 126.3px 127.3px,#fddce7 127.3px 128.3px,#f4d6e7 128.3px 129.3px,#dec5de 129.3px 130.3px,#d7bcd3 130.3px 131.3px,#f5def2 131.3px 132.3px,#f5e3f1 132.3px 133.3px,#ffedf3 133.3px 134.3px,#f2dde0 134.3px 135.3px,#fff1f6 135.3px 136.3px,#efdbe1 136.3px 137.3px,#f6e4ed 137.3px 138.3px,#f4e6f3 138.3px 139.3px,#ede4f4 139.3px 140.3px,#f5eeff 140.3px 141.3px,#ddd4e9 141.3px 142.3px,#f0e4fe 142.3px 143.3px,#e4d9f6 143.3px 144.3px,#cdc0d7 144.3px 145.3px,#f7ecff 145.3px 146.3px,#f1e7fe 146.3px 147.3px,#efdef3 147.3px 148.3px,#dfc6db 148.3px 149.3px,#e0c5d9 149.3px 150.3px,#f8dae8 150.3px 151.3px,#f0d9e6 151.3px 152.3px,#f6e8f7 152.3px 153.3px,#f5e3f0 153.3px 154.3px,#fae4ee 154.3px 155.3px,#e2c6cc 155.3px 156.3px,#ffeaec 156.3px 157.3px,#ffdfe3 157.3px 158.3px,#f2d6dd 158.3px 159.3px,#f2d6df 159.3px 160.3px,#f7e1ed 160.3px 161.4px,#f0dde8 161.4px 162.4px,#f5e3ec 162.4px 163.4px,#ffebf3 163.4px 164.4px,#fae5f3 164.4px 165.4px,#e4d0e4 165.4px 166.4px,#d1bed3 166.4px 167.4px,#f9eaff 167.4px 168.4px,#f1e4f4 168.4px 169.4px,#f3e3ee 169.4px 170.4px,#fce6ef 170.4px 171.4px,#f7dce4 171.4px 172.4px,#efd4da 172.4px 173.4px,#fae0e7 173.4px 174.4px,#fbe7f7 174.4px 175.4px,#e4d8ee 175.4px 176.4px,#d5cbe2 176.4px 177.4px,#faecff 177.4px 178.4px,#f8e6f1 178.4px 179.4px,#f0dce1 179.4px 180.4px,#feecf3 180.4px 181.4px,#f3e7f2 181.4px 182.4px,#f3ecfd 182.4px 183.4px,#e7dff2 183.4px 184.4px,#e4d9e8 184.4px 185.4px,#fff2fe 185.4px 186.4px,#f8e5eb 186.4px 187.4px,#ffe9ed 187.4px 188.4px,#eedae9 188.4px 189.4px,#eedef4 189.4px 190.4px,#d3c3d9 190.4px 191.4px,#fcedff 191.4px 192.4px,#e6d8eb 192.4px 193.4px,#f4e5f6 193.4px 194.4px,#dfd3eb 194.4px 195.4px,#f2e5ff 195.4px 196.4px,#d7c4dc 196.4px 197.4px,#e3cee1 197.4px 198.4px,#ffe8f5 198.4px 199.4px,#f9e0e8 199.4px 200.4px,#ecd5dc 200.4px 201.4px,#ffe7ed 201.4px 202.4px,#fadadf 202.4px 203.4px,#efcfd1 203.4px 204.4px,#ffe2e4 204.4px 205.4px,#ffe1e4 205.4px 206.4px,#f3d8dd 206.4px 207.4px,#f6dfe8 207.4px 208.4px,#f9e7f5 208.4px 209.4px,#eddceb 209.4px 210.4px,#e9d9e7 210.4px 211.4px,#efe1ec 211.4px 212.4px,#fff6fd 212.4px 213.4px,#fef8ff 213.4px 214.4px,#f5eef6 214.4px 215.4px,#f4e7f0 215.4px 216.5px,#f3dfe6 216.5px 217.5px,#ffe8eb 217.5px 218.5px,#f2dbdc 218.5px 219.5px,#ffecee 219.5px 220.5px,#fff6f6 220.5px 221.5px,#fae6ec 221.5px 222.5px,#f3dce7 222.5px 223.5px,#dec8d9 223.5px 224.5px,#f5e6ff 224.5px 225.5px,#ddd4ef 225.5px 226.5px,#e0daf8 226.5px 227.5px,#e1dbfb 227.5px 228.5px,#e3daf7 228.5px 229.5px,#e1d3ea 229.5px 230.5px,#f4e0ef 230.5px 231.5px,#f0d9e1 231.5px 232.5px,#ffebf0 232.5px 233.5px,#faecf6 233.5px 234.5px,#ebe4f6 234.5px 235.5px,#e0dcf3 235.5px 236.5px,#e6e3fb 236.5px 237.5px,#f3e9fb 237.5px 238.5px,#feebf5 238.5px 239.5px,#e4d1da 239.5px 240.5px,#ffedfb 240.5px 241.5px,#e7d9ee 241.5px 242.5px,#e9dffa 242.5px 243.5px,#d2c7e2 243.5px 244.5px,#f2e3fc 244.5px 245.5px,#efdaeb 245.5px 246.5px,#f4dce9 246.5px 247.5px,#e7ceda 247.5px 248.5px,#ffe3e9 248.5px 249.5px,#fde5eb 249.5px 250.5px,#f5e3e7 250.5px 251.5px,#fbeaef 251.5px 252.5px,#fff2f9 252.5px 253.5px,#f8e4eb 253.5px 254.5px,#ffe4ea 254.5px 255.5px,#e4c8d1 255.5px 256.5px,#fce1ef 256.5px 257.5px,#e9d0e1 257.5px 258.5px,#f1d8e8 258.5px 259.5px,#eacfdb 259.5px 260.5px,#fbdfe5 260.5px 261.5px,#ffeaf1 261.5px 262.5px,#f2e1ec 262.5px 263.5px,#ebd9e3 263.5px 264.5px,#fceaf4 264.5px 265.5px,#fcecf4 265.5px 266.5px,#f1e0e5 266.5px 267.5px,#ffeff6 267.5px 268.5px,#fbe8f0 268.5px 269.5px,#f0dbe4 269.5px 270.6px,#eddae9 270.6px 271.6px,#f2e3f8 271.6px 272.6px,#dcd1e6 272.6px 273.6px,#eee5fc 273.6px 274.6px,#f0e2f6 274.6px 275.6px,#f6dde9 275.6px 276.6px,#eacdd7 276.6px 277.6px,#f9d9df 277.6px 278.6px,#ffe3e6 278.6px 279.6px,#f8e2e4 279.6px 280.6px,#ffecee 280.6px 281.6px,#fdebed 281.6px 282.6px,#ffebf0 282.6px 283.6px,#f9e3e9 283.6px 284.6px,#f3d9e1 284.6px 285.6px,#f9dce4 285.6px 286.6px,#ebd1da 286.6px 287.6px,#fce5ed 287.6px 288.6px,#faeaf3 288.6px 289.6px,#f0e5ee 289.6px 290.6px,#fff4fe 290.6px 291.6px,#f7e8f3 291.6px 292.6px,#eed9e4 292.6px 293.6px,#edd4df 293.6px 294.6px,#fce0ec 294.6px 295.6px,#e9d5e5 295.6px 296.6px,#eadcf1 296.6px 297.6px)"></div><div style="position:absolute;left:47.2px;top:305.15px;width:297.60px;height:10.72px;background:linear-gradient(90deg,#ffdbdb 0.0px 1.0px,#fcd5d5 1.0px 2.0px,#fcd5d5 2.0px 3.0px,#ffdada 3.0px 4.0px,#ffdcdc 4.0px 5.0px,#ffe5e5 5.0px 6.0px,#f7d3d3 6.0px 7.0px,#ffe3e3 7.0px 8.0px,#eecacb 8.0px 9.0px,#ffe6e7 9.0px 10.0px,#fdd4d5 10.0px 11.0px,#fbcfd0 11.0px 12.0px,#facece 12.0px 13.1px,#fbd3d3 13.1px 14.1px,#ffe6e6 14.1px 15.1px,#ffdada 15.1px 16.1px,#fcd5d5 16.1px 17.1px,#facfcf 17.1px 18.1px,#ffdbdb 18.1px 19.1px,#f9d4d4 19.1px 20.1px,#ffe1e1 20.1px 21.1px,#ffdcdc 21.1px 22.1px,#f7d5d5 22.1px 23.1px,#f9dadb 23.1px 24.1px,#ffeff5 24.1px 25.1px,#f9ebfd 25.1px 26.1px,#dad2f0 26.1px 27.1px,#c4bfe1 27.1px 28.1px,#ebe6ff 28.1px 29.1px,#e2daf0 29.1px 30.1px,#f7edf9 30.1px 31.1px,#fbf0fa 31.1px 32.1px,#f7eef6 32.1px 33.1px,#f5ebf4 33.1px 34.1px,#feeef8 34.1px 35.1px,#eed7df 35.1px 36.1px,#f0d5da 36.1px 37.1px,#ffecf1 37.1px 38.1px,#f8e2e8 38.1px 39.1px,#fae4e9 39.1px 40.1px,#f6dde2 40.1px 41.1px,#ffe4e9 41.1px 42.1px,#eed7e0 42.1px 43.1px,#f4e4f9 43.1px 44.1px,#e0d9fa 44.1px 45.1px,#d0cbef 45.1px 46.1px,#d8cae8 46.1px 47.1px,#fae4fa 47.1px 48.1px,#e3c7d3 48.1px 49.1px,#ffe1e9 49.1px 50.1px,#f9dce5 50.1px 51.1px,#e7cfd8 51.1px 52.1px,#f8e3f1 52.1px 53.2px,#f3e6f7 53.2px 54.2px,#e6dbeb 54.2px 55.2px,#f5e9f7 55.2px 56.2px,#f1e7f2 56.2px 57.2px,#fff4fe 57.2px 58.2px,#f3e9f5 58.2px 59.2px,#ede1ee 59.2px 60.2px,#f0dce9 60.2px 61.2px,#fbe1eb 61.2px 62.2px,#eed3db 62.2px 63.2px,#f3dee9 63.2px 64.2px,#feeffe 64.2px 65.2px,#e6d8e8 65.2px 66.2px,#fbe8f9 66.2px 67.2px,#dfc5d1 67.2px 68.2px,#fadbe5 68.2px 69.2px,#fbdce5 69.2px 70.2px,#f3d8de 70.2px 71.2px,#f8e0e5 71.2px 72.2px,#ffe9ed 72.2px 73.2px,#ffeaee 73.2px 74.2px,#eacfd6 74.2px 75.2px,#edd5e2 75.2px 76.2px,#f1e0f0 76.2px 77.2px,#f6ebfa 77.2px 78.2px,#f1e7f9 78.2px 79.2px,#eee1f2 79.2px 80.2px,#e3d3e6 80.2px 81.2px,#f1e3fc 81.2px 82.2px,#d9cae1 82.2px 83.2px,#f3e3ff 83.2px 84.2px,#dacbe8 84.2px 85.2px,#d7c7e1 85.2px 86.2px,#f4e9ff 86.2px 87.2px,#e7d9e9 87.2px 88.2px,#ffedf7 88.2px 89.2px,#efdfee 89.2px 90.2px,#f8eaff 90.2px 91.2px,#c2b7d3 91.2px 92.2px,#e9ddf8 92.2px 93.2px,#f5e3f5 93.2px 94.2px,#f9e2e8 94.2px 95.2px,#fde7f0 95.2px 96.2px,#eedfed 96.2px 97.2px,#e9dded 97.2px 98.2px,#ede5f5 98.2px 99.2px,#fbf1ff 99.2px 100.2px,#fcecf7 100.2px 101.2px,#e8d4de 101.2px 102.2px,#f5dee9 102.2px 103.2px,#f1dbe4 103.2px 104.2px,#feebf8 104.2px 105.2px,#efe2f4 105.2px 106.2px,#dccfe0 106.2px 107.3px,#f7eafe 107.3px 108.3px,#faebfe 108.3px 109.3px,#dac6d5 109.3px 110.3px,#f7e0ed 110.3px 111.3px,#f5dfe8 111.3px 112.3px,#fcebf2 112.3px 113.3px,#faf0fb 113.3px 114.3px,#efe8f7 114.3px 115.3px,#f0e1ed 115.3px 116.3px,#ffe8f4 116.3px 117.3px,#ddc6d3 117.3px 118.3px,#f6e1ee 118.3px 119.3px,#eedff0 119.3px 120.3px,#fff3ff 120.3px 121.3px,#e0c9d8 121.3px 122.3px,#f0d2df 122.3px 123.3px,#e8cbd8 123.3px 124.3px,#ffe5ef 124.3px 125.3px,#fce3eb 125.3px 126.3px,#fae2ec 126.3px 127.3px,#e1cbd8 127.3px 128.3px,#f0dcf0 128.3px 129.3px,#efe4ff 129.3px 130.3px,#cdc8e6 130.3px 131.3px,#e3defe 131.3px 132.3px,#ece7ff 132.3px 133.3px,#dfd6ee 133.3px 134.3px,#e5d8ed 134.3px 135.3px,#f3e0f0 135.3px 136.3px,#fbe3ec 136.3px 137.3px,#f4dce4 137.3px 138.3px,#f0dae4 138.3px 139.3px,#f9e6f4 139.3px 140.3px,#ecdff1 140.3px 141.3px,#e0d7ee 141.3px 142.3px,#ece5ff 142.3px 143.3px,#dcd7f6 143.3px 144.3px,#ded9f6 144.3px 145.3px,#e3ddf8 145.3px 146.3px,#f0e9ff 146.3px 147.3px,#dfd6ee 147.3px 148.3px,#e2d9ef 148.3px 149.3px,#efe4f5 149.3px 150.3px,#fff2fb 150.3px 151.3px,#fce5ee 151.3px 152.3px,#e9cfde 152.3px 153.3px,#e5c3d5 153.3px 154.3px,#f6d1e3 154.3px 155.3px,#ddbdcb 155.3px 156.3px,#ffdbe3 156.3px 157.3px,#ffe3ed 157.3px 158.3px,#d8bac8 158.3px 159.3px,#eed1e0 159.3px 160.3px,#f6e1f3 160.3px 161.4px,#f0dce9 161.4px 162.4px,#fde6ee 162.4px 163.4px,#eed8e0 163.4px 164.4px,#ffeaf1 164.4px 165.4px,#eddce5 165.4px 166.4px,#feeffb 166.4px 167.4px,#efe0ec 167.4px 168.4px,#ede0ed 168.4px 169.4px,#f4e8f6 169.4px 170.4px,#f0e5f1 170.4px 171.4px,#f8f0fe 171.4px 172.4px,#ebe3f6 172.4px 173.4px,#eae2f6 173.4px 174.4px,#dcd5e8 174.4px 175.4px,#fff8ff 175.4px 176.4px,#f6ebf2 176.4px 177.4px,#fff4f9 177.4px 178.4px,#f6e5ef 178.4px 179.4px,#e9d5e1 179.4px 180.4px,#f1ddea 180.4px 181.4px,#f0e1ed 181.4px 182.4px,#fff1fc 182.4px 183.4px,#f1e3ee 183.4px 184.4px,#ede1f2 184.4px 185.4px,#e7def3 185.4px 186.4px,#e8dff5 186.4px 187.4px,#f1e6fa 187.4px 188.4px,#e3d5e8 188.4px 189.4px,#f4e6f9 189.4px 190.4px,#e5d7e8 190.4px 191.4px,#f4e7f6 191.4px 192.4px,#ede2f0 192.4px 193.4px,#fef1f9 193.4px 194.4px,#faebf4 194.4px 195.4px,#f3e0ed 195.4px 196.4px,#f2d7e5 196.4px 197.4px,#dcc4d7 197.4px 198.4px,#f1ddf6 198.4px 199.4px,#e2d7f3 199.4px 200.4px,#d1cde8 200.4px 201.4px,#fbf0ff 201.4px 202.4px,#f8e9f6 202.4px 203.4px,#f0dfed 203.4px 204.4px,#f3deef 204.4px 205.4px,#deccdd 205.4px 206.4px,#eddced 206.4px 207.4px,#ffedfa 207.4px 208.4px,#eddce7 208.4px 209.4px,#f0e2f3 209.4px 210.4px,#eee1f6 210.4px 211.4px,#ddd2e8 211.4px 212.4px,#ece3fa 212.4px 213.4px,#ece2f4 213.4px 214.4px,#fcecf8 214.4px 215.4px,#fae1ea 215.4px 216.5px,#e8cdd4 216.5px 217.5px,#f8dde3 217.5px 218.5px,#ffeef2 218.5px 219.5px,#fdedf3 219.5px 220.5px,#f5e8ee 220.5px 221.5px,#f5e9f0 221.5px 222.5px,#fff5ff 222.5px 223.5px,#eae2f5 223.5px 224.5px,#d9d1ea 224.5px 225.5px,#e8e1fd 225.5px 226.5px,#e1dbf5 226.5px 227.5px,#f1eaff 227.5px 228.5px,#e3daed 228.5px 229.5px,#ede1ee 229.5px 230.5px,#fff2fc 230.5px 231.5px,#f5e5eb 231.5px 232.5px,#fae4e9 232.5px 233.5px,#fde6f1 233.5px 234.5px,#edd6e9 234.5px 235.5px,#d5c0d2 235.5px 236.5px,#ecdef8 236.5px 237.5px,#f7eaff 237.5px 238.5px,#ecd9e7 238.5px 239.5px,#ecd8e4 239.5px 240.5px,#f7e1ee 240.5px 241.5px,#faeaf8 241.5px 242.5px,#dcd1e1 242.5px 243.5px,#fff5ff 243.5px 244.5px,#e9d8e2 244.5px 245.5px,#fbe3e9 245.5px 246.5px,#ffeaf1 246.5px 247.5px,#dec5ce 247.5px 248.5px,#f9e3ef 248.5px 249.5px,#f4e0eb 249.5px 250.5px,#fae9f4 250.5px 251.5px,#f5e3eb 251.5px 252.5px,#ecdbe2 252.5px 253.5px,#fff3fb 253.5px 254.5px,#fbeaef 254.5px 255.5px,#f3e2e8 255.5px 256.5px,#fce9f1 256.5px 257.5px,#f3e0e8 257.5px 258.5px,#f5e5f1 258.5px 259.5px,#efe3f3 259.5px 260.5px,#efe1ee 260.5px 261.5px,#f7e9fa 261.5px 262.5px,#ebdff1 262.5px 263.5px,#dfd1df 263.5px 264.5px,#faefff 264.5px 265.5px,#f7eeff 265.5px 266.5px,#e1d4e2 266.5px 267.5px,#ede3f7 267.5px 268.5px,#fbedff 268.5px 269.5px,#d4c5d5 269.5px 270.6px,#ece1f5 270.6px 271.6px,#fff3ff 271.6px 272.6px,#e8d6e2 272.6px 273.6px,#f0dded 273.6px 274.6px,#f2dcec 274.6px 275.6px,#ead5e1 275.6px 276.6px,#f4e3ef 276.6px 277.6px,#faecf6 277.6px 278.6px,#ffeef6 278.6px 279.6px,#f6e2ea 279.6px 280.6px,#e5d2dd 280.6px 281.6px,#ffeffd 281.6px 282.6px,#e3d3e2 282.6px 283.6px,#eee2f6 283.6px 284.6px,#ecdbed 284.6px 285.6px,#f4e1ef 285.6px 286.6px,#edd8e0 286.6px 287.6px,#ffebee 287.6px 288.6px,#fdecf0 288.6px 289.6px,#fff2fb 289.6px 290.6px,#efe2f0 290.6px 291.6px,#e0d5e6 291.6px 292.6px,#f1e6f8 292.6px 293.6px,#f6edfe 293.6px 294.6px,#eae1ef 294.6px 295.6px,#f3e5f1 295.6px 296.6px,#f7e6ef 296.6px 297.6px)"></div><div style="position:absolute;left:47.2px;top:315.82px;width:297.60px;height:10.72px;background:linear-gradient(90deg,#fff6f7 0.0px 1.0px,#f9edee 1.0px 2.0px,#fcf0f1 2.0px 3.0px,#fef3f5 3.0px 4.0px,#fff6f7 4.0px 5.0px,#fef3f3 5.0px 6.0px,#fdf0f1 6.0px 7.0px,#fdf1f4 7.0px 8.0px,#fef1f5 8.0px 9.0px,#fcedf1 9.0px 10.0px,#eedee3 10.0px 11.0px,#ffeff3 11.0px 12.0px,#f9eaec 12.0px 13.1px,#fff5f8 13.1px 14.1px,#f6e8ea 14.1px 15.1px,#fff2f4 15.1px 16.1px,#fcf1f2 16.1px 17.1px,#fffafa 17.1px 18.1px,#fff6f6 18.1px 19.1px,#f9edef 19.1px 20.1px,#fbeff1 20.1px 21.1px,#fff6f8 21.1px 22.1px,#f9f1f5 22.1px 23.1px,#fff5fa 23.1px 24.1px,#fdeef2 24.1px 25.1px,#eddfe6 25.1px 26.1px,#fbedf8 26.1px 27.1px,#f1e4f1 27.1px 28.1px,#e9dfec 28.1px 29.1px,#f4e8f4 29.1px 30.1px,#fef0fc 30.1px 31.1px,#f9eafb 31.1px 32.1px,#d7c5d8 32.1px 33.1px,#e5cee1 33.1px 34.1px,#f7e0f0 34.1px 35.1px,#fce4ef 35.1px 36.1px,#f2dbe7 36.1px 37.1px,#e7d7e8 37.1px 38.1px,#f2e0f2 38.1px 39.1px,#eddcec 39.1px 40.1px,#eedeec 40.1px 41.1px,#ffecfe 41.1px 42.1px,#eadafa 42.1px 43.1px,#b6a7ce 43.1px 44.1px,#d4c7f4 44.1px 45.1px,#ddd0f6 45.1px 46.1px,#e8d6eb 46.1px 47.1px,#f9e4f1 47.1px 48.1px,#f7e0e6 48.1px 49.1px,#ffe5e9 49.1px 50.1px,#fae1e8 50.1px 51.1px,#e9d5de 51.1px 52.1px,#fbe6f0 52.1px 53.2px,#fbe9f6 53.2px 54.2px,#e9dae7 54.2px 55.2px,#efddeb 55.2px 56.2px,#f3e5f9 56.2px 57.2px,#ebdff5 57.2px 58.2px,#e2d2e4 58.2px 59.2px,#e8d9ea 59.2px 60.2px,#feedfa 60.2px 61.2px,#f4e7f0 61.2px 62.2px,#f2e8f2 62.2px 63.2px,#fbf2fd 63.2px 64.2px,#efe6f0 64.2px 65.2px,#faeef7 65.2px 66.2px,#f2e5ed 66.2px 67.2px,#fcedf4 67.2px 68.2px,#feecf3 68.2px 69.2px,#f2dde4 69.2px 70.2px,#efdce8 70.2px 71.2px,#fae8f7 71.2px 72.2px,#e6d2e4 72.2px 73.2px,#eed9f0 73.2px 74.2px,#d8c2da 74.2px 75.2px,#f1def6 75.2px 76.2px,#e0d2e9 76.2px 77.2px,#ece3f5 77.2px 78.2px,#f7f0fd 78.2px 79.2px,#fcf6ff 79.2px 80.2px,#f4f0ff 80.2px 81.2px,#e6e0f2 81.2px 82.2px,#e7ddef 82.2px 83.2px,#f0e4f3 83.2px 84.2px,#f9ebf7 84.2px 85.2px,#f6e8f6 85.2px 86.2px,#e8def4 86.2px 87.2px,#dfcfe7 87.2px 88.2px,#f2d9ef 88.2px 89.2px,#e4c9de 89.2px 90.2px,#e8cadc 90.2px 91.2px,#eed0dd 91.2px 92.2px,#ffe9f6 92.2px 93.2px,#efd2dd 93.2px 94.2px,#eed0da 94.2px 95.2px,#e8d1dc 95.2px 96.2px,#fff2ff 96.2px 97.2px,#f8ebf8 97.2px 98.2px,#e5d9e6 98.2px 99.2px,#f5eafa 99.2px 100.2px,#e9e1f0 100.2px 101.2px,#f9f3ff 101.2px 102.2px,#eae1f3 102.2px 103.2px,#ece2f3 103.2px 104.2px,#e9dcec 104.2px 105.2px,#f6e3ee 105.2px 106.2px,#f8e6f0 106.2px 107.3px,#f7e9f8 107.3px 108.3px,#e8d9eb 108.3px 109.3px,#e8d7ea 109.3px 110.3px,#f4dcee 110.3px 111.3px,#f0d1dd 111.3px 112.3px,#ebced9 112.3px 113.3px,#fce3f1 113.3px 114.3px,#f0ddee 114.3px 115.3px,#e8d1e1 115.3px 116.3px,#f2d8e7 116.3px 117.3px,#e8ceda 117.3px 118.3px,#ffebf7 118.3px 119.3px,#e5d5e4 119.3px 120.3px,#e8def1 120.3px 121.3px,#f6efff 121.3px 122.3px,#e9deef 122.3px 123.3px,#f8e7f3 123.3px 124.3px,#ecd6df 124.3px 125.3px,#ffe8eb 125.3px 126.3px,#f9e0e5 126.3px 127.3px,#f5dee9 127.3px 128.3px,#fbe2f1 128.3px 129.3px,#d8c3d9 129.3px 130.3px,#e6d3eb 130.3px 131.3px,#e3d4e9 131.3px 132.3px,#fef1ff 132.3px 133.3px,#f0e1f0 133.3px 134.3px,#e4d5e1 134.3px 135.3px,#f8e6ef 135.3px 136.3px,#fff7fc 136.3px 137.3px,#eee0e6 137.3px 138.3px,#faecf6 138.3px 139.3px,#f1e7f5 139.3px 140.3px,#ebe4f8 140.3px 141.3px,#efe8ff 141.3px 142.3px,#d8cddf 142.3px 143.3px,#f6ebfc 143.3px 144.3px,#fcf0fc 144.3px 145.3px,#f1e5ee 145.3px 146.3px,#f8efff 146.3px 147.3px,#e7dff3 147.3px 148.3px,#e2d8eb 148.3px 149.3px,#f8ecfb 149.3px 150.3px,#f5e6ef 150.3px 151.3px,#ffecf2 151.3px 152.3px,#f1e0e9 152.3px 153.3px,#ede0ec 153.3px 154.3px,#faf1fe 154.3px 155.3px,#eee6f1 155.3px 156.3px,#fff5fd 156.3px 157.3px,#f9e8f1 157.3px 158.3px,#ebdae7 158.3px 159.3px,#e9d7ec 159.3px 160.3px,#ebdcf5 160.3px 161.4px,#d7c8de 161.4px 162.4px,#f8e6f7 162.4px 163.4px,#f2e2ee 163.4px 164.4px,#f8ecfa 164.4px 165.4px,#efe9fb 165.4px 166.4px,#ded8ea 166.4px 167.4px,#fdf3ff 167.4px 168.4px,#e6daeb 168.4px 169.4px,#f5e8fc 169.4px 170.4px,#dccee1 170.4px 171.4px,#e9dcee 171.4px 172.4px,#faecf9 172.4px 173.4px,#fbedf7 173.4px 174.4px,#f0e4f3 174.4px 175.4px,#e6dbed 175.4px 176.4px,#e7def2 176.4px 177.4px,#f7edff 177.4px 178.4px,#eadfeb 178.4px 179.4px,#f4e6ef 179.4px 180.4px,#fff4fc 180.4px 181.4px,#efdce2 181.4px 182.4px,#fae5ef 182.4px 183.4px,#efddee 183.4px 184.4px,#e9daf0 184.4px 185.4px,#ded2ed 185.4px 186.4px,#e3daf8 186.4px 187.4px,#ded5f1 187.4px 188.4px,#e5dffa 188.4px 189.4px,#ebe7ff 189.4px 190.4px,#e4def6 190.4px 191.4px,#ece1f4 191.4px 192.4px,#f1e1f0 192.4px 193.4px,#f7e3f0 193.4px 194.4px,#f3e0f1 194.4px 195.4px,#dccde2 195.4px 196.4px,#e0d6f0 196.4px 197.4px,#fef3ff 197.4px 198.4px,#dac7d9 198.4px 199.4px,#f4dbea 199.4px 200.4px,#edcfda 200.4px 201.4px,#ffe4e9 201.4px 202.4px,#f7d8de 202.4px 203.4px,#ffe3e9 203.4px 204.4px,#e5c4c9 204.4px 205.4px,#ffebf0 205.4px 206.4px,#ecd3d9 206.4px 207.4px,#ffecf4 207.4px 208.4px,#f0e2ef 208.4px 209.4px,#f0eafd 209.4px 210.4px,#ece8ff 210.4px 211.4px,#d6d0e5 211.4px 212.4px,#faf2ff 212.4px 213.4px,#ece3f1 213.4px 214.4px,#ffeffa 214.4px 215.4px,#f4deeb 215.4px 216.5px,#e0ccda 216.5px 217.5px,#eed8e5 217.5px 218.5px,#fff2ff 218.5px 219.5px,#e7e0ee 219.5px 220.5px,#f7f1fd 220.5px 221.5px,#ede9fb 221.5px 222.5px,#f5f3ff 222.5px 223.5px,#c8c6e0 223.5px 224.5px,#f3f2ff 224.5px 225.5px,#dcdbf8 225.5px 226.5px,#e8e6ff 226.5px 227.5px,#dddaf6 227.5px 228.5px,#dfdcf4 228.5px 229.5px,#f8f5ff 229.5px 230.5px,#e4e1f2 230.5px 231.5px,#fcf0ff 231.5px 232.5px,#f3e1f3 232.5px 233.5px,#decce4 233.5px 234.5px,#d4bfd7 234.5px 235.5px,#f9e5fb 235.5px 236.5px,#e6d6eb 236.5px 237.5px,#fae8f9 237.5px 238.5px,#dbcbdd 238.5px 239.5px,#f0e7fb 239.5px 240.5px,#f3eafe 240.5px 241.5px,#f4eafb 241.5px 242.5px,#dcd1e1 242.5px 243.5px,#f6ebfe 243.5px 244.5px,#f5e8fa 244.5px 245.5px,#e7d7e4 245.5px 246.5px,#f6e3ef 246.5px 247.5px,#f4dde4 247.5px 248.5px,#ffe7ea 248.5px 249.5px,#f6dde1 249.5px 250.5px,#f9e1e6 250.5px 251.5px,#fde6ec 251.5px 252.5px,#f1e0e9 252.5px 253.5px,#f4e5ed 253.5px 254.5px,#fff1f7 254.5px 255.5px,#f9e5ed 255.5px 256.5px,#eddbe9 256.5px 257.5px,#e8d4e6 257.5px 258.5px,#ecdbee 258.5px 259.5px,#e9dcef 259.5px 260.5px,#f6e4f1 260.5px 261.5px,#fae7f5 261.5px 262.5px,#ebdaee 262.5px 263.5px,#e2cedf 263.5px 264.5px,#e5d4e6 264.5px 265.5px,#fff1ff 265.5px 266.5px,#f6e8f1 266.5px 267.5px,#f4e7f1 267.5px 268.5px,#f4e6f1 268.5px 269.5px,#ece2ee 269.5px 270.6px,#f4eefe 270.6px 271.6px,#faf6ff 271.6px 272.6px,#ddd5ea 272.6px 273.6px,#f1e2f7 273.6px 274.6px,#e5ccdb 274.6px 275.6px,#fddee6 275.6px 276.6px,#f2d4db 276.6px 277.6px,#ffe7f1 277.6px 278.6px,#e5d5e4 278.6px 279.6px,#f1e8f9 279.6px 280.6px,#ede7f6 280.6px 281.6px,#faf4ff 281.6px 282.6px,#f4e9f6 282.6px 283.6px,#f1e5f8 283.6px 284.6px,#decfe4 284.6px 285.6px,#ead5e7 285.6px 286.6px,#f0dcea 286.6px 287.6px,#f9e2e8 287.6px 288.6px,#ffedf4 288.6px 289.6px,#f5e5f1 289.6px 290.6px,#e6d6e5 290.6px 291.6px,#ebdeee 291.6px 292.6px,#f5eafb 292.6px 293.6px,#faefff 293.6px 294.6px,#d5cce1 294.6px 295.6px,#f5efff 295.6px 296.6px,#cdc9f2 296.6px 297.6px)"></div><div style="position:absolute;left:47.2px;top:326.49px;width:297.60px;height:10.72px;background:linear-gradient(90deg,#ffe8e8 0.0px 1.0px,#f4dbdb 1.0px 2.0px,#fee8e8 2.0px 3.0px,#fff4f4 3.0px 4.0px,#fff1f1 4.0px 5.0px,#feeff1 5.0px 6.0px,#fbeaec 6.0px 7.0px,#ffecee 7.0px 8.0px,#f7e2e4 8.0px 9.0px,#ffeff0 9.0px 10.0px,#fbe3e3 10.0px 11.0px,#fbe2e3 11.0px 12.0px,#ffe7e8 12.0px 13.1px,#ffe6e7 13.1px 14.1px,#ffe9ea 14.1px 15.1px,#f6dbdb 15.1px 16.1px,#fde2e3 16.1px 17.1px,#ffedee 17.1px 18.1px,#f8e0e0 18.1px 19.1px,#f8e2e3 19.1px 20.1px,#fff2f2 20.1px 21.1px,#fff3f4 21.1px 22.1px,#f7e5e6 22.1px 23.1px,#fae6e7 23.1px 24.1px,#fff0f4 24.1px 25.1px,#f2e4eb 25.1px 26.1px,#f5eaf4 26.1px 27.1px,#f3eaf7 27.1px 28.1px,#f4e8f7 28.1px 29.1px,#f3e2f3 29.1px 30.1px,#d9c5d6 30.1px 31.1px,#f8e3f6 31.1px 32.1px,#e5d4e6 32.1px 33.1px,#f2e4f4 33.1px 34.1px,#f3e5f2 34.1px 35.1px,#fbe9f1 35.1px 36.1px,#f3e0ea 36.1px 37.1px,#f5e5f4 37.1px 38.1px,#e5d9ea 38.1px 39.1px,#eae0f3 39.1px 40.1px,#f3eafa 40.1px 41.1px,#f1e8f8 41.1px 42.1px,#f5efff 42.1px 43.1px,#d7d4ee 43.1px 44.1px,#deddfa 44.1px 45.1px,#eee9ff 45.1px 46.1px,#f1e7f7 46.1px 47.1px,#f6e9f8 47.1px 48.1px,#e5d5e1 48.1px 49.1px,#faeaf4 49.1px 50.1px,#f8e8f1 50.1px 51.1px,#ffeff8 51.1px 52.1px,#e4d1dc 52.1px 53.2px,#eedeef 53.2px 54.2px,#f0e2f6 54.2px 55.2px,#eadaeb 55.2px 56.2px,#efe0f3 56.2px 57.2px,#efe1f8 57.2px 58.2px,#d8cae1 58.2px 59.2px,#ece1fb 59.2px 60.2px,#e5dcf3 60.2px 61.2px,#ede1f4 61.2px 62.2px,#f4e4f6 62.2px 63.2px,#e8d8ec 63.2px 64.2px,#e7d7ec 64.2px 65.2px,#e0d2e3 65.2px 66.2px,#fcf4ff 66.2px 67.2px,#fbf5ff 67.2px 68.2px,#f4ebf5 68.2px 69.2px,#eee2ee 69.2px 70.2px,#eee0ed 70.2px 71.2px,#fcebf4 71.2px 72.2px,#f1e2ec 72.2px 73.2px,#fdedf8 73.2px 74.2px,#eadae6 74.2px 75.2px,#eddff1 75.2px 76.2px,#f2e4f8 76.2px 77.2px,#ded3e5 77.2px 78.2px,#f2e9f9 78.2px 79.2px,#fdf3ff 79.2px 80.2px,#f0e5f2 80.2px 81.2px,#f5e0ee 81.2px 82.2px,#f2d1dd 82.2px 83.2px,#e0becc 83.2px 84.2px,#fad9ea 84.2px 85.2px,#e2c8d9 85.2px 86.2px,#f4e5f9 86.2px 87.2px,#eadbe8 87.2px 88.2px,#ffeff5 88.2px 89.2px,#fce5ef 89.2px 90.2px,#eed9e8 90.2px 91.2px,#d9c3d4 91.2px 92.2px,#fde7f7 92.2px 93.2px,#f3d9e4 93.2px 94.2px,#ffe0e3 94.2px 95.2px,#f2d5d6 95.2px 96.2px,#ffeef2 96.2px 97.2px,#faeaf0 97.2px 98.2px,#f4eaf2 98.2px 99.2px,#f9f3ff 99.2px 100.2px,#ece6f5 100.2px 101.2px,#f0e9f5 101.2px 102.2px,#f4ebf5 102.2px 103.2px,#fef3ff 103.2px 104.2px,#efe6fc 104.2px 105.2px,#d1c8e4 105.2px 106.2px,#dcd0ed 106.2px 107.3px,#eddffa 107.3px 108.3px,#efdff4 108.3px 109.3px,#e4d0e0 109.3px 110.3px,#f4e2f0 110.3px 111.3px,#f5e1e9 111.3px 112.3px,#ffeef3 112.3px 113.3px,#f4e7f5 113.3px 114.3px,#f4e7fd 114.3px 115.3px,#ccbed3 115.3px 116.3px,#f1e3f9 116.3px 117.3px,#f6e6f6 117.3px 118.3px,#f6e5ef 118.3px 119.3px,#f2e4f3 119.3px 120.3px,#e8daed 120.3px 121.3px,#eedef2 121.3px 122.3px,#e5d4ea 122.3px 123.3px,#f3dbef 123.3px 124.3px,#edcddc 124.3px 125.3px,#e0c2cd 125.3px 126.3px,#ffe6ef 126.3px 127.3px,#ffedf5 127.3px 128.3px,#f4e1ec 128.3px 129.3px,#eddbee 129.3px 130.3px,#dfcce2 130.3px 131.3px,#e6d1e6 131.3px 132.3px,#f1dff1 132.3px 133.3px,#f3dee8 133.3px 134.3px,#ffebf0 134.3px 135.3px,#eddce1 135.3px 136.3px,#fff0f4 136.3px 137.3px,#ffeff4 137.3px 138.3px,#f8e3ea 138.3px 139.3px,#e6d0da 139.3px 140.3px,#fbe7fa 140.3px 141.3px,#ebd9f4 141.3px 142.3px,#cfc0e3 142.3px 143.3px,#cabde3 143.3px 144.3px,#e4d7f9 144.3px 145.3px,#e8dcf5 145.3px 146.3px,#eee4f5 146.3px 147.3px,#faf0ff 147.3px 148.3px,#eae0ee 148.3px 149.3px,#f0e6f6 149.3px 150.3px,#f5e7f8 150.3px 151.3px,#f0dcec 151.3px 152.3px,#ddc9db 152.3px 153.3px,#f1dbeb 153.3px 154.3px,#fee6f3 154.3px 155.3px,#f3d9e1 155.3px 156.3px,#f5d8dd 156.3px 157.3px,#f9dfe8 157.3px 158.3px,#fce7f6 158.3px 159.3px,#dac9d8 159.3px 160.3px,#f7e9fa 160.3px 161.4px,#f5e8f5 161.4px 162.4px,#f1e5ed 162.4px 163.4px,#faf4fc 163.4px 164.4px,#f9f5ff 164.4px 165.4px,#f7f2ff 165.4px 166.4px,#d5d0e7 166.4px 167.4px,#e7e0fc 167.4px 168.4px,#e3d7ec 168.4px 169.4px,#f9e6f3 169.4px 170.4px,#ffe8ee 170.4px 171.4px,#f1d6da 171.4px 172.4px,#ffe8f1 172.4px 173.4px,#e8d5e5 173.4px 174.4px,#e6daf1 174.4px 175.4px,#e8dfff 175.4px 176.4px,#d4ceef 176.4px 177.4px,#d8d1ef 177.4px 178.4px,#eee6ff 178.4px 179.4px,#f7ebfc 179.4px 180.4px,#f0e2ef 180.4px 181.4px,#e9dce8 181.4px 182.4px,#f9edf6 182.4px 183.4px,#fcf5ff 183.4px 184.4px,#f9f6ff 184.4px 185.4px,#e5e3f7 185.4px 186.4px,#e9e4fb 186.4px 187.4px,#e4dbed 187.4px 188.4px,#efe3f0 188.4px 189.4px,#fff5fe 189.4px 190.4px,#fbecf4 190.4px 191.4px,#efdee8 191.4px 192.4px,#ebdae6 192.4px 193.4px,#f6e7f4 193.4px 194.4px,#f1e7f6 194.4px 195.4px,#f4ebfd 195.4px 196.4px,#e7daec 196.4px 197.4px,#e9d9ea 197.4px 198.4px,#f7e2ed 198.4px 199.4px,#f7e1eb 199.4px 200.4px,#f7e2ec 200.4px 201.4px,#f6dae1 201.4px 202.4px,#fde0e9 202.4px 203.4px,#ead1df 203.4px 204.4px,#ebd5e7 204.4px 205.4px,#e4d7ee 205.4px 206.4px,#ede2f9 206.4px 207.4px,#f4e5f8 207.4px 208.4px,#dfd1e0 208.4px 209.4px,#f9eaf6 209.4px 210.4px,#fdf1fd 210.4px 211.4px,#eae4ef 211.4px 212.4px,#f9f3ff 212.4px 213.4px,#f2e8f8 213.4px 214.4px,#eddaea 214.4px 215.4px,#e9d4e5 215.4px 216.5px,#e7d2e1 216.5px 217.5px,#faebfa 217.5px 218.5px,#f5edfe 218.5px 219.5px,#ece2f0 219.5px 220.5px,#efe0ed 220.5px 221.5px,#f2e2f4 221.5px 222.5px,#eee0f8 222.5px 223.5px,#c6bdd9 223.5px 224.5px,#f4f1ff 224.5px 225.5px,#dddcfd 225.5px 226.5px,#e5e4ff 226.5px 227.5px,#c5c4ec 227.5px 228.5px,#e0dfff 228.5px 229.5px,#cecae7 229.5px 230.5px,#fef4ff 230.5px 231.5px,#f5e9f9 231.5px 232.5px,#ebd8e4 232.5px 233.5px,#f5def0 233.5px 234.5px,#e1cde5 234.5px 235.5px,#d5c2d6 235.5px 236.5px,#f9ecff 236.5px 237.5px,#f4eefa 237.5px 238.5px,#fdf9ff 238.5px 239.5px,#fbfaff 239.5px 240.5px,#dbdaf2 240.5px 241.5px,#e3e2ff 241.5px 242.5px,#cecceb 242.5px 243.5px,#f3f0ff 243.5px 244.5px,#e0daf4 244.5px 245.5px,#e8dcef 245.5px 246.5px,#efe1f4 246.5px 247.5px,#f3e3f3 247.5px 248.5px,#ebd7e3 248.5px 249.5px,#efdeea 249.5px 250.5px,#fce8f2 250.5px 251.5px,#ffe9f0 251.5px 252.5px,#eacbd1 252.5px 253.5px,#fbd6da 253.5px 254.5px,#f9d3d5 254.5px 255.5px,#ffe2e5 255.5px 256.5px,#f8dfe4 256.5px 257.5px,#ffe7ee 257.5px 258.5px,#fadee6 258.5px 259.5px,#e1c5cf 259.5px 260.5px,#fde3ee 260.5px 261.5px,#f2dee7 261.5px 262.5px,#f7e9f0 262.5px 263.5px,#fff7fd 263.5px 264.5px,#faeef3 264.5px 265.5px,#f7ebf2 265.5px 266.5px,#eee3f0 266.5px 267.5px,#f3eafe 267.5px 268.5px,#dfd5ea 268.5px 269.5px,#eae0f3 269.5px 270.6px,#ede4f9 270.6px 271.6px,#fbf1ff 271.6px 272.6px,#cfc7db 272.6px 273.6px,#f0e8fc 273.6px 274.6px,#fef0fc 274.6px 275.6px,#f9e8ec 275.6px 276.6px,#f8e6eb 276.6px 277.6px,#fae7ef 277.6px 278.6px,#f4e1ea 278.6px 279.6px,#f5e3ec 279.6px 280.6px,#f2e2ec 280.6px 281.6px,#f3e6f0 281.6px 282.6px,#fdf0fc 282.6px 283.6px,#f5e8f4 283.6px 284.6px,#eed7e1 284.6px 285.6px,#ffd9e2 285.6px 286.6px,#f2c4cd 286.6px 287.6px,#e2b4bd 287.6px 288.6px,#fdd1da 288.6px 289.6px,#fbd8e1 289.6px 290.6px,#ffe2e9 290.6px 291.6px,#eccfd5 291.6px 292.6px,#ffe7f3 292.6px 293.6px,#ebd6ea 293.6px 294.6px,#dac9e2 294.6px 295.6px,#e4d8f8 295.6px 296.6px,#dbd4f7 296.6px 297.6px)"></div><div style="position:absolute;left:47.2px;top:337.16px;width:297.60px;height:10.72px;background:linear-gradient(90deg,#ffecec 0.0px 1.0px,#f7e0e1 1.0px 2.0px,#f9e4e5 2.0px 3.0px,#fff2f3 3.0px 4.0px,#fceeef 4.0px 5.0px,#fff5f5 5.0px 6.0px,#feebeb 6.0px 7.0px,#fdeaeb 7.0px 8.0px,#f7e4e6 8.0px 9.0px,#fff1f3 9.0px 10.0px,#fae8ea 10.0px 11.0px,#fff1f2 11.0px 12.0px,#f2dddd 12.0px 13.1px,#feebec 13.1px 14.1px,#fff8f8 14.1px 15.1px,#fef0f1 15.1px 16.1px,#faebed 16.1px 17.1px,#ffeff1 17.1px 18.1px,#f6e6e8 18.1px 19.1px,#fbeff3 19.1px 20.1px,#fdf4f8 20.1px 21.1px,#fffafe 21.1px 22.1px,#f8f1f6 22.1px 23.1px,#f9f1fa 23.1px 24.1px,#f3eafd 24.1px 25.1px,#dbd3ee 25.1px 26.1px,#d4cef1 26.1px 27.1px,#ddd8fb 27.1px 28.1px,#ddd7f2 28.1px 29.1px,#f4ecff 29.1px 30.1px,#f2e6f2 30.1px 31.1px,#feedf7 31.1px 32.1px,#f2dae4 32.1px 33.1px,#f3d6e1 33.1px 34.1px,#e4c8d5 34.1px 35.1px,#ffe5f2 35.1px 36.1px,#e4d0dd 36.1px 37.1px,#f9ebfa 37.1px 38.1px,#f5e9fa 38.1px 39.1px,#e9d8e7 39.1px 40.1px,#f5dfee 40.1px 41.1px,#e3cee1 41.1px 42.1px,#f1def4 42.1px 43.1px,#d6cce8 43.1px 44.1px,#efeaff 44.1px 45.1px,#d4c9e4 45.1px 46.1px,#eedef4 46.1px 47.1px,#ecd9e9 47.1px 48.1px,#f7e2eb 48.1px 49.1px,#ffecf3 49.1px 50.1px,#f7e5eb 50.1px 51.1px,#f3dee3 51.1px 52.1px,#ffeff5 52.1px 53.2px,#e9d8e5 53.2px 54.2px,#f6e8fa 54.2px 55.2px,#d4cbdf 55.2px 56.2px,#faf6ff 56.2px 57.2px,#eee3f4 57.2px 58.2px,#f6e6f1 58.2px 59.2px,#eadae6 59.2px 60.2px,#fbebf6 60.2px 61.2px,#e9dfeb 61.2px 62.2px,#fff6ff 62.2px 63.2px,#f8e9f3 63.2px 64.2px,#ecd8e0 64.2px 65.2px,#fce3eb 65.2px 66.2px,#efdbe7 66.2px 67.2px,#f2e3f9 67.2px 68.2px,#e3d7f2 68.2px 69.2px,#d4c9e3 69.2px 70.2px,#eaddf3 70.2px 71.2px,#feebf9 71.2px 72.2px,#f9e4ee 72.2px 73.2px,#f5dbe6 73.2px 74.2px,#e9ccda 74.2px 75.2px,#ecd2e5 75.2px 76.2px,#e5cde1 76.2px 77.2px,#ecdcf2 77.2px 78.2px,#e9dff4 78.2px 79.2px,#f3eafc 79.2px 80.2px,#ebe6f5 80.2px 81.2px,#f5f1ff 81.2px 82.2px,#f5eaf6 82.2px 83.2px,#faeaf3 83.2px 84.2px,#e6d7de 84.2px 85.2px,#fff4fd 85.2px 86.2px,#fceffa 86.2px 87.2px,#ebdae4 87.2px 88.2px,#ffe2eb 88.2px 89.2px,#eeccd3 89.2px 90.2px,#f3d1d9 90.2px 91.2px,#f9dde8 91.2px 92.2px,#ead7e6 92.2px 93.2px,#fce8f7 93.2px 94.2px,#edd3dc 94.2px 95.2px,#fcdce4 95.2px 96.2px,#f5d2d9 96.2px 97.2px,#f1d2da 97.2px 98.2px,#f6e0ed 98.2px 99.2px,#efe3f4 99.2px 100.2px,#ece4f7 100.2px 101.2px,#ede5f7 101.2px 102.2px,#eee5f5 102.2px 103.2px,#f4eafa 103.2px 104.2px,#ede5f5 104.2px 105.2px,#e9e1f2 105.2px 106.2px,#f8eefe 106.2px 107.3px,#eee2ef 107.3px 108.3px,#efe1eb 108.3px 109.3px,#feeaf3 109.3px 110.3px,#ffe5ec 110.3px 111.3px,#f3d4de 111.3px 112.3px,#dfc3d3 112.3px 113.3px,#edd6ea 113.3px 114.3px,#f6e6fd 114.3px 115.3px,#e1d1e5 115.3px 116.3px,#f3dcf0 116.3px 117.3px,#e8d3ec 117.3px 118.3px,#d6c5dd 118.3px 119.3px,#e1d7f3 119.3px 120.3px,#f3efff 120.3px 121.3px,#e2def8 121.3px 122.3px,#e6e2ff 122.3px 123.3px,#d3c8e9 123.3px 124.3px,#dfcee8 124.3px 125.3px,#ead3e5 125.3px 126.3px,#ffe8f1 126.3px 127.3px,#f3dbe1 127.3px 128.3px,#fde8f1 128.3px 129.3px,#efdff4 129.3px 130.3px,#e5d6f3 130.3px 131.3px,#c8bad7 131.3px 132.3px,#e7daf5 132.3px 133.3px,#fde8f7 133.3px 134.3px,#fcdfe5 134.3px 135.3px,#f5d7db 135.3px 136.3px,#efd2d4 136.3px 137.3px,#fff4f6 137.3px 138.3px,#fbeef3 138.3px 139.3px,#faf3fa 139.3px 140.3px,#f8f2fe 140.3px 141.3px,#e7e2f0 141.3px 142.3px,#f3efff 142.3px 143.3px,#e8e4ff 143.3px 144.3px,#cec7e4 144.3px 145.3px,#ebdcf7 145.3px 146.3px,#ecd8eb 146.3px 147.3px,#eedae4 147.3px 148.3px,#feecf2 148.3px 149.3px,#fff1f5 149.3px 150.3px,#fdf1f4 150.3px 151.3px,#f6e8eb 151.3px 152.3px,#fff2fa 152.3px 153.3px,#f2dee7 153.3px 154.3px,#fee2eb 154.3px 155.3px,#e3c3ca 155.3px 156.3px,#ffe0e3 156.3px 157.3px,#fcd8dc 157.3px 158.3px,#efd7e1 158.3px 159.3px,#f0deef 159.3px 160.3px,#f0e3fa 160.3px 161.4px,#e3d6ed 161.4px 162.4px,#e2d1e2 162.4px 163.4px,#fee9f5 163.4px 164.4px,#f7e5f0 164.4px 165.4px,#f5e7f6 165.4px 166.4px,#dcd1e0 166.4px 167.4px,#fcf2ff 167.4px 168.4px,#f7ebf6 168.4px 169.4px,#f5e5ea 169.4px 170.4px,#ffeef4 170.4px 171.4px,#f2dde4 171.4px 172.4px,#f0dce6 172.4px 173.4px,#f8e7f6 173.4px 174.4px,#eedfef 174.4px 175.4px,#e7dced 175.4px 176.4px,#eae0f2 176.4px 177.4px,#fdf4ff 177.4px 178.4px,#e3ddef 178.4px 179.4px,#f6efff 179.4px 180.4px,#dad2e5 180.4px 181.4px,#f7eeff 181.4px 182.4px,#f0e3ef 182.4px 183.4px,#f7e8ef 183.4px 184.4px,#faebf0 184.4px 185.4px,#f7eaf0 185.4px 186.4px,#fff7ff 186.4px 187.4px,#e8e1f1 187.4px 188.4px,#ede6f7 188.4px 189.4px,#e8dfef 189.4px 190.4px,#fff0ff 190.4px 191.4px,#f3deec 191.4px 192.4px,#d9c5d8 192.4px 193.4px,#f1dcf1 193.4px 194.4px,#e7d5e8 194.4px 195.4px,#f0e0f1 195.4px 196.4px,#f7e3f0 196.4px 197.4px,#f3dfe9 197.4px 198.4px,#f4dfe9 198.4px 199.4px,#f8e7f5 199.4px 200.4px,#e7d9e9 200.4px 201.4px,#eddeeb 201.4px 202.4px,#f9eaf5 202.4px 203.4px,#f8e7ee 203.4px 204.4px,#ffedf3 204.4px 205.4px,#f1d7dd 205.4px 206.4px,#ffe5eb 206.4px 207.4px,#e7c8cf 207.4px 208.4px,#fde0ea 208.4px 209.4px,#efdbe9 209.4px 210.4px,#f1e4f3 210.4px 211.4px,#f4e6f3 211.4px 212.4px,#f5e7f5 212.4px 213.4px,#f4e5f4 213.4px 214.4px,#e2d1e0 214.4px 215.4px,#f2e4f5 215.4px 216.5px,#f0e3ef 216.5px 217.5px,#fbeef7 217.5px 218.5px,#f8ecf9 218.5px 219.5px,#f3e8f8 219.5px 220.5px,#dfd1e2 220.5px 221.5px,#f0e5fa 221.5px 222.5px,#efe7ff 222.5px 223.5px,#dcd5f1 223.5px 224.5px,#dfddff 224.5px 225.5px,#d4d4fa 225.5px 226.5px,#d8d7fe 226.5px 227.5px,#d8d7ff 227.5px 228.5px,#dcd6fd 228.5px 229.5px,#cfc5e3 229.5px 230.5px,#eaddf6 230.5px 231.5px,#ffecfb 231.5px 232.5px,#ead6e4 232.5px 233.5px,#eddbf2 233.5px 234.5px,#e6cfe7 234.5px 235.5px,#ddc4da 235.5px 236.5px,#e9cfe1 236.5px 237.5px,#fce2eb 237.5px 238.5px,#fce4eb 238.5px 239.5px,#ffebf6 239.5px 240.5px,#dbcbd9 240.5px 241.5px,#f6e8fb 241.5px 242.5px,#ebdff4 242.5px 243.5px,#e3daee 243.5px 244.5px,#f1e8fa 244.5px 245.5px,#f5e7f2 245.5px 246.5px,#fff0f8 246.5px 247.5px,#eedce3 247.5px 248.5px,#fae3e8 248.5px 249.5px,#ffe7ed 249.5px 250.5px,#f3dee5 250.5px 251.5px,#fbe7f5 251.5px 252.5px,#ebdbee 252.5px 253.5px,#dcccde 253.5px 254.5px,#fae8f7 254.5px 255.5px,#f1dee9 255.5px 256.5px,#ffedf7 256.5px 257.5px,#ecd5e2 257.5px 258.5px,#e7d1de 258.5px 259.5px,#f3dfed 259.5px 260.5px,#fff0fe 260.5px 261.5px,#e9cedb 261.5px 262.5px,#d8bfcd 262.5px 263.5px,#ffebf5 263.5px 264.5px,#f6e6ee 264.5px 265.5px,#fef5ff 265.5px 266.5px,#efe2ec 266.5px 267.5px,#f6e4ed 267.5px 268.5px,#f7e1e8 268.5px 269.5px,#f4dde5 269.5px 270.6px,#ffecff 270.6px 271.6px,#d5c9e2 271.6px 272.6px,#d6cdeb 272.6px 273.6px,#f1e7ff 273.6px 274.6px,#e4d7ed 274.6px 275.6px,#edddf0 275.6px 276.6px,#ecdbec 276.6px 277.6px,#e9deef 277.6px 278.6px,#f6eeff 278.6px 279.6px,#f4eafa 279.6px 280.6px,#e6dbe9 280.6px 281.6px,#f7e8f6 281.6px 282.6px,#efe0eb 282.6px 283.6px,#f5e9f4 283.6px 284.6px,#f9edf9 284.6px 285.6px,#f3e7f1 285.6px 286.6px,#ebdeea 286.6px 287.6px,#fff2fe 287.6px 288.6px,#e9d6df 288.6px 289.6px,#ffeaf2 289.6px 290.6px,#ebd8e0 290.6px 291.6px,#ffedf6 291.6px 292.6px,#f9e9f9 292.6px 293.6px,#d8cde0 293.6px 294.6px,#efe4f6 294.6px 295.6px,#eee8f7 295.6px 296.6px,#fcf8ff 296.6px 297.6px)"></div><div style="position:absolute;left:47.2px;top:347.83px;width:297.60px;height:10.72px;background:linear-gradient(90deg,#d3d3fa 0.0px 1.0px,#ddddff 1.0px 2.0px,#e3e3ff 2.0px 3.0px,#d0d0f6 3.0px 4.0px,#d5d5fd 4.0px 5.0px,#dadaff 5.0px 6.0px,#dedeff 6.0px 7.0px,#d4d4f7 7.0px 8.0px,#e3e3ff 8.0px 9.0px,#d7d7fa 9.0px 10.0px,#e6e6ff 10.0px 11.0px,#cfcff2 11.0px 12.0px,#e7e7ff 12.0px 13.1px,#d2d2f4 13.1px 14.1px,#e5e5ff 14.1px 15.1px,#dcdcfa 15.1px 16.1px,#e5e5ff 16.1px 17.1px,#e3e3ff 17.1px 18.1px,#d5d5f6 18.1px 19.1px,#e4e4ff 19.1px 20.1px,#d1d1fa 20.1px 21.1px,#c9c9f3 21.1px 22.1px,#dfdfff 22.1px 23.1px,#cdcdfd 23.1px 24.1px,#c6c2ef 24.1px 25.1px,#d4cdf3 25.1px 26.1px,#f1e6ff 26.1px 27.1px,#eedded 27.1px 28.1px,#f3e1ed 28.1px 29.1px,#f5e2ed 29.1px 30.1px,#f3e1eb 30.1px 31.1px,#f6e5ef 31.1px 32.1px,#fbe9f0 32.1px 33.1px,#f1e1e8 33.1px 34.1px,#f9ebf3 34.1px 35.1px,#f9eff7 35.1px 36.1px,#faf3fc 36.1px 37.1px,#f1eaf5 37.1px 38.1px,#faf1fe 38.1px 39.1px,#e6d9e6 39.1px 40.1px,#ffe9f5 40.1px 41.1px,#f9dae2 41.1px 42.1px,#e1c1cb 42.1px 43.1px,#fde2f2 43.1px 44.1px,#dfd0e6 44.1px 45.1px,#e6e2ff 45.1px 46.1px,#e4e0fe 46.1px 47.1px,#dedaf6 47.1px 48.1px,#e9dff8 48.1px 49.1px,#ead9f0 49.1px 50.1px,#e7d6ed 50.1px 51.1px,#dfccde 51.1px 52.1px,#f9e6f4 52.1px 53.2px,#fbebf9 53.2px 54.2px,#f5e3f0 54.2px 55.2px,#e5cdd9 55.2px 56.2px,#f0d9e7 56.2px 57.2px,#fde6f1 57.2px 58.2px,#efd9df 58.2px 59.2px,#fceaf2 59.2px 60.2px,#feedf7 60.2px 61.2px,#f1e0eb 61.2px 62.2px,#f1deed 62.2px 63.2px,#ead8e9 63.2px 64.2px,#e4d1e0 64.2px 65.2px,#fff0ff 65.2px 66.2px,#eadcee 66.2px 67.2px,#e2d2e2 67.2px 68.2px,#f0e1f2 68.2px 69.2px,#f8eaf5 69.2px 70.2px,#fbecf2 70.2px 71.2px,#fbebf2 71.2px 72.2px,#f4e2e9 72.2px 73.2px,#fde6ec 73.2px 74.2px,#f5e0e9 74.2px 75.2px,#efdde9 75.2px 76.2px,#eedeeb 76.2px 77.2px,#f3e9f7 77.2px 78.2px,#f5eeff 78.2px 79.2px,#f3e9fd 79.2px 80.2px,#dad0e7 80.2px 81.2px,#dfd5ee 81.2px 82.2px,#f3e5fb 82.2px 83.2px,#eadef8 83.2px 84.2px,#e1d8f9 84.2px 85.2px,#c9c1e3 85.2px 86.2px,#e1dafd 86.2px 87.2px,#e6def9 87.2px 88.2px,#e8dbeb 88.2px 89.2px,#feeffe 89.2px 90.2px,#efdff0 90.2px 91.2px,#decede 91.2px 92.2px,#f1dfee 92.2px 93.2px,#fff1fa 93.2px 94.2px,#eccccf 94.2px 95.2px,#fddce0 95.2px 96.2px,#edd3d8 96.2px 97.2px,#fff4fa 97.2px 98.2px,#fff3fa 98.2px 99.2px,#f2e2ed 99.2px 100.2px,#e3d1e2 100.2px 101.2px,#e3d4e9 101.2px 102.2px,#f1e6fd 102.2px 103.2px,#ebe3f7 103.2px 104.2px,#e9e2f6 104.2px 105.2px,#f0e9fc 105.2px 106.2px,#e5def0 106.2px 107.3px,#f1eeff 107.3px 108.3px,#f2ebff 108.3px 109.3px,#dbd0e3 109.3px 110.3px,#f3e3f7 110.3px 111.3px,#f4dff0 111.3px 112.3px,#e2cedf 112.3px 113.3px,#efdef5 113.3px 114.3px,#eadaf3 114.3px 115.3px,#e0cde4 115.3px 116.3px,#e9d2e7 116.3px 117.3px,#eed8eb 117.3px 118.3px,#efdbea 118.3px 119.3px,#f3e3f2 119.3px 120.3px,#eadeea 120.3px 121.3px,#fff2fb 121.3px 122.3px,#fceff9 122.3px 123.3px,#eee1eb 123.3px 124.3px,#efdfe9 124.3px 125.3px,#fce9f2 125.3px 126.3px,#fbe8f2 126.3px 127.3px,#eadbe9 127.3px 128.3px,#e4daee 128.3px 129.3px,#f1edff 129.3px 130.3px,#dfdbf9 130.3px 131.3px,#cec7e1 131.3px 132.3px,#f9ebff 132.3px 133.3px,#f9e3f0 133.3px 134.3px,#e8d3db 134.3px 135.3px,#fce7f0 135.3px 136.3px,#fae3ec 136.3px 137.3px,#ffe3ea 137.3px 138.3px,#e3c5cd 138.3px 139.3px,#fae0ef 139.3px 140.3px,#e4d5e9 140.3px 141.3px,#e4e1fc 141.3px 142.3px,#eceaff 142.3px 143.3px,#dddbf2 143.3px 144.3px,#eae7fb 144.3px 145.3px,#f9f3ff 145.3px 146.3px,#ede4f7 146.3px 147.3px,#dfd4eb 147.3px 148.3px,#e3d6ec 148.3px 149.3px,#eee1f1 149.3px 150.3px,#faeff9 150.3px 151.3px,#fef4fa 151.3px 152.3px,#f9f1fa 152.3px 153.3px,#f5e9f6 153.3px 154.3px,#ecdae7 154.3px 155.3px,#e7d3de 155.3px 156.3px,#ffebf0 156.3px 157.3px,#fae3e6 157.3px 158.3px,#f8e7ee 158.3px 159.3px,#faebf7 159.3px 160.3px,#ebdfee 160.3px 161.4px,#efe4f3 161.4px 162.4px,#ede2ee 162.4px 163.4px,#fff1fb 163.4px 164.4px,#ffeef9 164.4px 165.4px,#e0cddb 165.4px 166.4px,#e3cfe1 166.4px 167.4px,#f7e4f7 167.4px 168.4px,#ecdcec 168.4px 169.4px,#f2e1ec 169.4px 170.4px,#fdeaf0 170.4px 171.4px,#fae9ee 171.4px 172.4px,#fdeff8 172.4px 173.4px,#eae0ed 173.4px 174.4px,#f2eafa 174.4px 175.4px,#e9e1ef 175.4px 176.4px,#fbf2fe 176.4px 177.4px,#f2e7ef 177.4px 178.4px,#fff6fa 178.4px 179.4px,#faebee 179.4px 180.4px,#fbe9ef 180.4px 181.4px,#fbe8f1 181.4px 182.4px,#e5d3dc 182.4px 183.4px,#f6e7f1 183.4px 184.4px,#fef0f7 184.4px 185.4px,#fdf2f9 185.4px 186.4px,#fcf2ff 186.4px 187.4px,#e0d3e1 187.4px 188.4px,#e8dbec 188.4px 189.4px,#faedfe 189.4px 190.4px,#eadde6 190.4px 191.4px,#fff6ff 191.4px 192.4px,#f3e8f3 192.4px 193.4px,#faeefe 193.4px 194.4px,#d6cde5 194.4px 195.4px,#e9e0ff 195.4px 196.4px,#dbcfef 196.4px 197.4px,#ddd0ed 197.4px 198.4px,#e0d0e6 198.4px 199.4px,#f7eafb 199.4px 200.4px,#f7ebf9 200.4px 201.4px,#f2e4ed 201.4px 202.4px,#f1e4ec 202.4px 203.4px,#fff4fd 203.4px 204.4px,#f7e9f4 204.4px 205.4px,#eadcec 205.4px 206.4px,#ede0f4 206.4px 207.4px,#ddd3e9 207.4px 208.4px,#f9f3ff 208.4px 209.4px,#dad6ef 209.4px 210.4px,#e6e0f7 210.4px 211.4px,#eae1f2 211.4px 212.4px,#f7ecfb 212.4px 213.4px,#faf1ff 213.4px 214.4px,#dad2e2 214.4px 215.4px,#feefff 215.4px 216.5px,#edd7e6 216.5px 217.5px,#e9d0db 217.5px 218.5px,#f4dce8 218.5px 219.5px,#fbe8f4 219.5px 220.5px,#f1dfea 220.5px 221.5px,#f2e0ed 221.5px 222.5px,#f4e4f5 222.5px 223.5px,#e3d6ea 223.5px 224.5px,#e6e0fc 224.5px 225.5px,#e0ddfe 225.5px 226.5px,#dedcfc 226.5px 227.5px,#d2d1f0 227.5px 228.5px,#f2efff 228.5px 229.5px,#eae1f5 229.5px 230.5px,#f1e1ee 230.5px 231.5px,#f4dce5 231.5px 232.5px,#f7dde3 232.5px 233.5px,#f3deea 233.5px 234.5px,#fbebfb 234.5px 235.5px,#ddd0e2 235.5px 236.5px,#f6e5f7 236.5px 237.5px,#f3dbe8 237.5px 238.5px,#e7d0dd 238.5px 239.5px,#fae4f4 239.5px 240.5px,#e6d8ee 240.5px 241.5px,#e9e3ff 241.5px 242.5px,#d3cfec 242.5px 243.5px,#eceaff 243.5px 244.5px,#e7e2f6 244.5px 245.5px,#fef4ff 245.5px 246.5px,#f3e6ed 246.5px 247.5px,#f7e9ef 247.5px 248.5px,#faeffc 248.5px 249.5px,#ece6fc 249.5px 250.5px,#d9d1e8 250.5px 251.5px,#f0e1f4 251.5px 252.5px,#f4e0ed 252.5px 253.5px,#ffe1e7 253.5px 254.5px,#ffd8dc 254.5px 255.5px,#deacb3 255.5px 256.5px,#e7bac1 256.5px 257.5px,#ffe3e8 257.5px 258.5px,#fff2f9 258.5px 259.5px,#d5c1c8 259.5px 260.5px,#ffe4ea 260.5px 261.5px,#fff3f9 261.5px 262.5px,#dcc5cc 262.5px 263.5px,#ffe7f0 263.5px 264.5px,#f2dbe9 264.5px 265.5px,#eed9e9 265.5px 266.5px,#ebd2e0 266.5px 267.5px,#eed7e6 267.5px 268.5px,#ffebf7 268.5px 269.5px,#e8d3e0 269.5px 270.6px,#ebdcf5 270.6px 271.6px,#e7daf9 271.6px 272.6px,#cbc3e2 272.6px 273.6px,#e2dcf8 273.6px 274.6px,#fef4ff 274.6px 275.6px,#f2e5ef 275.6px 276.6px,#f3e4ed 276.6px 277.6px,#f3e6f5 277.6px 278.6px,#f3e5f7 278.6px 279.6px,#e4d2e6 279.6px 280.6px,#e7d3e7 280.6px 281.6px,#eed5e4 281.6px 282.6px,#f4dee9 282.6px 283.6px,#fdeaf2 283.6px 284.6px,#f5e5ec 284.6px 285.6px,#feebf2 285.6px 286.6px,#fce2e7 286.6px 287.6px,#ecd3d9 287.6px 288.6px,#f9e0e7 288.6px 289.6px,#ffeaf0 289.6px 290.6px,#f1e0e8 290.6px 291.6px,#f9e7f0 291.6px 292.6px,#f8e5ef 292.6px 293.6px,#e7dae7 293.6px 294.6px,#f6edff 294.6px 295.6px,#f0ebff 295.6px 296.6px,#d4d4f5 296.6px 297.6px)"></div><div style="position:absolute;left:47.2px;top:358.50px;width:297.60px;height:10.72px;background:linear-gradient(90deg,#ffd5d5 0.0px 1.0px,#f7caca 1.0px 2.0px,#f9cdcd 2.0px 3.0px,#ffe4e4 3.0px 4.0px,#f4cccc 4.0px 5.0px,#ffdcdc 5.0px 6.0px,#fbd0d0 6.0px 7.0px,#fdd4d4 7.0px 8.0px,#ffd7d7 8.0px 9.0px,#ffe1e1 9.0px 10.0px,#f5cdcd 10.0px 11.0px,#ffd9d9 11.0px 12.0px,#fad0d0 12.0px 13.1px,#ffdada 13.1px 14.1px,#ffd7d7 14.1px 15.1px,#fecfcf 15.1px 16.1px,#f6c6c6 16.1px 17.1px,#ffd3d3 17.1px 18.1px,#ffd5d5 18.1px 19.1px,#fcd7d7 19.1px 20.1px,#ffe3e3 20.1px 21.1px,#ffe0e0 21.1px 22.1px,#ffe3e3 22.1px 23.1px,#f4d6dc 23.1px 24.1px,#f6deec 24.1px 25.1px,#e0cfe5 25.1px 26.1px,#e6dffe 26.1px 27.1px,#dfd8f7 27.1px 28.1px,#e3d3e9 28.1px 29.1px,#fae3f1 29.1px 30.1px,#e8d0da 30.1px 31.1px,#ffedf7 31.1px 32.1px,#f1dde8 32.1px 33.1px,#eadae8 33.1px 34.1px,#f4e3f0 34.1px 35.1px,#f6e4ec 35.1px 36.1px,#fbecf3 36.1px 37.1px,#f9ecf1 37.1px 38.1px,#fbeff4 38.1px 39.1px,#fbf1f8 39.1px 40.1px,#fbf1f9 40.1px 41.1px,#f0e4f0 41.1px 42.1px,#efe4f3 42.1px 43.1px,#e2d8e9 43.1px 44.1px,#fbf6ff 44.1px 45.1px,#dbdaf5 45.1px 46.1px,#dcdaf5 46.1px 47.1px,#eae8ff 47.1px 48.1px,#efeaff 48.1px 49.1px,#f2e7f7 49.1px 50.1px,#eadce7 50.1px 51.1px,#f9e7ee 51.1px 52.1px,#ffecef 52.1px 53.2px,#ffe5e6 53.2px 54.2px,#f3d6d7 54.2px 55.2px,#ffe9ea 55.2px 56.2px,#f3dadf 56.2px 57.2px,#fee8f2 57.2px 58.2px,#ebd5df 58.2px 59.2px,#f6e0ea 59.2px 60.2px,#ffe6ef 60.2px 61.2px,#efd5de 61.2px 62.2px,#e7d0d8 62.2px 63.2px,#fff4ff 63.2px 64.2px,#f0dfeb 64.2px 65.2px,#f1dfe9 65.2px 66.2px,#ecdeeb 66.2px 67.2px,#f8edfa 67.2px 68.2px,#f7ecf8 68.2px 69.2px,#f0e4ee 69.2px 70.2px,#fae7ef 70.2px 71.2px,#f9e0e4 71.2px 72.2px,#f9e0e2 72.2px 73.2px,#fde5e6 73.2px 74.2px,#fff0f5 74.2px 75.2px,#efdfea 75.2px 76.2px,#e8dae8 76.2px 77.2px,#f0e6f7 77.2px 78.2px,#f1e9fb 78.2px 79.2px,#f1e7fa 79.2px 80.2px,#e6ddf3 80.2px 81.2px,#e3d7ec 81.2px 82.2px,#f7e6f6 82.2px 83.2px,#ecdceb 83.2px 84.2px,#faebfd 84.2px 85.2px,#d8cde3 85.2px 86.2px,#e5e2ff 86.2px 87.2px,#efe7ff 87.2px 88.2px,#e2d3e8 88.2px 89.2px,#e1d2e7 89.2px 90.2px,#f3e4f7 90.2px 91.2px,#f4e8fa 91.2px 92.2px,#eadced 92.2px 93.2px,#f1dae6 93.2px 94.2px,#fadde9 94.2px 95.2px,#f1d6e5 95.2px 96.2px,#e0cbdc 96.2px 97.2px,#f1e1f5 97.2px 98.2px,#f2e4f4 98.2px 99.2px,#ecdde6 99.2px 100.2px,#fff2f8 100.2px 101.2px,#fcedf0 101.2px 102.2px,#f6eaed 102.2px 103.2px,#fff7fd 103.2px 104.2px,#fbf6ff 104.2px 105.2px,#e9e4ee 105.2px 106.2px,#f6f0fb 106.2px 107.3px,#f6eff9 107.3px 108.3px,#fdf6fe 108.3px 109.3px,#eee7f2 109.3px 110.3px,#f9f1fc 110.3px 111.3px,#f3e7f1 111.3px 112.3px,#f3e4ee 112.3px 113.3px,#fdeaf4 113.3px 114.3px,#e8d2da 114.3px 115.3px,#ffecf2 115.3px 116.3px,#f6d4d8 116.3px 117.3px,#f4d2d7 117.3px 118.3px,#fddce2 118.3px 119.3px,#f0d8e1 119.3px 120.3px,#fae9f4 120.3px 121.3px,#f6e7f0 121.3px 122.3px,#ffeef7 122.3px 123.3px,#f1dde5 123.3px 124.3px,#f1dbe3 124.3px 125.3px,#f8e5ed 125.3px 126.3px,#f8edf9 126.3px 127.3px,#f2eaf9 127.3px 128.3px,#ede5f9 128.3px 129.3px,#e4dff6 129.3px 130.3px,#e5dcf2 130.3px 131.3px,#f6e9fc 131.3px 132.3px,#e7d6e4 132.3px 133.3px,#f6dee6 133.3px 134.3px,#ffecf0 134.3px 135.3px,#edc6c9 135.3px 136.3px,#eec7ca 136.3px 137.3px,#ffe3ea 137.3px 138.3px,#f6e0ed 138.3px 139.3px,#eaddf2 139.3px 140.3px,#e6daf5 140.3px 141.3px,#d9cae3 141.3px 142.3px,#ecdaef 142.3px 143.3px,#fbe5f4 143.3px 144.3px,#e9d4dd 144.3px 145.3px,#fce7f2 145.3px 146.3px,#fce9f8 146.3px 147.3px,#ded1e5 147.3px 148.3px,#e2d6ee 148.3px 149.3px,#f3e6fe 149.3px 150.3px,#dfd0e3 150.3px 151.3px,#f4e2ef 151.3px 152.3px,#f7e6ed 152.3px 153.3px,#fff1f6 153.3px 154.3px,#fdecf1 154.3px 155.3px,#f3dbdf 155.3px 156.3px,#ffebef 156.3px 157.3px,#d7b6b9 157.3px 158.3px,#ffebef 158.3px 159.3px,#ffe7eb 159.3px 160.3px,#ead5db 160.3px 161.4px,#fce6ee 161.4px 162.4px,#fee5ee 162.4px 163.4px,#fae0e9 163.4px 164.4px,#e3c8d5 164.4px 165.4px,#f6dff0 165.4px 166.4px,#e7d2e4 166.4px 167.4px,#f7e5f4 167.4px 168.4px,#e7d7e4 168.4px 169.4px,#feeef8 169.4px 170.4px,#fbedf9 170.4px 171.4px,#eee1eb 171.4px 172.4px,#efdee8 172.4px 173.4px,#ffebf3 173.4px 174.4px,#f5e2e8 174.4px 175.4px,#fdeaf1 175.4px 176.4px,#f7e5ee 176.4px 177.4px,#eedee7 177.4px 178.4px,#f6e6f0 178.4px 179.4px,#fceffc 179.4px 180.4px,#e7dcea 180.4px 181.4px,#faecfc 181.4px 182.4px,#e6d7e5 182.4px 183.4px,#f3e0ed 183.4px 184.4px,#ffe7ef 184.4px 185.4px,#e8d4dc 185.4px 186.4px,#ffeffc 186.4px 187.4px,#ece0f3 187.4px 188.4px,#dfd9f5 188.4px 189.4px,#ddd5f3 189.4px 190.4px,#dfd5ef 190.4px 191.4px,#ece2f6 191.4px 192.4px,#f6ecfb 192.4px 193.4px,#f8eefb 193.4px 194.4px,#eadfed 194.4px 195.4px,#f8e9f6 195.4px 196.4px,#ebd9e3 196.4px 197.4px,#feebf2 197.4px 198.4px,#fae9f5 198.4px 199.4px,#ede1f4 199.4px 200.4px,#dcd1e6 200.4px 201.4px,#ecdff3 201.4px 202.4px,#f4e6f6 202.4px 203.4px,#f8e6ee 203.4px 204.4px,#f5e1e6 204.4px 205.4px,#ffedf1 205.4px 206.4px,#fceaf1 206.4px 207.4px,#f4e3ec 207.4px 208.4px,#eadae2 208.4px 209.4px,#fff1f9 209.4px 210.4px,#fdeff9 210.4px 211.4px,#f4e6f0 211.4px 212.4px,#eadae9 212.4px 213.4px,#f3e1f2 213.4px 214.4px,#e1cfde 214.4px 215.4px,#f9e3ee 215.4px 216.5px,#ffeef8 216.5px 217.5px,#dec7d4 217.5px 218.5px,#f4ddf1 218.5px 219.5px,#e4d3eb 219.5px 220.5px,#ddd0e5 220.5px 221.5px,#f9ecff 221.5px 222.5px,#f5eafa 222.5px 223.5px,#e3daeb 223.5px 224.5px,#efebff 224.5px 225.5px,#e9e7fc 225.5px 226.5px,#e8e6f9 226.5px 227.5px,#f8f7ff 227.5px 228.5px,#eae4f1 228.5px 229.5px,#ffeff8 229.5px 230.5px,#fcdce4 230.5px 231.5px,#dabac2 231.5px 232.5px,#f7dae8 232.5px 233.5px,#fbebff 233.5px 234.5px,#d5cfe5 234.5px 235.5px,#efeaff 235.5px 236.5px,#f6f3ff 236.5px 237.5px,#e9e4f2 237.5px 238.5px,#f6ebf7 238.5px 239.5px,#f6e8f1 239.5px 240.5px,#f5e5ed 240.5px 241.5px,#f9e9f3 241.5px 242.5px,#eadde7 242.5px 243.5px,#fef2fe 243.5px 244.5px,#f3e5ee 244.5px 245.5px,#f8e6eb 245.5px 246.5px,#fdebef 246.5px 247.5px,#fbe6e8 247.5px 248.5px,#ffeeef 248.5px 249.5px,#f1d3d4 249.5px 250.5px,#fbdde1 250.5px 251.5px,#f9e2ea 251.5px 252.5px,#eddee8 252.5px 253.5px,#fdf1fa 253.5px 254.5px,#fbeff7 254.5px 255.5px,#f6e8ee 255.5px 256.5px,#f6e5ea 256.5px 257.5px,#ffedf2 257.5px 258.5px,#fbe1e5 258.5px 259.5px,#ebd1d9 259.5px 260.5px,#ffe7f6 260.5px 261.5px,#e2c1d3 261.5px 262.5px,#dec1dd 262.5px 263.5px,#e2c4e2 263.5px 264.5px,#d5bed9 264.5px 265.5px,#eadbf4 265.5px 266.5px,#ffeffe 266.5px 267.5px,#eedbe2 267.5px 268.5px,#fae5ed 268.5px 269.5px,#fde8f3 269.5px 270.6px,#e5d5e7 270.6px 271.6px,#e8dbf2 271.6px 272.6px,#e0d4ea 272.6px 273.6px,#f3e7f9 273.6px 274.6px,#ffecf9 274.6px 275.6px,#e9d1d8 275.6px 276.6px,#f5dce6 276.6px 277.6px,#fee9f9 277.6px 278.6px,#e0cfe1 278.6px 279.6px,#ecd9e9 279.6px 280.6px,#f3ddea 280.6px 281.6px,#ffe8f1 281.6px 282.6px,#e8d3df 282.6px 283.6px,#f5e6f6 283.6px 284.6px,#e6d8e7 284.6px 285.6px,#fff3ff 285.6px 286.6px,#e6d8ea 286.6px 287.6px,#e6d7e7 287.6px 288.6px,#f0e3f6 288.6px 289.6px,#eee5f9 289.6px 290.6px,#f3e8ff 290.6px 291.6px,#d6cde7 291.6px 292.6px,#dad4ef 292.6px 293.6px,#f7f4ff 293.6px 294.6px,#e4e3f8 294.6px 295.6px,#f2f1ff 295.6px 296.6px,#d8d8f7 296.6px 297.6px)"></div><div style="position:absolute;left:47.2px;top:369.17px;width:297.60px;height:10.72px;background:linear-gradient(90deg,#edecff 0.0px 1.0px,#e2e0f6 1.0px 2.0px,#eae9fe 2.0px 3.0px,#ebeaff 3.0px 4.0px,#f0efff 4.0px 5.0px,#e2e1f5 5.0px 6.0px,#f6f6ff 6.0px 7.0px,#e4e3f7 7.0px 8.0px,#f0efff 8.0px 9.0px,#e3e2f8 9.0px 10.0px,#eaeaff 10.0px 11.0px,#eeeeff 11.0px 12.0px,#e2e2f6 12.0px 13.1px,#eaeafc 13.1px 14.1px,#f4f3ff 14.1px 15.1px,#f8f8ff 15.1px 16.1px,#e6e6f8 16.1px 17.1px,#e2e2f6 17.1px 18.1px,#f2f1ff 18.1px 19.1px,#ebebff 19.1px 20.1px,#d9d9f7 20.1px 21.1px,#d6d6f6 21.1px 22.1px,#e2e2ff 22.1px 23.1px,#eeebff 23.1px 24.1px,#d7d2e9 24.1px 25.1px,#f2ecff 25.1px 26.1px,#e5ddf7 26.1px 27.1px,#ded3e9 27.1px 28.1px,#eddff2 28.1px 29.1px,#f7e7f2 29.1px 30.1px,#f8e7ee 30.1px 31.1px,#fdecf3 31.1px 32.1px,#f9e7f0 32.1px 33.1px,#f0dde8 33.1px 34.1px,#f1dfeb 34.1px 35.1px,#ebddea 35.1px 36.1px,#fdf2fe 36.1px 37.1px,#f9eef7 37.1px 38.1px,#f4e9f3 38.1px 39.1px,#f0e4f0 39.1px 40.1px,#eee3f2 40.1px 41.1px,#f4edff 41.1px 42.1px,#e3ddf0 42.1px 43.1px,#e9e4f7 43.1px 44.1px,#f9f4ff 44.1px 45.1px,#dfdcf0 45.1px 46.1px,#ece6fa 46.1px 47.1px,#f0e5f8 47.1px 48.1px,#f0e2f2 48.1px 49.1px,#e9d9e7 49.1px 50.1px,#fcecf8 50.1px 51.1px,#f0dfe9 51.1px 52.1px,#fae5ed 52.1px 53.2px,#f8dfe8 53.2px 54.2px,#fce4f1 54.2px 55.2px,#d2bdc9 55.2px 56.2px,#fff2ff 56.2px 57.2px,#f9efff 57.2px 58.2px,#eae1f0 58.2px 59.2px,#eae0f4 59.2px 60.2px,#e7def4 60.2px 61.2px,#e8dbed 61.2px 62.2px,#fbedfe 62.2px 63.2px,#e3d8e4 63.2px 64.2px,#fbf0fc 64.2px 65.2px,#fbf3ff 65.2px 66.2px,#e9e0ec 66.2px 67.2px,#fdecf7 67.2px 68.2px,#f3dce2 68.2px 69.2px,#f2dadf 69.2px 70.2px,#feebf4 70.2px 71.2px,#f6eaf8 71.2px 72.2px,#ece3f5 72.2px 73.2px,#e3d8e7 73.2px 74.2px,#fcebf6 74.2px 75.2px,#fce9ef 75.2px 76.2px,#f8e8ee 76.2px 77.2px,#f0e4ed 77.2px 78.2px,#f5eefb 78.2px 79.2px,#fcf2ff 79.2px 80.2px,#eedfed 80.2px 81.2px,#e4d4e6 81.2px 82.2px,#ecd6e5 82.2px 83.2px,#ffeafb 83.2px 84.2px,#e4d6ed 84.2px 85.2px,#d9c8db 85.2px 86.2px,#f9e4f6 86.2px 87.2px,#f8e1ed 87.2px 88.2px,#efd2d7 88.2px 89.2px,#ffe2f1 89.2px 90.2px,#f0ddfc 90.2px 91.2px,#ac9fc3 91.2px 92.2px,#e0d5fc 92.2px 93.2px,#e9e2ff 93.2px 94.2px,#faf0fe 94.2px 95.2px,#ebe3ee 95.2px 96.2px,#fbf2fc 96.2px 97.2px,#f6ebf5 97.2px 98.2px,#f2e8f5 98.2px 99.2px,#ebe0ef 99.2px 100.2px,#efe5fa 100.2px 101.2px,#ebe4fc 101.2px 102.2px,#dbd3e7 102.2px 103.2px,#f4edff 103.2px 104.2px,#f1eafe 104.2px 105.2px,#eae0f0 105.2px 106.2px,#ede4f5 106.2px 107.3px,#ece6fa 107.3px 108.3px,#f6ebfe 108.3px 109.3px,#e2d4e4 109.3px 110.3px,#eeddea 110.3px 111.3px,#ffedfa 111.3px 112.3px,#eed9ec 112.3px 113.3px,#d3c1db 113.3px 114.3px,#dfd2f0 114.3px 115.3px,#ead7ee 115.3px 116.3px,#ffe5f3 116.3px 117.3px,#e1c9d2 117.3px 118.3px,#ffe7ee 118.3px 119.3px,#fee4ed 119.3px 120.3px,#e7d4e4 120.3px 121.3px,#f2ddf3 121.3px 122.3px,#dac6de 122.3px 123.3px,#e1d1e8 123.3px 124.3px,#f2dfef 124.3px 125.3px,#ffeaf0 125.3px 126.3px,#ffebed 126.3px 127.3px,#eed7d8 127.3px 128.3px,#fff2f7 128.3px 129.3px,#f3e4f1 129.3px 130.3px,#e6ddec 130.3px 131.3px,#eae3f7 131.3px 132.3px,#f5f1ff 132.3px 133.3px,#e6ddeb 133.3px 134.3px,#fceef8 134.3px 135.3px,#fbe4ea 135.3px 136.3px,#ffdfe2 136.3px 137.3px,#f5d1d6 137.3px 138.3px,#e5c9d5 138.3px 139.3px,#ffecff 139.3px 140.3px,#d1c9e1 140.3px 141.3px,#edebff 141.3px 142.3px,#eae6ff 142.3px 143.3px,#e5dcf1 143.3px 144.3px,#e9dbeb 144.3px 145.3px,#f6e5ef 145.3px 146.3px,#fdeef8 146.3px 147.3px,#faf0ff 147.3px 148.3px,#d2cde6 148.3px 149.3px,#eceaff 149.3px 150.3px,#cfcbe6 150.3px 151.3px,#f7efff 151.3px 152.3px,#eee4f3 152.3px 153.3px,#feeff8 153.3px 154.3px,#f3e1eb 154.3px 155.3px,#f3e0eb 155.3px 156.3px,#f1d8e0 156.3px 157.3px,#f8dde3 157.3px 158.3px,#fee3e7 158.3px 159.3px,#ffe7e7 159.3px 160.3px,#fce5e5 160.3px 161.4px,#ffebeb 161.4px 162.4px,#ffe9eb 162.4px 163.4px,#fde5ea 163.4px 164.4px,#f1dce5 164.4px 165.4px,#f0e1ee 165.4px 166.4px,#ece3f3 166.4px 167.4px,#f3efff 167.4px 168.4px,#e7e6fd 168.4px 169.4px,#e6e2f9 169.4px 170.4px,#e8e0f4 170.4px 171.4px,#ebdfed 171.4px 172.4px,#ffecf4 172.4px 173.4px,#ffe9ec 173.4px 174.4px,#efdbdf 174.4px 175.4px,#fff0f8 175.4px 176.4px,#f5e6f3 176.4px 177.4px,#ecdded 177.4px 178.4px,#e7d7e5 178.4px 179.4px,#f4e4ed 179.4px 180.4px,#fff7fc 180.4px 181.4px,#fbeef4 181.4px 182.4px,#f8ecf7 182.4px 183.4px,#e8dbec 183.4px 184.4px,#e4d6e7 184.4px 185.4px,#f7e8f9 185.4px 186.4px,#efe0eb 186.4px 187.4px,#faeaf3 187.4px 188.4px,#f9ecf5 188.4px 189.4px,#eee5f3 189.4px 190.4px,#f8eeff 190.4px 191.4px,#e2d6e6 191.4px 192.4px,#efe4f8 192.4px 193.4px,#f2e6fe 193.4px 194.4px,#d6ceea 194.4px 195.4px,#e4dcfa 195.4px 196.4px,#e5d9f5 196.4px 197.4px,#e3d6ed 197.4px 198.4px,#e8d7e7 198.4px 199.4px,#fff2ff 199.4px 200.4px,#e9ddf1 200.4px 201.4px,#f0dcee 201.4px 202.4px,#dec6da 202.4px 203.4px,#e9d2ea 203.4px 204.4px,#edd8eb 204.4px 205.4px,#e6d6e6 205.4px 206.4px,#faefff 206.4px 207.4px,#f4eaf9 207.4px 208.4px,#f0e7f6 208.4px 209.4px,#e5dff2 209.4px 210.4px,#efe9fe 210.4px 211.4px,#e7dff1 211.4px 212.4px,#f5edff 212.4px 213.4px,#e9e0f0 213.4px 214.4px,#f5e4f0 214.4px 215.4px,#fde6ee 215.4px 216.5px,#f0d8de 216.5px 217.5px,#fce5ed 217.5px 218.5px,#efddee 218.5px 219.5px,#eedff5 219.5px 220.5px,#dac9de 220.5px 221.5px,#f2e1f7 221.5px 222.5px,#ecdcf0 222.5px 223.5px,#e5d8ee 223.5px 224.5px,#e7def7 224.5px 225.5px,#ded5e9 225.5px 226.5px,#faf2ff 226.5px 227.5px,#f9f2ff 227.5px 228.5px,#ebe0ed 228.5px 229.5px,#f6e3f1 229.5px 230.5px,#e8d1dd 230.5px 231.5px,#f1dae4 231.5px 232.5px,#feebf9 232.5px 233.5px,#f2eaff 233.5px 234.5px,#cfcbe7 234.5px 235.5px,#dcd4ee 235.5px 236.5px,#fdf3ff 236.5px 237.5px,#f2e6ed 237.5px 238.5px,#fff8fd 238.5px 239.5px,#f0e4f0 239.5px 240.5px,#ebe4fd 240.5px 241.5px,#ded8fe 241.5px 242.5px,#b7b5df 242.5px 243.5px,#dbdaff 243.5px 244.5px,#e6e4ff 244.5px 245.5px,#f8eefc 245.5px 246.5px,#ffeff7 246.5px 247.5px,#dfcbd0 247.5px 248.5px,#fff1f5 248.5px 249.5px,#ffeff5 249.5px 250.5px,#fae8f0 250.5px 251.5px,#e6d3dc 251.5px 252.5px,#f9e7f2 252.5px 253.5px,#f6e7f2 253.5px 254.5px,#f4e4ed 254.5px 255.5px,#ffecf4 255.5px 256.5px,#eedae1 256.5px 257.5px,#fde6ed 257.5px 258.5px,#fbe6ef 258.5px 259.5px,#e6d5df 259.5px 260.5px,#ffeefa 260.5px 261.5px,#f2dfeb 261.5px 262.5px,#e8d6e3 262.5px 263.5px,#f9e2ec 263.5px 264.5px,#f4e0eb 264.5px 265.5px,#f5e3f0 265.5px 266.5px,#f0dce8 266.5px 267.5px,#f5e4f0 267.5px 268.5px,#efdde8 268.5px 269.5px,#f6e7f6 269.5px 270.6px,#ebe2f4 270.6px 271.6px,#e4dff3 271.6px 272.6px,#f1eaff 272.6px 273.6px,#f4e4f4 273.6px 274.6px,#e6d1db 274.6px 275.6px,#f9e2e9 275.6px 276.6px,#ffeaef 276.6px 277.6px,#fff0f6 277.6px 278.6px,#f0e4ed 278.6px 279.6px,#efe5ee 279.6px 280.6px,#fef3fd 280.6px 281.6px,#fcf0fb 281.6px 282.6px,#eddfeb 282.6px 283.6px,#e6d7e8 283.6px 284.6px,#f1e2f6 284.6px 285.6px,#e7d8eb 285.6px 286.6px,#f1e1f5 286.6px 287.6px,#edd9ec 287.6px 288.6px,#ead6e7 288.6px 289.6px,#e9d5e4 289.6px 290.6px,#fdeaf9 290.6px 291.6px,#e7d8e7 291.6px 292.6px,#eee5fa 292.6px 293.6px,#f0e9ff 293.6px 294.6px,#d3cce2 294.6px 295.6px,#ede5f7 295.6px 296.6px,#fef4fe 296.6px 297.6px)"></div><div style="position:absolute;left:47.2px;top:379.84px;width:297.60px;height:10.72px;background:linear-gradient(90deg,#f5f5fe 0.0px 1.0px,#f7f7ff 1.0px 2.0px,#f9f8ff 2.0px 3.0px,#f0eef6 3.0px 4.0px,#fdfaff 4.0px 5.0px,#f9f6fe 5.0px 6.0px,#f6f3fe 6.0px 7.0px,#efedfd 7.0px 8.0px,#e9e8f8 8.0px 9.0px,#ebeafc 9.0px 10.0px,#fafaff 10.0px 11.0px,#dfdfef 11.0px 12.0px,#f6f6ff 12.0px 13.1px,#f1f0ff 13.1px 14.1px,#efedf8 14.1px 15.1px,#faf9ff 15.1px 16.1px,#f8f6ff 16.1px 17.1px,#e5e4f2 17.1px 18.1px,#f2f2ff 18.1px 19.1px,#eeeeff 19.1px 20.1px,#ebebfe 20.1px 21.1px,#e1e1f5 21.1px 22.1px,#f5f5ff 22.1px 23.1px,#e0e0fb 23.1px 24.1px,#d7d5f3 24.1px 25.1px,#e6e3ff 25.1px 26.1px,#dedbf9 26.1px 27.1px,#eee9ff 27.1px 28.1px,#d1c9e6 28.1px 29.1px,#e4d8f5 29.1px 30.1px,#e5d7f0 30.1px 31.1px,#e8d8ea 31.1px 32.1px,#feecfe 32.1px 33.1px,#e4d4e6 33.1px 34.1px,#e7d5e5 34.1px 35.1px,#f5e1f0 35.1px 36.1px,#fae9f7 36.1px 37.1px,#e3d6e4 37.1px 38.1px,#f8efff 38.1px 39.1px,#e5dcef 39.1px 40.1px,#f6e6f5 40.1px 41.1px,#f1dbee 41.1px 42.1px,#e9d4ee 42.1px 43.1px,#c6b2d1 43.1px 44.1px,#e6dbff 44.1px 45.1px,#d4cef8 45.1px 46.1px,#cfc9e8 46.1px 47.1px,#eee7ff 47.1px 48.1px,#f7f0ff 48.1px 49.1px,#eee2eb 49.1px 50.1px,#fbecf3 50.1px 51.1px,#f9eaf3 51.1px 52.1px,#fae7f2 52.1px 53.2px,#e2d1de 53.2px 54.2px,#f1e3f5 54.2px 55.2px,#f3e5f7 55.2px 56.2px,#e9ddf1 56.2px 57.2px,#e5d9f2 57.2px 58.2px,#e8d4ec 58.2px 59.2px,#e7cce1 59.2px 60.2px,#edcedf 60.2px 61.2px,#eccdd8 61.2px 62.2px,#fde2ea 62.2px 63.2px,#f9e7f1 63.2px 64.2px,#efe5f5 64.2px 65.2px,#efe8fd 65.2px 66.2px,#dedaf3 66.2px 67.2px,#e8e5ff 67.2px 68.2px,#e5dff9 68.2px 69.2px,#e7d7eb 69.2px 70.2px,#f1d9e8 70.2px 71.2px,#ebd0d9 71.2px 72.2px,#ffeaef 72.2px 73.2px,#ffe5ea 73.2px 74.2px,#f5dce4 74.2px 75.2px,#eacfdb 75.2px 76.2px,#f7dbe8 76.2px 77.2px,#edd7e5 77.2px 78.2px,#f3e2ed 78.2px 79.2px,#fbeaf2 79.2px 80.2px,#fcedf4 80.2px 81.2px,#f5e6ec 81.2px 82.2px,#f9e7ee 82.2px 83.2px,#ffeffb 83.2px 84.2px,#e4d3e5 84.2px 85.2px,#d4c3d9 85.2px 86.2px,#f4e7ff 86.2px 87.2px,#eae1f7 87.2px 88.2px,#e9ddeb 88.2px 89.2px,#faedfa 89.2px 90.2px,#f4e8f7 90.2px 91.2px,#ebdfee 91.2px 92.2px,#ebe0f0 92.2px 93.2px,#f2e6f4 93.2px 94.2px,#f4e7f1 94.2px 95.2px,#fff2fa 95.2px 96.2px,#f2e6f1 96.2px 97.2px,#f5ebfa 97.2px 98.2px,#e0d6e5 98.2px 99.2px,#f3ebf9 99.2px 100.2px,#fbf4ff 100.2px 101.2px,#f3eefc 101.2px 102.2px,#e3dbe7 102.2px 103.2px,#fef5ff 103.2px 104.2px,#f1e6f0 104.2px 105.2px,#fdecf3 105.2px 106.2px,#fae7ef 106.2px 107.3px,#ecdbe5 107.3px 108.3px,#ffecf7 108.3px 109.3px,#f1dee9 109.3px 110.3px,#ecd9e4 110.3px 111.3px,#fbe5f0 111.3px 112.3px,#efdbe5 112.3px 113.3px,#f9e8f2 113.3px 114.3px,#f1e3eb 114.3px 115.3px,#fbedf7 115.3px 116.3px,#fcf0ff 116.3px 117.3px,#dcd4f0 117.3px 118.3px,#cec7ea 118.3px 119.3px,#d8d3f8 119.3px 120.3px,#e4e0ff 120.3px 121.3px,#e4dbf3 121.3px 122.3px,#f3e9fc 122.3px 123.3px,#e6dae8 123.3px 124.3px,#fff2fa 124.3px 125.3px,#f6e7ec 125.3px 126.3px,#fff3f4 126.3px 127.3px,#f8e6e9 127.3px 128.3px,#f9e8f0 128.3px 129.3px,#f9eafc 129.3px 130.3px,#dcd3ed 130.3px 131.3px,#cdc4dd 131.3px 132.3px,#fef0ff 132.3px 133.3px,#f9e9f9 133.3px 134.3px,#eddeed 134.3px 135.3px,#d8cadb 135.3px 136.3px,#fff6ff 136.3px 137.3px,#f0e1f0 137.3px 138.3px,#ebd9e6 138.3px 139.3px,#f2e0f4 139.3px 140.3px,#e7d8ef 140.3px 141.3px,#dacfe6 141.3px 142.3px,#f4ebff 142.3px 143.3px,#ede4f5 143.3px 144.3px,#f2e9f7 144.3px 145.3px,#eae2f2 145.3px 146.3px,#f7efff 146.3px 147.3px,#e5dcf2 147.3px 148.3px,#e3d9f4 148.3px 149.3px,#ddd1ec 149.3px 150.3px,#f3e1f7 150.3px 151.3px,#e7d2e4 151.3px 152.3px,#f0dded 152.3px 153.3px,#e9d8e4 153.3px 154.3px,#fbeffa 154.3px 155.3px,#fff2fa 155.3px 156.3px,#ffeff3 156.3px 157.3px,#e7d1d3 157.3px 158.3px,#fff0f4 158.3px 159.3px,#f6e6ec 159.3px 160.3px,#f4e6ed 160.3px 161.4px,#fff2fb 161.4px 162.4px,#e8d8df 162.4px 163.4px,#feecf2 163.4px 164.4px,#faeaf2 164.4px 165.4px,#f1e6f4 165.4px 166.4px,#f2e6f7 166.4px 167.4px,#ded3e7 167.4px 168.4px,#f6eaff 168.4px 169.4px,#e3d7e8 169.4px 170.4px,#f0e4f4 170.4px 171.4px,#f9e9f6 171.4px 172.4px,#efdde6 172.4px 173.4px,#f9e4ec 173.4px 174.4px,#fee7ed 174.4px 175.4px,#edd9de 175.4px 176.4px,#ffeff3 176.4px 177.4px,#ffeef3 177.4px 178.4px,#ebd5dd 178.4px 179.4px,#fce1ed 179.4px 180.4px,#e1c9d8 180.4px 181.4px,#f5e3f4 181.4px 182.4px,#e8d8ea 182.4px 183.4px,#f7ecfe 183.4px 184.4px,#e4dbef 184.4px 185.4px,#eee5fb 185.4px 186.4px,#ece1f6 186.4px 187.4px,#dbd2e5 187.4px 188.4px,#fcf5ff 188.4px 189.4px,#efeaf8 189.4px 190.4px,#faf1fd 190.4px 191.4px,#f3e3ee 191.4px 192.4px,#e9d8e6 192.4px 193.4px,#f3e2f6 193.4px 194.4px,#e3d7f1 194.4px 195.4px,#d3cdeb 195.4px 196.4px,#efe8ff 196.4px 197.4px,#dbd0e9 197.4px 198.4px,#ede0f4 198.4px 199.4px,#ede2fb 199.4px 200.4px,#f0e4fe 200.4px 201.4px,#cabed9 201.4px 202.4px,#ebdcf6 202.4px 203.4px,#f6e1f1 203.4px 204.4px,#f4e0e9 204.4px 205.4px,#f6e2eb 205.4px 206.4px,#ffe6ef 206.4px 207.4px,#edd5df 207.4px 208.4px,#ebd6e3 208.4px 209.4px,#f4e3ef 209.4px 210.4px,#f6edfc 210.4px 211.4px,#f3f0ff 211.4px 212.4px,#efe7f4 212.4px 213.4px,#faedfa 213.4px 214.4px,#edd8e4 214.4px 215.4px,#f4d9e3 215.4px 216.5px,#ebcfd9 216.5px 217.5px,#fee3e9 217.5px 218.5px,#fce8ee 218.5px 219.5px,#f7e7ee 219.5px 220.5px,#fce8ef 220.5px 221.5px,#fbe7f1 221.5px 222.5px,#e1cdd5 222.5px 223.5px,#ffeef5 223.5px 224.5px,#fdedf5 224.5px 225.5px,#f3e7f2 225.5px 226.5px,#ebe3f6 226.5px 227.5px,#e5e0f7 227.5px 228.5px,#e1ddf7 228.5px 229.5px,#f0e9ff 229.5px 230.5px,#e0d4e8 230.5px 231.5px,#efdeed 231.5px 232.5px,#ffeaf4 232.5px 233.5px,#e8d4e2 233.5px 234.5px,#fae9ff 234.5px 235.5px,#c9bbd0 235.5px 236.5px,#f5e9fe 236.5px 237.5px,#fdeefd 237.5px 238.5px,#efdce7 238.5px 239.5px,#f2deea 239.5px 240.5px,#e9d8e6 240.5px 241.5px,#f8ecfd 241.5px 242.5px,#f0e3f6 242.5px 243.5px,#e5dbf2 243.5px 244.5px,#e1d4ec 244.5px 245.5px,#ecd8ea 245.5px 246.5px,#eed8e4 246.5px 247.5px,#fce6eb 247.5px 248.5px,#ffeef3 248.5px 249.5px,#ffeff7 249.5px 250.5px,#eddae2 250.5px 251.5px,#f1dfe9 251.5px 252.5px,#f5e5f0 252.5px 253.5px,#faebf5 253.5px 254.5px,#f8e8f3 254.5px 255.5px,#f2e0ed 255.5px 256.5px,#ebd6e3 256.5px 257.5px,#eedae5 257.5px 258.5px,#ffeef8 258.5px 259.5px,#f4e6ec 259.5px 260.5px,#fbeaed 260.5px 261.5px,#fff4f9 261.5px 262.5px,#f0dfe8 262.5px 263.5px,#f6e2ec 263.5px 264.5px,#e8d7e2 264.5px 265.5px,#faecf8 265.5px 266.5px,#f8ebf7 266.5px 267.5px,#ebe2f3 267.5px 268.5px,#eee6fb 268.5px 269.5px,#ded6ed 269.5px 270.6px,#eee9ff 270.6px 271.6px,#dad5ed 271.6px 272.6px,#f2eeff 272.6px 273.6px,#e7e1f8 273.6px 274.6px,#e2d9ed 274.6px 275.6px,#f5e9fd 275.6px 276.6px,#e5d7e8 276.6px 277.6px,#f1e6f9 277.6px 278.6px,#ebe1f3 278.6px 279.6px,#efe5f2 279.6px 280.6px,#fbeff9 280.6px 281.6px,#fbecf3 281.6px 282.6px,#f3e5ee 282.6px 283.6px,#f3e6f5 283.6px 284.6px,#ede3f7 284.6px 285.6px,#e4daf1 285.6px 286.6px,#e8dcf2 286.6px 287.6px,#e2d5e8 287.6px 288.6px,#f6ebff 288.6px 289.6px,#f9eeff 289.6px 290.6px,#c7bcd8 290.6px 291.6px,#dbcfee 291.6px 292.6px,#eadbf6 292.6px 293.6px,#f7e6fb 293.6px 294.6px,#ddcedf 294.6px 295.6px,#f3e7f7 295.6px 296.6px,#f4ecfb 296.6px 297.6px)"></div>
<svg width="436" height="550" viewBox="0 0 436 550" style="position:absolute;left:0;top:0" font-family='"Liberation Sans", Arial, sans-serif'><defs><clipPath id="vc1"><ellipse cx="83.00" cy="67.30" rx="59.00" ry="50.90"/></clipPath></defs><ellipse cx="83.00" cy="67.30" rx="59.00" ry="50.90" fill="#FFB2B2"/><ellipse cx="142.00" cy="67.90" rx="59.00" ry="50.90" fill="#B3B3FD"/><ellipse cx="142.00" cy="67.90" rx="59.00" ry="50.90" fill="#C27ECE" clip-path="url(#vc1)"/><ellipse cx="83.00" cy="67.30" rx="59.00" ry="50.90" fill="none" stroke="#EE5C5C" stroke-width="0.8"/><ellipse cx="142.00" cy="67.90" rx="59.00" ry="50.90" fill="none" stroke="#6458E6" stroke-width="0.8"/><defs><clipPath id="vc2"><ellipse cx="290.65" cy="69.40" rx="57.15" ry="49.60"/></clipPath></defs><ellipse cx="290.65" cy="69.40" rx="57.15" ry="49.60" fill="#FFB2B2"/><ellipse cx="347.70" cy="69.30" rx="57.30" ry="49.70" fill="#B3B3FD"/><ellipse cx="347.70" cy="69.30" rx="57.30" ry="49.70" fill="#C27ECE" clip-path="url(#vc2)"/><ellipse cx="290.65" cy="69.40" rx="57.15" ry="49.60" fill="none" stroke="#EE5C5C" stroke-width="0.8"/><ellipse cx="347.70" cy="69.30" rx="57.30" ry="49.70" fill="none" stroke="#6458E6" stroke-width="0.8"/><text x="12.00" y="14.50" font-size="14.6" textLength="10.00" lengthAdjust="spacingAndGlyphs" fill="#1a1a1a">A</text><text x="38.90" y="18.50" font-size="10.2" textLength="23.80" lengthAdjust="spacingAndGlyphs" fill="#1a1a1a" stroke="#1a1a1a" stroke-width="0.2">EMT</text><text x="164.00" y="18.20" font-size="10.2" textLength="25.00" lengthAdjust="spacingAndGlyphs" fill="#1a1a1a" stroke="#1a1a1a" stroke-width="0.2">DDR</text><text x="97.20" y="53.40" font-size="8.9" textLength="30.50" lengthAdjust="spacingAndGlyphs" font-weight="bold" fill="#1a1a1a">DEDGs</text><text x="50.70" y="71.80" font-size="10.8" textLength="18.60" lengthAdjust="spacingAndGlyphs" fill="#1a1a1a" stroke="#1a1a1a" stroke-width="0.2">966</text><text x="105.60" y="71.30" font-size="11.2" textLength="13.00" lengthAdjust="spacingAndGlyphs" fill="#1a1a1a" stroke="#1a1a1a" stroke-width="0.2">45</text><text x="156.10" y="71.30" font-size="10.8" textLength="18.60" lengthAdjust="spacingAndGlyphs" fill="#1a1a1a" stroke="#1a1a1a" stroke-width="0.2">251</text><text x="215.20" y="12.50" font-size="14.6" textLength="8.60" lengthAdjust="spacingAndGlyphs" fill="#1a1a1a">B</text><text x="241.50" y="18.74" font-size="10.24" textLength="39.23" lengthAdjust="spacingAndGlyphs" fill="#1a1a1a" stroke="#1a1a1a" stroke-width="0.2">DEDGs</text><text x="360.54" y="18.74" font-size="10.75" textLength="31.13" lengthAdjust="spacingAndGlyphs" fill="#1a1a1a" stroke="#1a1a1a" stroke-width="0.2">DEGs</text><text x="263.00" y="74.74" font-size="10.73" textLength="12.00" lengthAdjust="spacingAndGlyphs" fill="#1a1a1a" stroke="#1a1a1a" stroke-width="0.2">22</text><text x="311.86" y="73.14" font-size="10.4" textLength="12.86" lengthAdjust="spacingAndGlyphs" fill="#1a1a1a" stroke="#1a1a1a" stroke-width="0.2">23</text><text x="359.06" y="74.24" font-size="10.72" textLength="25.86" lengthAdjust="spacingAndGlyphs" fill="#1a1a1a" stroke="#1a1a1a" stroke-width="0.2">9515</text><text x="10.00" y="132.00" font-size="18.0" textLength="10.04" lengthAdjust="spacingAndGlyphs" fill="#1a1a1a">C</text><rect x="47.2" y="136.1" width="25.10" height="7.7" fill="#00D0DA"/><rect x="72.3" y="136.1" width="272.50" height="7.7" fill="#F98C84"/><text x="347.8" y="153.53" font-size="6.3" fill="#222">CDK5 <tspan dx="0.9">***</tspan></text><text x="347.8" y="164.20" font-size="6.3" fill="#222">PTPA <tspan dx="0.9">***</tspan></text><text x="347.8" y="174.88" font-size="6.3" fill="#222">TRIM28 <tspan dx="0.9">***</tspan></text><text x="347.8" y="185.54" font-size="6.3" fill="#222">PIN1 <tspan dx="0.9">***</tspan></text><text x="347.8" y="196.22" font-size="6.3" fill="#222">CDKN2A <tspan dx="0.9">***</tspan></text><text x="347.8" y="206.88" font-size="6.3" fill="#222">SKP2 <tspan dx="0.9">***</tspan></text><text x="347.8" y="217.55" font-size="6.3" fill="#222">FOXK2 <tspan dx="0.9">***</tspan></text><text x="347.8" y="228.22" font-size="6.3" fill="#222">TYMS <tspan dx="0.9">***</tspan></text><text x="347.8" y="238.89" font-size="6.3" fill="#222">AURKA <tspan dx="0.9">***</tspan></text><text x="347.8" y="249.56" font-size="6.3" fill="#222">FOXM1 <tspan dx="0.9">***</tspan></text><text x="347.8" y="260.24" font-size="6.3" fill="#222">CCNA2 <tspan dx="0.9">***</tspan></text><text x="347.8" y="270.91" font-size="6.3" fill="#222">TACC3 <tspan dx="0.9">***</tspan></text><text x="347.8" y="281.58" font-size="6.3" fill="#222">E2F1 <tspan dx="0.9">***</tspan></text><text x="347.8" y="292.25" font-size="6.3" fill="#222">VIM <tspan dx="0.9">***</tspan></text><text x="347.8" y="302.92" font-size="6.3" fill="#222">CCND2 <tspan dx="0.9">***</tspan></text><text x="347.8" y="313.59" font-size="6.3" fill="#222">TP63 <tspan dx="0.9">***</tspan></text><text x="347.8" y="324.25" font-size="6.3" fill="#222">JUNB <tspan dx="0.9">***</tspan></text><text x="347.8" y="334.93" font-size="6.3" fill="#222">ATM <tspan dx="0.9">***</tspan></text><text x="347.8" y="345.60" font-size="6.3" fill="#222">HIPK2 <tspan dx="0.9">***</tspan></text><text x="347.8" y="356.26" font-size="6.3" fill="#222">YWHAZ <tspan dx="0.9">***</tspan></text><text x="347.8" y="366.94" font-size="6.3" fill="#222">YWHAG <tspan dx="0.9">***</tspan></text><text x="347.8" y="377.61" font-size="6.3" fill="#222">BRCA1 <tspan dx="0.9">***</tspan></text><text x="347.8" y="388.27" font-size="6.3" fill="#222">CCND1 <tspan dx="0.9">***</tspan></text><text x="347.80" y="142.40" font-size="7.8" textLength="22.00" lengthAdjust="spacingAndGlyphs" font-weight="bold" fill="#111">group</text><defs><linearGradient id="cb" x1="0" y1="0" x2="0" y2="1"><stop offset="0" stop-color="#FF3535"/><stop offset="0.486" stop-color="#FFFFFF"/><stop offset="1" stop-color="#3535FF"/></linearGradient></defs><rect x="388" y="138.3" width="7.9" height="108.9" fill="url(#cb)"/><text x="399.9" y="143.70" font-size="7.3" fill="#222" stroke="#222" stroke-width="0.12">6</text><text x="399.9" y="160.10" font-size="7.3" fill="#222" stroke="#222" stroke-width="0.12">4</text><text x="399.9" y="176.90" font-size="7.3" fill="#222" stroke="#222" stroke-width="0.12">2</text><text x="399.9" y="193.60" font-size="7.3" fill="#222" stroke="#222" stroke-width="0.12">0</text><text x="397.7" y="210.40" font-size="7.3" fill="#222" stroke="#222" stroke-width="0.12">−2</text><text x="397.7" y="227.20" font-size="7.3" fill="#222" stroke="#222" stroke-width="0.12">−4</text><text x="397.7" y="244.00" font-size="7.3" fill="#222" stroke="#222" stroke-width="0.12">−6</text><text x="412.30" y="141.70" font-size="7.8" textLength="22.20" lengthAdjust="spacingAndGlyphs" font-weight="bold" fill="#111">group</text><rect x="410.8" y="146" width="11.6" height="11" fill="#00D0DA"/><rect x="410.8" y="157" width="11.6" height="9.9" fill="#F98C84"/><text x="423.40" y="151.90" font-size="6.8" fill="#222" stroke="#222" stroke-width="0.2">N</text><text x="423.40" y="162.10" font-size="6.8" fill="#222" stroke="#222" stroke-width="0.2">T</text><path d="M24.30 150.44L24.30 161.10M24.30 150.44L47.20 150.44M24.30 161.10L47.20 161.10M23.50 171.78L23.50 182.44M23.50 171.78L47.20 171.78M23.50 182.44L47.20 182.44M21.80 155.77L24.30 155.77M21.80 177.11L23.50 177.11M21.80 155.77L21.80 177.11M38.40 246.46L38.40 257.13M38.40 246.46L47.20 246.46M38.40 257.13L47.20 257.13M36.10 235.79L36.10 251.80M36.10 235.79L47.20 235.79M36.10 251.80L38.40 251.80M33.30 267.81L33.30 278.48M33.30 267.81L47.20 267.81M33.30 278.48L47.20 278.48M32.10 243.80L32.10 273.14M32.10 243.80L36.10 243.80M32.10 273.14L33.30 273.14M31.00 225.12L31.00 258.47M31.00 225.12L47.20 225.12M31.00 258.47L32.10 258.47M22.40 214.45L22.40 241.80M22.40 214.45L47.20 214.45M22.40 241.80L31.00 241.80M19.50 203.78L19.50 228.13M19.50 203.78L47.20 203.78M19.50 228.13L22.40 228.13M18.30 193.12L18.30 215.96M18.30 193.12L47.20 193.12M18.30 215.96L19.50 215.96M9.70 166.44L9.70 204.54M9.70 166.44L21.80 166.44M9.70 204.54L18.30 204.54M23.50 289.14L23.50 299.81M23.50 289.14L47.20 289.14M23.50 299.81L47.20 299.81M16.60 310.49L16.60 321.15M16.60 310.49L47.20 310.49M16.60 321.15L47.20 321.15M16.00 294.48L16.00 315.82M16.00 294.48L23.50 294.48M20.60 331.82L20.60 342.50M20.60 331.82L47.20 331.82M20.60 342.50L47.20 342.50M23.50 353.16L23.50 363.83M23.50 353.16L47.20 353.16M23.50 363.83L47.20 363.83M17.40 374.50L17.40 385.17M17.40 374.50L47.20 374.50M17.40 385.17L47.20 385.17M13.80 358.50L13.80 379.84M13.80 358.50L23.50 358.50M13.80 379.84L17.40 379.84M11.50 337.16L11.50 369.17M11.50 337.16L20.60 337.16M11.50 369.17L13.80 369.17M7.80 305.15L7.80 353.16M7.80 305.15L16.00 305.15M7.80 353.16L11.50 353.16M4.60 185.49L4.60 329.16M4.60 185.49L9.70 185.49M4.60 329.16L7.80 329.16" stroke="#4a4a4a" stroke-width="1" fill="none"/><text x="13.20" y="407.40" font-size="15.3" textLength="11.80" lengthAdjust="spacingAndGlyphs" fill="#1a1a1a">D</text><g stroke-width="0.65"><line x1="63.2" y1="418.4" x2="99.7" y2="420.6" stroke="#22d4ec"/><line x1="63.2" y1="419.2" x2="99.7" y2="421.4" stroke="#ea3fea"/><line x1="63.7" y1="419.5" x2="29.1" y2="446.9" stroke="#22d4ec"/><line x1="63.2" y1="418.8" x2="28.6" y2="446.2" stroke="#ea3fea"/><line x1="62.7" y1="418.1" x2="28.1" y2="445.5" stroke="#c4ec3c"/><line x1="63.9" y1="417.7" x2="99.5" y2="441.3" stroke="#22d4ec"/><line x1="63.4" y1="418.4" x2="99.0" y2="442.0" stroke="#ea3fea"/><line x1="63.0" y1="419.2" x2="98.6" y2="442.8" stroke="#c4ec3c"/><line x1="62.5" y1="419.9" x2="98.1" y2="443.5" stroke="#3c3c3c"/><line x1="63.5" y1="418.0" x2="162.5" y2="451.1" stroke="#ea3fea"/><line x1="63.2" y1="418.8" x2="162.2" y2="451.9" stroke="#c4ec3c"/><line x1="62.9" y1="419.6" x2="161.9" y2="452.7" stroke="#3c3c3c"/><line x1="64.0" y1="418.7" x2="70.3" y2="475.9" stroke="#22d4ec"/><line x1="63.2" y1="418.8" x2="69.5" y2="476.0" stroke="#ea3fea"/><line x1="62.4" y1="418.9" x2="68.7" y2="476.1" stroke="#c4ec3c"/><line x1="63.9" y1="418.3" x2="108.3" y2="484.7" stroke="#22d4ec"/><line x1="63.2" y1="418.8" x2="107.6" y2="485.2" stroke="#ea3fea"/><line x1="62.5" y1="419.3" x2="106.9" y2="485.7" stroke="#c4ec3c"/><line x1="63.7" y1="418.1" x2="170.1" y2="492.9" stroke="#ea3fea"/><line x1="63.2" y1="418.8" x2="169.6" y2="493.6" stroke="#c4ec3c"/><line x1="62.7" y1="419.5" x2="169.1" y2="494.3" stroke="#3c3c3c"/><line x1="63.8" y1="418.3" x2="134.6" y2="502.2" stroke="#ea3fea"/><line x1="63.2" y1="418.8" x2="134.0" y2="502.7" stroke="#c4ec3c"/><line x1="62.6" y1="419.3" x2="133.4" y2="503.2" stroke="#3c3c3c"/><line x1="64.0" y1="418.5" x2="96.0" y2="506.3" stroke="#22d4ec"/><line x1="63.2" y1="418.8" x2="95.2" y2="506.6" stroke="#ea3fea"/><line x1="62.4" y1="419.1" x2="94.4" y2="506.9" stroke="#c4ec3c"/><line x1="64.4" y1="419.1" x2="38.9" y2="522.0" stroke="#22d4ec"/><line x1="63.6" y1="418.9" x2="38.1" y2="521.8" stroke="#ea3fea"/><line x1="62.8" y1="418.7" x2="37.3" y2="521.6" stroke="#c4ec3c"/><line x1="62.0" y1="418.5" x2="36.5" y2="521.4" stroke="#3c3c3c"/><line x1="99.7" y1="420.2" x2="139.1" y2="421.8" stroke="#22d4ec"/><line x1="99.7" y1="421.0" x2="139.1" y2="422.6" stroke="#ea3fea"/><line x1="99.7" y1="421.8" x2="139.1" y2="423.4" stroke="#c4ec3c"/><line x1="100.0" y1="421.8" x2="28.9" y2="447.0" stroke="#22d4ec"/><line x1="99.7" y1="421.0" x2="28.6" y2="446.2" stroke="#ea3fea"/><line x1="99.4" y1="420.2" x2="28.3" y2="445.4" stroke="#c4ec3c"/><line x1="99.9" y1="420.6" x2="162.4" y2="451.5" stroke="#c4ec3c"/><line x1="99.5" y1="421.4" x2="162.0" y2="452.3" stroke="#3c3c3c"/><line x1="100.5" y1="421.2" x2="90.6" y2="458.7" stroke="#22d4ec"/><line x1="99.7" y1="421.0" x2="89.8" y2="458.5" stroke="#ea3fea"/><line x1="98.9" y1="420.8" x2="89.0" y2="458.3" stroke="#c4ec3c"/><line x1="100.4" y1="420.6" x2="123.7" y2="459.4" stroke="#ea3fea"/><line x1="99.7" y1="421.0" x2="123.0" y2="459.8" stroke="#c4ec3c"/><line x1="99.0" y1="421.4" x2="122.3" y2="460.2" stroke="#3c3c3c"/><line x1="100.4" y1="421.4" x2="70.2" y2="476.4" stroke="#22d4ec"/><line x1="99.7" y1="421.0" x2="69.5" y2="476.0" stroke="#ea3fea"/><line x1="99.0" y1="420.6" x2="68.8" y2="475.6" stroke="#c4ec3c"/><line x1="100.1" y1="420.8" x2="134.4" y2="502.5" stroke="#22d4ec"/><line x1="99.3" y1="421.2" x2="133.6" y2="502.9" stroke="#ea3fea"/><line x1="100.5" y1="421.0" x2="96.0" y2="506.6" stroke="#22d4ec"/><line x1="99.7" y1="421.0" x2="95.2" y2="506.6" stroke="#ea3fea"/><line x1="98.9" y1="421.0" x2="94.4" y2="506.6" stroke="#c4ec3c"/><line x1="100.5" y1="420.7" x2="145.1" y2="530.9" stroke="#22d4ec"/><line x1="99.7" y1="421.0" x2="144.3" y2="531.2" stroke="#ea3fea"/><line x1="98.9" y1="421.3" x2="143.5" y2="531.5" stroke="#c4ec3c"/><line x1="140.3" y1="423.1" x2="124.2" y2="460.3" stroke="#22d4ec"/><line x1="139.5" y1="422.8" x2="123.4" y2="460.0" stroke="#ea3fea"/><line x1="138.7" y1="422.4" x2="122.6" y2="459.6" stroke="#c4ec3c"/><line x1="137.9" y1="422.1" x2="121.8" y2="459.3" stroke="#3c3c3c"/><line x1="139.5" y1="422.8" x2="108.0" y2="485.4" stroke="#22d4ec"/><line x1="138.7" y1="422.4" x2="107.2" y2="485.0" stroke="#ea3fea"/><line x1="139.5" y1="422.7" x2="118.9" y2="521.1" stroke="#22d4ec"/><line x1="138.7" y1="422.5" x2="118.1" y2="520.9" stroke="#ea3fea"/><line x1="139.9" y1="422.6" x2="145.1" y2="531.2" stroke="#ea3fea"/><line x1="139.1" y1="422.6" x2="144.3" y2="531.2" stroke="#c4ec3c"/><line x1="138.3" y1="422.6" x2="143.5" y2="531.2" stroke="#3c3c3c"/><line x1="28.6" y1="445.4" x2="162.2" y2="451.1" stroke="#22d4ec"/><line x1="28.6" y1="446.2" x2="162.2" y2="451.9" stroke="#ea3fea"/><line x1="28.6" y1="447.0" x2="162.2" y2="452.7" stroke="#c4ec3c"/><line x1="29.4" y1="446.1" x2="34.3" y2="476.2" stroke="#22d4ec"/><line x1="28.6" y1="446.2" x2="33.5" y2="476.3" stroke="#ea3fea"/><line x1="27.8" y1="446.3" x2="32.7" y2="476.4" stroke="#c4ec3c"/><line x1="29.1" y1="445.5" x2="70.0" y2="475.3" stroke="#22d4ec"/><line x1="28.6" y1="446.2" x2="69.5" y2="476.0" stroke="#ea3fea"/><line x1="28.1" y1="446.9" x2="69.0" y2="476.7" stroke="#c4ec3c"/><line x1="29.0" y1="445.4" x2="108.0" y2="484.4" stroke="#22d4ec"/><line x1="28.6" y1="446.2" x2="107.6" y2="485.2" stroke="#ea3fea"/><line x1="28.2" y1="447.0" x2="107.2" y2="486.0" stroke="#c4ec3c"/><line x1="29.4" y1="446.4" x2="17.0" y2="492.6" stroke="#22d4ec"/><line x1="28.6" y1="446.2" x2="16.2" y2="492.4" stroke="#ea3fea"/><line x1="27.8" y1="446.0" x2="15.4" y2="492.2" stroke="#c4ec3c"/><line x1="29.0" y1="445.0" x2="170.0" y2="492.4" stroke="#22d4ec"/><line x1="28.7" y1="445.8" x2="169.7" y2="493.2" stroke="#ea3fea"/><line x1="28.5" y1="446.6" x2="169.5" y2="494.0" stroke="#c4ec3c"/><line x1="28.2" y1="447.4" x2="169.2" y2="494.8" stroke="#3c3c3c"/><line x1="29.3" y1="445.8" x2="58.7" y2="499.4" stroke="#22d4ec"/><line x1="28.6" y1="446.2" x2="58.0" y2="499.8" stroke="#ea3fea"/><line x1="27.9" y1="446.6" x2="57.3" y2="500.2" stroke="#c4ec3c"/><line x1="28.9" y1="445.9" x2="95.5" y2="506.3" stroke="#c4ec3c"/><line x1="28.3" y1="446.5" x2="94.9" y2="506.9" stroke="#3c3c3c"/><line x1="29.7" y1="445.5" x2="74.9" y2="518.6" stroke="#22d4ec"/><line x1="29.0" y1="446.0" x2="74.2" y2="519.1" stroke="#ea3fea"/><line x1="28.2" y1="446.4" x2="73.4" y2="519.5" stroke="#c4ec3c"/><line x1="27.5" y1="446.9" x2="72.7" y2="520.0" stroke="#3c3c3c"/><line x1="29.1" y1="445.5" x2="119.0" y2="520.3" stroke="#ea3fea"/><line x1="28.6" y1="446.2" x2="118.5" y2="521.0" stroke="#c4ec3c"/><line x1="28.1" y1="446.9" x2="118.0" y2="521.7" stroke="#3c3c3c"/><line x1="29.1" y1="445.5" x2="144.8" y2="530.5" stroke="#22d4ec"/><line x1="28.6" y1="446.2" x2="144.3" y2="531.2" stroke="#ea3fea"/><line x1="28.1" y1="446.9" x2="143.8" y2="531.9" stroke="#c4ec3c"/><line x1="99.2" y1="442.3" x2="108.0" y2="485.1" stroke="#22d4ec"/><line x1="98.4" y1="442.5" x2="107.2" y2="485.3" stroke="#ea3fea"/><line x1="99.6" y1="442.2" x2="119.3" y2="520.8" stroke="#22d4ec"/><line x1="98.8" y1="442.4" x2="118.5" y2="521.0" stroke="#ea3fea"/><line x1="98.0" y1="442.6" x2="117.7" y2="521.2" stroke="#c4ec3c"/><line x1="99.6" y1="442.0" x2="145.1" y2="530.8" stroke="#ea3fea"/><line x1="98.8" y1="442.4" x2="144.3" y2="531.2" stroke="#c4ec3c"/><line x1="98.0" y1="442.8" x2="143.5" y2="531.6" stroke="#3c3c3c"/><line x1="162.3" y1="452.7" x2="89.9" y2="459.3" stroke="#ea3fea"/><line x1="162.2" y1="451.9" x2="89.8" y2="458.5" stroke="#c4ec3c"/><line x1="162.1" y1="451.1" x2="89.7" y2="457.7" stroke="#3c3c3c"/><line x1="162.4" y1="452.7" x2="33.7" y2="477.1" stroke="#22d4ec"/><line x1="162.2" y1="451.9" x2="33.5" y2="476.3" stroke="#ea3fea"/><line x1="162.0" y1="451.1" x2="33.3" y2="475.5" stroke="#c4ec3c"/><line x1="162.4" y1="452.7" x2="69.7" y2="476.8" stroke="#22d4ec"/><line x1="162.2" y1="451.9" x2="69.5" y2="476.0" stroke="#ea3fea"/><line x1="162.0" y1="451.1" x2="69.3" y2="475.2" stroke="#c4ec3c"/><line x1="162.4" y1="452.3" x2="107.8" y2="485.6" stroke="#22d4ec"/><line x1="162.0" y1="451.5" x2="107.4" y2="484.8" stroke="#ea3fea"/><line x1="162.9" y1="452.3" x2="145.9" y2="482.0" stroke="#22d4ec"/><line x1="162.2" y1="451.9" x2="145.2" y2="481.6" stroke="#ea3fea"/><line x1="161.5" y1="451.5" x2="144.5" y2="481.2" stroke="#c4ec3c"/><line x1="162.4" y1="452.7" x2="16.4" y2="493.2" stroke="#22d4ec"/><line x1="162.2" y1="451.9" x2="16.2" y2="492.4" stroke="#ea3fea"/><line x1="162.0" y1="451.1" x2="16.0" y2="491.6" stroke="#c4ec3c"/><line x1="162.6" y1="451.8" x2="170.0" y2="493.5" stroke="#22d4ec"/><line x1="161.8" y1="452.0" x2="169.2" y2="493.7" stroke="#ea3fea"/><line x1="162.7" y1="453.1" x2="58.5" y2="501.0" stroke="#22d4ec"/><line x1="162.4" y1="452.3" x2="58.2" y2="500.2" stroke="#ea3fea"/><line x1="162.0" y1="451.5" x2="57.8" y2="499.4" stroke="#c4ec3c"/><line x1="161.7" y1="450.7" x2="57.5" y2="498.6" stroke="#3c3c3c"/><line x1="162.9" y1="452.4" x2="119.2" y2="521.5" stroke="#22d4ec"/><line x1="162.2" y1="451.9" x2="118.5" y2="521.0" stroke="#ea3fea"/><line x1="161.5" y1="451.4" x2="117.8" y2="520.5" stroke="#c4ec3c"/><line x1="68.7" y1="452.6" x2="123.1" y2="459.0" stroke="#22d4ec"/><line x1="68.6" y1="453.4" x2="123.0" y2="459.8" stroke="#ea3fea"/><line x1="68.5" y1="454.2" x2="122.9" y2="460.6" stroke="#c4ec3c"/><line x1="68.8" y1="453.8" x2="33.7" y2="476.7" stroke="#c4ec3c"/><line x1="68.4" y1="453.0" x2="33.3" y2="475.9" stroke="#3c3c3c"/><line x1="69.0" y1="453.2" x2="95.6" y2="506.4" stroke="#c4ec3c"/><line x1="68.2" y1="453.6" x2="94.8" y2="506.8" stroke="#3c3c3c"/><line x1="68.9" y1="453.1" x2="144.6" y2="530.9" stroke="#22d4ec"/><line x1="68.3" y1="453.7" x2="144.0" y2="531.5" stroke="#ea3fea"/><line x1="90.1" y1="459.3" x2="33.8" y2="477.1" stroke="#22d4ec"/><line x1="89.8" y1="458.5" x2="33.5" y2="476.3" stroke="#ea3fea"/><line x1="89.5" y1="457.7" x2="33.2" y2="475.5" stroke="#c4ec3c"/><line x1="90.5" y1="459.0" x2="58.7" y2="500.3" stroke="#22d4ec"/><line x1="89.8" y1="458.5" x2="58.0" y2="499.8" stroke="#ea3fea"/><line x1="89.1" y1="458.0" x2="57.3" y2="499.3" stroke="#c4ec3c"/><line x1="90.1" y1="458.8" x2="38.0" y2="522.0" stroke="#22d4ec"/><line x1="89.5" y1="458.2" x2="37.4" y2="521.4" stroke="#ea3fea"/><line x1="90.2" y1="458.6" x2="74.2" y2="519.4" stroke="#22d4ec"/><line x1="89.4" y1="458.4" x2="73.4" y2="519.2" stroke="#ea3fea"/><line x1="90.6" y1="458.1" x2="119.3" y2="520.6" stroke="#22d4ec"/><line x1="89.8" y1="458.5" x2="118.5" y2="521.0" stroke="#ea3fea"/><line x1="89.0" y1="458.9" x2="117.7" y2="521.4" stroke="#c4ec3c"/><line x1="90.1" y1="458.2" x2="144.6" y2="530.9" stroke="#c4ec3c"/><line x1="89.5" y1="458.8" x2="144.0" y2="531.5" stroke="#3c3c3c"/><line x1="123.1" y1="460.2" x2="33.6" y2="476.7" stroke="#c4ec3c"/><line x1="122.9" y1="459.4" x2="33.4" y2="475.9" stroke="#3c3c3c"/><line x1="123.9" y1="458.9" x2="146.1" y2="480.7" stroke="#22d4ec"/><line x1="123.3" y1="459.5" x2="145.5" y2="481.3" stroke="#ea3fea"/><line x1="122.7" y1="460.1" x2="144.9" y2="481.9" stroke="#c4ec3c"/><line x1="122.1" y1="460.7" x2="144.3" y2="482.5" stroke="#3c3c3c"/><line x1="124.2" y1="459.5" x2="135.2" y2="502.4" stroke="#22d4ec"/><line x1="123.4" y1="459.7" x2="134.4" y2="502.6" stroke="#ea3fea"/><line x1="122.6" y1="459.9" x2="133.6" y2="502.8" stroke="#c4ec3c"/><line x1="121.8" y1="460.1" x2="132.8" y2="503.0" stroke="#3c3c3c"/><line x1="123.7" y1="460.2" x2="95.9" y2="507.0" stroke="#22d4ec"/><line x1="123.0" y1="459.8" x2="95.2" y2="506.6" stroke="#ea3fea"/><line x1="122.3" y1="459.4" x2="94.5" y2="506.2" stroke="#c4ec3c"/><line x1="123.2" y1="460.1" x2="37.9" y2="522.0" stroke="#22d4ec"/><line x1="122.8" y1="459.5" x2="37.5" y2="521.4" stroke="#ea3fea"/><line x1="123.8" y1="460.1" x2="91.0" y2="541.7" stroke="#22d4ec"/><line x1="123.0" y1="459.8" x2="90.2" y2="541.4" stroke="#ea3fea"/><line x1="122.2" y1="459.5" x2="89.4" y2="541.1" stroke="#c4ec3c"/><line x1="33.7" y1="475.0" x2="169.8" y2="492.3" stroke="#22d4ec"/><line x1="33.6" y1="475.9" x2="169.7" y2="493.2" stroke="#ea3fea"/><line x1="33.4" y1="476.7" x2="169.5" y2="494.0" stroke="#c4ec3c"/><line x1="33.3" y1="477.6" x2="169.4" y2="494.9" stroke="#3c3c3c"/><line x1="33.8" y1="476.0" x2="58.3" y2="499.5" stroke="#c4ec3c"/><line x1="33.2" y1="476.6" x2="57.7" y2="500.1" stroke="#3c3c3c"/><line x1="33.6" y1="475.9" x2="134.1" y2="502.3" stroke="#c4ec3c"/><line x1="33.4" y1="476.7" x2="133.9" y2="503.1" stroke="#3c3c3c"/><line x1="34.3" y1="476.2" x2="38.5" y2="521.6" stroke="#22d4ec"/><line x1="33.5" y1="476.3" x2="37.7" y2="521.7" stroke="#ea3fea"/><line x1="32.7" y1="476.4" x2="36.9" y2="521.8" stroke="#c4ec3c"/><line x1="33.9" y1="475.5" x2="118.9" y2="520.2" stroke="#22d4ec"/><line x1="33.5" y1="476.3" x2="118.5" y2="521.0" stroke="#ea3fea"/><line x1="33.1" y1="477.1" x2="118.1" y2="521.8" stroke="#c4ec3c"/><line x1="33.8" y1="476.0" x2="90.5" y2="541.1" stroke="#c4ec3c"/><line x1="33.2" y1="476.6" x2="89.9" y2="541.7" stroke="#3c3c3c"/><line x1="69.7" y1="475.2" x2="107.8" y2="484.4" stroke="#ea3fea"/><line x1="69.5" y1="476.0" x2="107.6" y2="485.2" stroke="#c4ec3c"/><line x1="69.3" y1="476.8" x2="107.4" y2="486.0" stroke="#3c3c3c"/><line x1="69.7" y1="476.8" x2="16.4" y2="493.2" stroke="#ea3fea"/><line x1="69.5" y1="476.0" x2="16.2" y2="492.4" stroke="#c4ec3c"/><line x1="69.3" y1="475.2" x2="16.0" y2="491.6" stroke="#3c3c3c"/><line x1="69.9" y1="476.2" x2="58.4" y2="500.0" stroke="#22d4ec"/><line x1="69.1" y1="475.8" x2="57.6" y2="499.6" stroke="#ea3fea"/><line x1="69.9" y1="476.0" x2="74.2" y2="519.3" stroke="#c4ec3c"/><line x1="69.1" y1="476.0" x2="73.4" y2="519.3" stroke="#3c3c3c"/><line x1="107.7" y1="486.0" x2="16.3" y2="493.2" stroke="#22d4ec"/><line x1="107.6" y1="485.2" x2="16.2" y2="492.4" stroke="#ea3fea"/><line x1="107.5" y1="484.4" x2="16.1" y2="491.6" stroke="#c4ec3c"/><line x1="107.8" y1="486.0" x2="58.2" y2="500.6" stroke="#22d4ec"/><line x1="107.6" y1="485.2" x2="58.0" y2="499.8" stroke="#ea3fea"/><line x1="107.4" y1="484.4" x2="57.8" y2="499.0" stroke="#c4ec3c"/><line x1="108.3" y1="485.6" x2="95.9" y2="507.0" stroke="#22d4ec"/><line x1="107.6" y1="485.2" x2="95.2" y2="506.6" stroke="#ea3fea"/><line x1="106.9" y1="484.8" x2="94.5" y2="506.2" stroke="#c4ec3c"/><line x1="108.4" y1="485.0" x2="119.3" y2="520.8" stroke="#22d4ec"/><line x1="107.6" y1="485.2" x2="118.5" y2="521.0" stroke="#ea3fea"/><line x1="106.8" y1="485.4" x2="117.7" y2="521.2" stroke="#c4ec3c"/><line x1="108.3" y1="484.7" x2="145.0" y2="530.7" stroke="#ea3fea"/><line x1="107.6" y1="485.2" x2="144.3" y2="531.2" stroke="#c4ec3c"/><line x1="106.9" y1="485.7" x2="143.6" y2="531.7" stroke="#3c3c3c"/><line x1="145.3" y1="482.9" x2="16.3" y2="493.7" stroke="#22d4ec"/><line x1="145.2" y1="482.0" x2="16.2" y2="492.8" stroke="#ea3fea"/><line x1="145.2" y1="481.2" x2="16.2" y2="492.0" stroke="#c4ec3c"/><line x1="145.1" y1="480.3" x2="16.1" y2="491.1" stroke="#3c3c3c"/><line x1="145.6" y1="480.8" x2="170.0" y2="492.8" stroke="#22d4ec"/><line x1="145.2" y1="481.6" x2="169.6" y2="493.6" stroke="#ea3fea"/><line x1="144.8" y1="482.4" x2="169.2" y2="494.4" stroke="#c4ec3c"/><line x1="145.4" y1="482.4" x2="58.2" y2="500.6" stroke="#22d4ec"/><line x1="145.2" y1="481.6" x2="58.0" y2="499.8" stroke="#ea3fea"/><line x1="145.0" y1="480.8" x2="57.8" y2="499.0" stroke="#c4ec3c"/><line x1="145.6" y1="481.8" x2="118.9" y2="521.2" stroke="#22d4ec"/><line x1="144.8" y1="481.4" x2="118.1" y2="520.8" stroke="#ea3fea"/><line x1="146.0" y1="481.6" x2="145.1" y2="531.2" stroke="#ea3fea"/><line x1="145.2" y1="481.6" x2="144.3" y2="531.2" stroke="#c4ec3c"/><line x1="144.4" y1="481.6" x2="143.5" y2="531.2" stroke="#3c3c3c"/><line x1="145.8" y1="482.2" x2="90.8" y2="542.0" stroke="#22d4ec"/><line x1="145.2" y1="481.6" x2="90.2" y2="541.4" stroke="#ea3fea"/><line x1="144.6" y1="481.0" x2="89.6" y2="540.8" stroke="#c4ec3c"/><line x1="16.3" y1="491.6" x2="58.1" y2="499.0" stroke="#22d4ec"/><line x1="16.2" y1="492.4" x2="58.0" y2="499.8" stroke="#ea3fea"/><line x1="16.1" y1="493.2" x2="57.9" y2="500.6" stroke="#c4ec3c"/><line x1="16.4" y1="491.6" x2="95.4" y2="505.8" stroke="#22d4ec"/><line x1="16.2" y1="492.4" x2="95.2" y2="506.6" stroke="#ea3fea"/><line x1="16.0" y1="493.2" x2="95.0" y2="507.4" stroke="#c4ec3c"/><line x1="16.9" y1="491.9" x2="38.4" y2="521.2" stroke="#22d4ec"/><line x1="16.2" y1="492.4" x2="37.7" y2="521.7" stroke="#ea3fea"/><line x1="15.5" y1="492.9" x2="37.0" y2="522.2" stroke="#c4ec3c"/><line x1="169.7" y1="494.0" x2="95.3" y2="507.0" stroke="#22d4ec"/><line x1="169.5" y1="493.2" x2="95.1" y2="506.2" stroke="#ea3fea"/><line x1="170.0" y1="494.3" x2="90.6" y2="542.1" stroke="#ea3fea"/><line x1="169.6" y1="493.6" x2="90.2" y2="541.4" stroke="#c4ec3c"/><line x1="169.2" y1="492.9" x2="89.8" y2="540.7" stroke="#3c3c3c"/><line x1="58.2" y1="499.0" x2="95.4" y2="505.8" stroke="#ea3fea"/><line x1="58.0" y1="499.8" x2="95.2" y2="506.6" stroke="#c4ec3c"/><line x1="57.8" y1="500.6" x2="95.0" y2="507.4" stroke="#3c3c3c"/><line x1="58.7" y1="499.3" x2="90.9" y2="540.9" stroke="#22d4ec"/><line x1="58.0" y1="499.8" x2="90.2" y2="541.4" stroke="#ea3fea"/><line x1="57.3" y1="500.3" x2="89.5" y2="541.9" stroke="#c4ec3c"/><line x1="134.8" y1="502.4" x2="145.1" y2="530.9" stroke="#22d4ec"/><line x1="134.0" y1="502.7" x2="144.3" y2="531.2" stroke="#ea3fea"/><line x1="133.2" y1="503.0" x2="143.5" y2="531.5" stroke="#c4ec3c"/><line x1="95.5" y1="507.8" x2="38.0" y2="522.9" stroke="#22d4ec"/><line x1="95.3" y1="507.0" x2="37.8" y2="522.1" stroke="#ea3fea"/><line x1="95.1" y1="506.2" x2="37.6" y2="521.3" stroke="#c4ec3c"/><line x1="94.9" y1="505.4" x2="37.4" y2="520.5" stroke="#3c3c3c"/><line x1="37.7" y1="521.3" x2="73.8" y2="518.9" stroke="#22d4ec"/><line x1="37.7" y1="522.1" x2="73.8" y2="519.7" stroke="#ea3fea"/><line x1="37.7" y1="521.3" x2="118.5" y2="520.6" stroke="#22d4ec"/><line x1="37.7" y1="522.1" x2="118.5" y2="521.4" stroke="#ea3fea"/><line x1="37.8" y1="520.9" x2="144.4" y2="530.4" stroke="#ea3fea"/><line x1="37.7" y1="521.7" x2="144.3" y2="531.2" stroke="#c4ec3c"/><line x1="37.6" y1="522.5" x2="144.2" y2="532.0" stroke="#3c3c3c"/><line x1="37.8" y1="521.3" x2="90.3" y2="541.0" stroke="#c4ec3c"/><line x1="37.6" y1="522.1" x2="90.1" y2="541.8" stroke="#3c3c3c"/><line x1="73.8" y1="518.9" x2="118.5" y2="520.6" stroke="#22d4ec"/><line x1="73.8" y1="519.7" x2="118.5" y2="521.4" stroke="#ea3fea"/><line x1="74.5" y1="518.8" x2="90.9" y2="540.9" stroke="#22d4ec"/><line x1="73.8" y1="519.3" x2="90.2" y2="541.4" stroke="#ea3fea"/><line x1="73.1" y1="519.8" x2="89.5" y2="541.9" stroke="#c4ec3c"/><line x1="118.7" y1="520.6" x2="144.5" y2="530.8" stroke="#c4ec3c"/><line x1="118.3" y1="521.4" x2="144.1" y2="531.6" stroke="#3c3c3c"/><line x1="144.5" y1="532.0" x2="90.4" y2="542.2" stroke="#22d4ec"/><line x1="144.3" y1="531.2" x2="90.2" y2="541.4" stroke="#ea3fea"/><line x1="144.1" y1="530.4" x2="90.0" y2="540.6" stroke="#c4ec3c"/><line x1="70.0" y1="475.3" x2="144.8" y2="530.5" stroke="#22d4ec"/><line x1="69.5" y1="476.0" x2="144.3" y2="531.2" stroke="#ea3fea"/><line x1="69.0" y1="476.7" x2="143.8" y2="531.9" stroke="#c4ec3c"/><line x1="64.0" y1="418.6" x2="91.0" y2="541.2" stroke="#22d4ec"/><line x1="63.2" y1="418.8" x2="90.2" y2="541.4" stroke="#ea3fea"/><line x1="62.4" y1="419.0" x2="89.4" y2="541.6" stroke="#c4ec3c"/><line x1="170.0" y1="493.8" x2="144.7" y2="531.4" stroke="#22d4ec"/><line x1="169.2" y1="493.4" x2="143.9" y2="531.0" stroke="#ea3fea"/><line x1="139.8" y1="422.1" x2="162.9" y2="451.4" stroke="#ea3fea"/><line x1="139.1" y1="422.6" x2="162.2" y2="451.9" stroke="#c4ec3c"/><line x1="138.4" y1="423.1" x2="161.5" y2="452.4" stroke="#3c3c3c"/></g><defs><radialGradient id="hl" cx="0.5" cy="0.18" r="0.55"><stop offset="0" stop-color="#fff" stop-opacity="0.9"/><stop offset="0.5" stop-color="#fff" stop-opacity="0.35"/><stop offset="1" stop-color="#fff" stop-opacity="0"/></radialGradient><radialGradient id="sh" cx="0.5" cy="0.5" r="0.5"><stop offset="0.7" stop-color="#000" stop-opacity="0"/><stop offset="1" stop-color="#000" stop-opacity="0.18"/></radialGradient><radialGradient id="nf0" cx="0.5" cy="0.55" r="0.55"><stop offset="0" stop-color="#90dbc1"/><stop offset="0.75" stop-color="#55c7a0"/><stop offset="1" stop-color="#3c8b70"/></radialGradient><radialGradient id="nf1" cx="0.5" cy="0.55" r="0.55"><stop offset="0" stop-color="#ace4d0"/><stop offset="0.75" stop-color="#7fd6b6"/><stop offset="1" stop-color="#59967f"/></radialGradient><radialGradient id="nf2" cx="0.5" cy="0.55" r="0.55"><stop offset="0" stop-color="#95dbc0"/><stop offset="0.75" stop-color="#5cc79e"/><stop offset="1" stop-color="#408b6f"/></radialGradient><radialGradient id="nf3" cx="0.5" cy="0.55" r="0.55"><stop offset="0" stop-color="#e4e7c1"/><stop offset="0.75" stop-color="#d5daa0"/><stop offset="1" stop-color="#959970"/></radialGradient><radialGradient id="nf4" cx="0.5" cy="0.55" r="0.55"><stop offset="0" stop-color="#96dbb8"/><stop offset="0.75" stop-color="#5ec891"/><stop offset="1" stop-color="#428c66"/></radialGradient><radialGradient id="nf5" cx="0.5" cy="0.55" r="0.55"><stop offset="0" stop-color="#7fc7e2"/><stop offset="0.75" stop-color="#3aa9d2"/><stop offset="1" stop-color="#297693"/></radialGradient><radialGradient id="nf6" cx="0.5" cy="0.55" r="0.55"><stop offset="0" stop-color="#c3e5b6"/><stop offset="0.75" stop-color="#a2d78f"/><stop offset="1" stop-color="#719664"/></radialGradient><radialGradient id="nf7" cx="0.5" cy="0.55" r="0.55"><stop offset="0" stop-color="#b4ace4"/><stop offset="0.75" stop-color="#8c7fd6"/><stop offset="1" stop-color="#625996"/></radialGradient><radialGradient id="nf8" cx="0.5" cy="0.55" r="0.55"><stop offset="0" stop-color="#efc3ce"/><stop offset="0.75" stop-color="#e7a3b3"/><stop offset="1" stop-color="#a2727d"/></radialGradient><radialGradient id="nf9" cx="0.5" cy="0.55" r="0.55"><stop offset="0" stop-color="#96d7b8"/><stop offset="0.75" stop-color="#5ec191"/><stop offset="1" stop-color="#428766"/></radialGradient><radialGradient id="nf10" cx="0.5" cy="0.55" r="0.55"><stop offset="0" stop-color="#8d98d1"/><stop offset="0.75" stop-color="#5061b8"/><stop offset="1" stop-color="#384481"/></radialGradient><radialGradient id="nf11" cx="0.5" cy="0.55" r="0.55"><stop offset="0" stop-color="#f5dac5"/><stop offset="0.75" stop-color="#efc6a6"/><stop offset="1" stop-color="#a78b74"/></radialGradient><radialGradient id="nf12" cx="0.5" cy="0.55" r="0.55"><stop offset="0" stop-color="#6fc6c6"/><stop offset="0.75" stop-color="#22a8a8"/><stop offset="1" stop-color="#187676"/></radialGradient><radialGradient id="nf13" cx="0.5" cy="0.55" r="0.55"><stop offset="0" stop-color="#eb9494"/><stop offset="0.75" stop-color="#e05a5a"/><stop offset="1" stop-color="#9d3f3f"/></radialGradient><radialGradient id="nf14" cx="0.5" cy="0.55" r="0.55"><stop offset="0" stop-color="#78c199"/><stop offset="0.75" stop-color="#30a062"/><stop offset="1" stop-color="#227045"/></radialGradient><radialGradient id="nf15" cx="0.5" cy="0.55" r="0.55"><stop offset="0" stop-color="#c8e6b6"/><stop offset="0.75" stop-color="#aad88f"/><stop offset="1" stop-color="#779764"/></radialGradient><radialGradient id="nf16" cx="0.5" cy="0.55" r="0.55"><stop offset="0" stop-color="#f1dbc5"/><stop offset="0.75" stop-color="#e9c8a6"/><stop offset="1" stop-color="#a38c74"/></radialGradient><radialGradient id="nf17" cx="0.5" cy="0.55" r="0.55"><stop offset="0" stop-color="#d0eab6"/><stop offset="0.75" stop-color="#b6de8e"/><stop offset="1" stop-color="#7f9b63"/></radialGradient><radialGradient id="nf18" cx="0.5" cy="0.55" r="0.55"><stop offset="0" stop-color="#efeacc"/><stop offset="0.75" stop-color="#e7dfb0"/><stop offset="1" stop-color="#a29c7b"/></radialGradient><radialGradient id="nf19" cx="0.5" cy="0.55" r="0.55"><stop offset="0" stop-color="#f0d0bb"/><stop offset="0.75" stop-color="#e8b797"/><stop offset="1" stop-color="#a2806a"/></radialGradient><radialGradient id="nf20" cx="0.5" cy="0.55" r="0.55"><stop offset="0" stop-color="#cbeac1"/><stop offset="0.75" stop-color="#afdf9f"/><stop offset="1" stop-color="#7a9c6f"/></radialGradient><radialGradient id="nf21" cx="0.5" cy="0.55" r="0.55"><stop offset="0" stop-color="#f5d1ca"/><stop offset="0.75" stop-color="#f0b8ae"/><stop offset="1" stop-color="#a8817a"/></radialGradient><radialGradient id="nf22" cx="0.5" cy="0.55" r="0.55"><stop offset="0" stop-color="#dcdbab"/><stop offset="0.75" stop-color="#c9c87e"/><stop offset="1" stop-color="#8d8c58"/></radialGradient></defs><ellipse cx="63.2" cy="418.8" rx="7.3" ry="6" fill="url(#nf0)" stroke="#2a6450" stroke-width="0.5"/><ellipse cx="63.2" cy="417.8" rx="6.3" ry="4.6" fill="url(#hl)"/><polyline points="59.6,418.3 63.0,421.2 62.8,416.3 61.5,416.5 64.6,420.0 64.1,419.7" fill="none" stroke="#2a8a3a" stroke-opacity="0.55" stroke-width="0.8" stroke-linejoin="round"/><text x="70.1" y="413.5" font-size="4.4" fill="#3a3a3a" stroke="#3a3a3a" stroke-width="0.12">CCND2</text><ellipse cx="99.7" cy="421.0" rx="7.3" ry="6" fill="url(#nf1)" stroke="#406b5b" stroke-width="0.5"/><ellipse cx="99.7" cy="420.0" rx="6.3" ry="4.6" fill="url(#hl)"/><polyline points="103.3,420.7 103.1,423.8 101.9,418.5 98.6,422.0 100.5,422.8 100.8,419.3" fill="none" stroke="#b0602a" stroke-opacity="0.55" stroke-width="0.8" stroke-linejoin="round"/><text x="106.6" y="415.7" font-size="4.4" fill="#3a3a3a" stroke="#3a3a3a" stroke-width="0.12">TRIM28</text><ellipse cx="139.1" cy="422.6" rx="7.3" ry="6" fill="url(#nf2)" stroke="#2e644f" stroke-width="0.5"/><ellipse cx="139.1" cy="421.6" rx="6.3" ry="4.6" fill="url(#hl)"/><polyline points="139.1,422.4 137.0,423.0 137.5,422.6 141.1,425.5 142.2,421.4 139.9,422.0" fill="none" stroke="#208080" stroke-opacity="0.55" stroke-width="0.8" stroke-linejoin="round"/><text x="146.0" y="417.3" font-size="4.4" fill="#3a3a3a" stroke="#3a3a3a" stroke-width="0.12">CDK5</text><ellipse cx="28.6" cy="446.2" rx="7.3" ry="6" fill="url(#nf3)" stroke="#6a6d50" stroke-width="0.5"/><ellipse cx="28.6" cy="445.2" rx="6.3" ry="4.6" fill="url(#hl)"/><polyline points="31.0,445.7 25.8,443.8 28.0,447.0 25.0,447.5 26.4,444.2 31.9,446.6" fill="none" stroke="#a07020" stroke-opacity="0.55" stroke-width="0.8" stroke-linejoin="round"/><text x="35.5" y="440.9" font-size="4.4" fill="#3a3a3a" stroke="#3a3a3a" stroke-width="0.12">E2F1</text><ellipse cx="98.8" cy="442.4" rx="7.3" ry="6" fill="url(#nf4)" stroke="#2f6448" stroke-width="0.5"/><ellipse cx="98.8" cy="441.4" rx="6.3" ry="4.6" fill="url(#hl)"/><polyline points="97.3,440.7 100.0,443.4 98.5,442.7 96.4,441.0 96.4,444.6 96.7,442.6" fill="none" stroke="#208080" stroke-opacity="0.55" stroke-width="0.8" stroke-linejoin="round"/><text x="105.7" y="437.1" font-size="4.4" fill="#3a3a3a" stroke="#3a3a3a" stroke-width="0.12">JUNB</text><ellipse cx="162.2" cy="451.9" rx="7.3" ry="6" fill="url(#nf5)" stroke="#1d5469" stroke-width="0.5"/><ellipse cx="162.2" cy="450.9" rx="6.3" ry="4.6" fill="url(#hl)"/><polyline points="162.5,452.0 158.7,454.1 162.9,454.0 164.0,453.5 166.0,451.5 161.4,449.3" fill="none" stroke="#b0602a" stroke-opacity="0.55" stroke-width="0.8" stroke-linejoin="round"/><text x="169.1" y="446.6" font-size="4.4" fill="#3a3a3a" stroke="#3a3a3a" stroke-width="0.12">CCND1</text><ellipse cx="68.6" cy="453.4" rx="7.3" ry="6" fill="url(#nf6)" stroke="#516c48" stroke-width="0.5"/><ellipse cx="68.6" cy="452.4" rx="6.3" ry="4.6" fill="url(#hl)"/><polyline points="71.4,452.5 71.1,453.5 68.5,455.8 69.0,455.2 69.9,451.0 71.8,451.6" fill="none" stroke="#a07020" stroke-opacity="0.55" stroke-width="0.8" stroke-linejoin="round"/><text x="75.5" y="448.1" font-size="4.4" fill="#3a3a3a" stroke="#3a3a3a" stroke-width="0.12">PTPRA</text><ellipse cx="89.8" cy="458.5" rx="7.3" ry="6" fill="url(#nf7)" stroke="#46406b" stroke-width="0.5"/><ellipse cx="89.8" cy="457.5" rx="6.3" ry="4.6" fill="url(#hl)"/><polyline points="89.5,458.2 90.8,459.4 91.3,460.9 91.7,458.1 87.9,460.4 92.0,461.3" fill="none" stroke="#3050b0" stroke-opacity="0.55" stroke-width="0.8" stroke-linejoin="round"/><text x="96.7" y="453.2" font-size="4.4" fill="#3a3a3a" stroke="#3a3a3a" stroke-width="0.12">YWHAZ</text><ellipse cx="123.0" cy="459.8" rx="7.3" ry="6" fill="url(#nf8)" stroke="#74525a" stroke-width="0.5"/><ellipse cx="123.0" cy="458.8" rx="6.3" ry="4.6" fill="url(#hl)"/><polyline points="123.7,459.1 125.7,461.5 121.1,458.0 124.9,462.6 120.0,460.8 124.1,460.2" fill="none" stroke="#2a8a3a" stroke-opacity="0.55" stroke-width="0.8" stroke-linejoin="round"/><text x="129.9" y="454.5" font-size="4.4" fill="#3a3a3a" stroke="#3a3a3a" stroke-width="0.12">FOXK2</text><ellipse cx="33.5" cy="476.3" rx="7.3" ry="6" fill="url(#nf9)" stroke="#2f6048" stroke-width="0.5"/><ellipse cx="33.5" cy="475.3" rx="6.3" ry="4.6" fill="url(#hl)"/><polyline points="33.5,477.8 31.4,477.7 32.2,477.5 32.5,474.8 30.8,474.0 35.0,476.1" fill="none" stroke="#2a8a3a" stroke-opacity="0.55" stroke-width="0.8" stroke-linejoin="round"/><text x="40.4" y="471.0" font-size="4.4" fill="#3a3a3a" stroke="#3a3a3a" stroke-width="0.12">SKP2</text><ellipse cx="69.5" cy="476.0" rx="7.3" ry="6" fill="url(#nf10)" stroke="#28305c" stroke-width="0.5"/><ellipse cx="69.5" cy="475.0" rx="6.3" ry="4.6" fill="url(#hl)"/><polyline points="71.4,476.9 69.6,479.2 67.5,477.5 69.4,476.5 69.9,475.9 65.9,478.9" fill="none" stroke="#b0602a" stroke-opacity="0.55" stroke-width="0.8" stroke-linejoin="round"/><text x="76.4" y="470.7" font-size="4.4" fill="#3a3a3a" stroke="#3a3a3a" stroke-width="0.12">VIM</text><ellipse cx="107.6" cy="485.2" rx="7.3" ry="6" fill="url(#nf11)" stroke="#786353" stroke-width="0.5"/><ellipse cx="107.6" cy="484.2" rx="6.3" ry="4.6" fill="url(#hl)"/><polyline points="106.4,487.0 108.6,485.3 107.7,483.9 109.8,482.7 108.7,485.2 105.5,486.0" fill="none" stroke="#2a8a3a" stroke-opacity="0.55" stroke-width="0.8" stroke-linejoin="round"/><text x="114.5" y="479.9" font-size="4.4" fill="#3a3a3a" stroke="#3a3a3a" stroke-width="0.12">BRCA1</text><ellipse cx="145.2" cy="481.6" rx="7.3" ry="6" fill="url(#nf12)" stroke="#115454" stroke-width="0.5"/><ellipse cx="145.2" cy="480.6" rx="6.3" ry="4.6" fill="url(#hl)"/><polyline points="147.1,481.0 142.6,479.1 143.5,483.0 143.7,484.6 144.9,480.2 141.5,479.9" fill="none" stroke="#208080" stroke-opacity="0.55" stroke-width="0.8" stroke-linejoin="round"/><text x="152.1" y="476.3" font-size="4.4" fill="#3a3a3a" stroke="#3a3a3a" stroke-width="0.12">ATM</text><ellipse cx="16.2" cy="492.4" rx="7.3" ry="6" fill="url(#nf13)" stroke="#702d2d" stroke-width="0.5"/><ellipse cx="16.2" cy="491.4" rx="6.3" ry="4.6" fill="url(#hl)"/><polyline points="14.1,490.4 16.5,490.5 15.5,494.2 13.9,493.9 16.5,490.3 14.2,493.3" fill="none" stroke="#2a8a3a" stroke-opacity="0.55" stroke-width="0.8" stroke-linejoin="round"/><text x="23.1" y="487.1" font-size="4.4" fill="#3a3a3a" stroke="#3a3a3a" stroke-width="0.12">TYMS</text><ellipse cx="169.6" cy="493.6" rx="7.3" ry="6" fill="url(#nf14)" stroke="#185031" stroke-width="0.5"/><ellipse cx="169.6" cy="492.6" rx="6.3" ry="4.6" fill="url(#hl)"/><polyline points="167.7,493.5 171.8,496.4 171.1,495.7 168.8,496.6 171.9,495.0 172.5,493.4" fill="none" stroke="#b0602a" stroke-opacity="0.55" stroke-width="0.8" stroke-linejoin="round"/><text x="176.5" y="488.3" font-size="4.4" fill="#3a3a3a" stroke="#3a3a3a" stroke-width="0.12">TP63</text><ellipse cx="58.0" cy="499.8" rx="7.3" ry="6" fill="url(#nf15)" stroke="#556c48" stroke-width="0.5"/><ellipse cx="58.0" cy="498.8" rx="6.3" ry="4.6" fill="url(#hl)"/><polyline points="58.0,502.4 60.1,500.6 55.6,502.6 54.8,502.8 60.1,501.4 58.2,498.2" fill="none" stroke="#208080" stroke-opacity="0.55" stroke-width="0.8" stroke-linejoin="round"/><text x="64.9" y="494.5" font-size="4.4" fill="#3a3a3a" stroke="#3a3a3a" stroke-width="0.12">CCNA2</text><ellipse cx="134.0" cy="502.7" rx="7.3" ry="6" fill="url(#nf16)" stroke="#746453" stroke-width="0.5"/><ellipse cx="134.0" cy="501.7" rx="6.3" ry="4.6" fill="url(#hl)"/><polyline points="133.0,502.9 132.2,505.4 132.4,500.8 134.6,502.9 136.4,500.9 135.7,501.9" fill="none" stroke="#3050b0" stroke-opacity="0.55" stroke-width="0.8" stroke-linejoin="round"/><text x="140.9" y="497.4" font-size="4.4" fill="#3a3a3a" stroke="#3a3a3a" stroke-width="0.12">TACC3</text><ellipse cx="95.2" cy="506.6" rx="7.3" ry="6" fill="url(#nf17)" stroke="#5b6f47" stroke-width="0.5"/><ellipse cx="95.2" cy="505.6" rx="6.3" ry="4.6" fill="url(#hl)"/><polyline points="92.3,507.8 94.8,505.3 94.2,509.0 94.6,508.0 96.2,506.7 95.6,506.1" fill="none" stroke="#c04040" stroke-opacity="0.55" stroke-width="0.8" stroke-linejoin="round"/><text x="102.1" y="501.3" font-size="4.4" fill="#3a3a3a" stroke="#3a3a3a" stroke-width="0.12">YWHAG</text><ellipse cx="37.7" cy="521.7" rx="7.3" ry="6" fill="url(#nf18)" stroke="#747058" stroke-width="0.5"/><ellipse cx="37.7" cy="520.7" rx="6.3" ry="4.6" fill="url(#hl)"/><polyline points="34.3,522.7 38.5,521.6 39.8,519.2 37.7,520.0 35.6,520.1 41.2,519.2" fill="none" stroke="#2a8a3a" stroke-opacity="0.55" stroke-width="0.8" stroke-linejoin="round"/><text x="44.6" y="516.4" font-size="4.4" fill="#3a3a3a" stroke="#3a3a3a" stroke-width="0.12">FOXM1</text><ellipse cx="73.8" cy="519.3" rx="7.3" ry="6" fill="url(#nf19)" stroke="#745c4c" stroke-width="0.5"/><ellipse cx="73.8" cy="518.3" rx="6.3" ry="4.6" fill="url(#hl)"/><polyline points="76.5,522.3 71.9,518.8 76.4,517.8 75.3,521.9 71.4,518.8 71.1,518.8" fill="none" stroke="#2a8a3a" stroke-opacity="0.55" stroke-width="0.8" stroke-linejoin="round"/><text x="80.7" y="514.0" font-size="4.4" fill="#3a3a3a" stroke="#3a3a3a" stroke-width="0.12">HIPK2</text><ellipse cx="118.5" cy="521.0" rx="7.3" ry="6" fill="url(#nf20)" stroke="#587050" stroke-width="0.5"/><ellipse cx="118.5" cy="520.0" rx="6.3" ry="4.6" fill="url(#hl)"/><polyline points="115.8,522.3 120.6,522.3 122.0,523.5 116.6,524.2 117.2,520.6 122.1,519.4" fill="none" stroke="#a07020" stroke-opacity="0.55" stroke-width="0.8" stroke-linejoin="round"/><text x="125.4" y="515.7" font-size="4.4" fill="#3a3a3a" stroke="#3a3a3a" stroke-width="0.12">PIN1</text><ellipse cx="144.3" cy="531.2" rx="7.3" ry="6" fill="url(#nf21)" stroke="#785c57" stroke-width="0.5"/><ellipse cx="144.3" cy="530.2" rx="6.3" ry="4.6" fill="url(#hl)"/><polyline points="140.7,532.0 147.5,529.8 148.0,533.0 142.3,529.3 140.7,529.8 143.4,529.7" fill="none" stroke="#c04040" stroke-opacity="0.55" stroke-width="0.8" stroke-linejoin="round"/><text x="151.2" y="525.9" font-size="4.4" fill="#3a3a3a" stroke="#3a3a3a" stroke-width="0.12">CDKN2A</text><ellipse cx="90.2" cy="541.4" rx="7.3" ry="6" fill="url(#nf22)" stroke="#64643f" stroke-width="0.5"/><ellipse cx="90.2" cy="540.4" rx="6.3" ry="4.6" fill="url(#hl)"/><polyline points="91.7,541.8 93.8,542.6 89.7,542.7 88.6,539.6 89.3,539.6 86.4,539.3" fill="none" stroke="#a07020" stroke-opacity="0.55" stroke-width="0.8" stroke-linejoin="round"/><text x="97.1" y="536.1" font-size="4.4" fill="#3a3a3a" stroke="#3a3a3a" stroke-width="0.12">AURKA</text><text x="215.70" y="408.30" font-size="15.3" textLength="8.00" lengthAdjust="spacingAndGlyphs" fill="#1a1a1a">E</text><path d="M284.4 423.5L324.2 438.2M284.4 423.5L337.0 464.6M284.4 423.5L341.7 491.7M284.4 423.5L330.3 519.0M284.4 423.5L286.3 536.7M284.4 423.5L246.7 520.5M284.4 423.5L228.2 493.3M284.4 423.5L228.9 467.5M284.4 423.5L242.7 439.8M324.2 438.2L337.0 464.6M324.2 438.2L341.7 491.7M324.2 438.2L330.3 519.0M324.2 438.2L286.3 536.7M324.2 438.2L246.7 520.5M324.2 438.2L228.2 493.3M324.2 438.2L228.9 467.5M324.2 438.2L242.7 439.8M337.0 464.6L341.7 491.7M337.0 464.6L330.3 519.0M337.0 464.6L286.3 536.7M337.0 464.6L246.7 520.5M337.0 464.6L228.2 493.3M337.0 464.6L228.9 467.5M337.0 464.6L242.7 439.8M341.7 491.7L330.3 519.0M341.7 491.7L286.3 536.7M341.7 491.7L246.7 520.5M341.7 491.7L228.2 493.3M341.7 491.7L228.9 467.5M341.7 491.7L242.7 439.8M330.3 519.0L286.3 536.7M330.3 519.0L246.7 520.5M330.3 519.0L228.2 493.3M330.3 519.0L228.9 467.5M330.3 519.0L242.7 439.8M286.3 536.7L246.7 520.5M286.3 536.7L228.2 493.3M286.3 536.7L228.9 467.5M286.3 536.7L242.7 439.8M246.7 520.5L228.2 493.3M246.7 520.5L228.9 467.5M246.7 520.5L242.7 439.8M228.2 493.3L228.9 467.5M228.2 493.3L242.7 439.8M228.9 467.5L242.7 439.8" stroke="#1e1e1e" stroke-width="1.05" fill="none"/><ellipse cx="284.4" cy="423.5" rx="18.8" ry="9.2" fill="#F59A10"/><text x="284.4" y="426.9" font-size="9.6" text-anchor="middle" fill="#141414" stroke="#141414" stroke-width="0.1">E2F1</text><ellipse cx="324.2" cy="438.2" rx="18.8" ry="9.2" fill="#EC3A14"/><text x="324.2" y="441.6" font-size="9.6" text-anchor="middle" fill="#141414" stroke="#141414" stroke-width="0.1">BRCA1</text><ellipse cx="337.0" cy="464.6" rx="18.8" ry="9.2" fill="#F27A10"/><text x="337.0" y="468.0" font-size="9.6" text-anchor="middle" fill="#141414" stroke="#141414" stroke-width="0.1">CCNA2</text><ellipse cx="341.7" cy="491.7" rx="18.8" ry="9.2" fill="#F05A18"/><text x="341.7" y="495.1" font-size="9.6" text-anchor="middle" fill="#141414" stroke="#141414" stroke-width="0.1">ATM</text><ellipse cx="330.3" cy="519.0" rx="18.8" ry="9.2" fill="#F8D406"/><text x="330.3" y="522.4" font-size="9.6" text-anchor="middle" fill="#141414" stroke="#141414" stroke-width="0.1">SKP2</text><ellipse cx="286.3" cy="536.7" rx="18.8" ry="9.2" fill="#F7B410"/><text x="286.3" y="540.1" font-size="9.6" text-anchor="middle" fill="#141414" stroke="#141414" stroke-width="0.1">CCND2</text><ellipse cx="246.7" cy="520.5" rx="18.8" ry="9.2" fill="#F5960E"/><text x="246.7" y="523.9" font-size="9.6" text-anchor="middle" fill="#141414" stroke="#141414" stroke-width="0.1">FOXM1</text><ellipse cx="228.2" cy="493.3" rx="18.8" ry="9.2" fill="#F5960E"/><text x="228.2" y="496.7" font-size="9.6" text-anchor="middle" fill="#141414" stroke="#141414" stroke-width="0.1">AURKA</text><ellipse cx="228.9" cy="467.5" rx="18.8" ry="9.2" fill="#F2580E"/><text x="228.9" y="470.9" font-size="9.6" text-anchor="middle" fill="#141414" stroke="#141414" stroke-width="0.1">CDKN2A</text><ellipse cx="242.7" cy="439.8" rx="18.8" ry="9.2" fill="#EE1A14"/><text x="242.7" y="443.2" font-size="9.6" text-anchor="middle" fill="#141414" stroke="#141414" stroke-width="0.1">CCND1</text><rect x="419.4" y="446" width="1.6" height="80.8" fill="#bdbdbd"/><rect x="363" y="525.4" width="58" height="1.4" fill="#c8c8c8"/><rect x="362" y="430.2" width="58.6" height="1.8" fill="#dcdcdc"/><rect x="361.6" y="430.2" width="0.8" height="96" fill="#e4e4e4"/><rect x="390.8" y="432" width="0.6" height="13.4" fill="#ececec"/><text x="364.60" y="440.80" font-size="5.0" textLength="10.20" lengthAdjust="spacingAndGlyphs" font-family='"Liberation Serif", "Times New Roman", serif' fill="#333" stroke="#333" stroke-width="0.12">Rank</text><text x="393.00" y="440.80" font-size="5.0" textLength="10.60" lengthAdjust="spacingAndGlyphs" font-family='"Liberation Serif", "Times New Roman", serif' fill="#333" stroke="#333" stroke-width="0.12">Node</text><rect x="362.6" y="445.4" width="28.6" height="8.0" fill="#F00A0A" stroke="#3a3a3a" stroke-width="0.55"/><rect x="391.2" y="445.4" width="28.2" height="8.0" fill="#fff" stroke="#3a3a3a" stroke-width="0.55"/><text x="363.50" y="451.10" font-size="4.6" font-family='"Liberation Serif", "Times New Roman", serif' fill="#000" fill-opacity="0.6">1</text><text x="392.10" y="451.10" font-size="4.6" font-family='"Liberation Serif", "Times New Roman", serif' fill="#333">CCND1</text><rect x="362.6" y="453.4" width="28.6" height="8.0" fill="#F23A10" stroke="#3a3a3a" stroke-width="0.55"/><rect x="391.2" y="453.4" width="28.2" height="8.0" fill="#fff" stroke="#3a3a3a" stroke-width="0.55"/><text x="363.50" y="459.10" font-size="4.6" font-family='"Liberation Serif", "Times New Roman", serif' fill="#000" fill-opacity="0.6">2</text><text x="392.10" y="459.10" font-size="4.6" font-family='"Liberation Serif", "Times New Roman", serif' fill="#333">BRCA1</text><rect x="362.6" y="461.4" width="28.6" height="8.0" fill="#F75E0E" stroke="#3a3a3a" stroke-width="0.55"/><rect x="391.2" y="461.4" width="28.2" height="8.0" fill="#fff" stroke="#3a3a3a" stroke-width="0.55"/><text x="363.50" y="467.10" font-size="4.6" font-family='"Liberation Serif", "Times New Roman", serif' fill="#000" fill-opacity="0.6">3</text><text x="392.10" y="467.10" font-size="4.6" font-family='"Liberation Serif", "Times New Roman", serif' fill="#333">ATM</text><rect x="362.6" y="469.4" width="28.6" height="8.0" fill="#F75E0E" stroke="#3a3a3a" stroke-width="0.55"/><rect x="391.2" y="469.4" width="28.2" height="8.0" fill="#fff" stroke="#3a3a3a" stroke-width="0.55"/><text x="363.50" y="475.10" font-size="4.6" font-family='"Liberation Serif", "Times New Roman", serif' fill="#000" fill-opacity="0.6">3</text><text x="392.10" y="475.10" font-size="4.6" font-family='"Liberation Serif", "Times New Roman", serif' fill="#333">CDKN2A</text><rect x="362.6" y="477.4" width="28.6" height="8.0" fill="#F87C0E" stroke="#3a3a3a" stroke-width="0.55"/><rect x="391.2" y="477.4" width="28.2" height="8.0" fill="#fff" stroke="#3a3a3a" stroke-width="0.55"/><text x="363.50" y="483.10" font-size="4.6" font-family='"Liberation Serif", "Times New Roman", serif' fill="#000" fill-opacity="0.6">5</text><text x="392.10" y="483.10" font-size="4.6" font-family='"Liberation Serif", "Times New Roman", serif' fill="#333">CCNA2</text><rect x="362.6" y="485.4" width="28.6" height="8.0" fill="#F9980E" stroke="#3a3a3a" stroke-width="0.55"/><rect x="391.2" y="485.4" width="28.2" height="8.0" fill="#fff" stroke="#3a3a3a" stroke-width="0.55"/><text x="363.50" y="491.10" font-size="4.6" font-family='"Liberation Serif", "Times New Roman", serif' fill="#000" fill-opacity="0.6">6</text><text x="392.10" y="491.10" font-size="4.6" font-family='"Liberation Serif", "Times New Roman", serif' fill="#333">FOXM1</text><rect x="362.6" y="493.4" width="28.6" height="8.0" fill="#F9980E" stroke="#3a3a3a" stroke-width="0.55"/><rect x="391.2" y="493.4" width="28.2" height="8.0" fill="#fff" stroke="#3a3a3a" stroke-width="0.55"/><text x="363.50" y="499.10" font-size="4.6" font-family='"Liberation Serif", "Times New Roman", serif' fill="#000" fill-opacity="0.6">6</text><text x="392.10" y="499.10" font-size="4.6" font-family='"Liberation Serif", "Times New Roman", serif' fill="#333">AURKA</text><rect x="362.6" y="501.4" width="28.6" height="8.0" fill="#F9980E" stroke="#3a3a3a" stroke-width="0.55"/><rect x="391.2" y="501.4" width="28.2" height="8.0" fill="#fff" stroke="#3a3a3a" stroke-width="0.55"/><text x="363.50" y="507.10" font-size="4.6" font-family='"Liberation Serif", "Times New Roman", serif' fill="#000" fill-opacity="0.6">6</text><text x="392.10" y="507.10" font-size="4.6" font-family='"Liberation Serif", "Times New Roman", serif' fill="#333">E2F1</text><rect x="362.6" y="509.4" width="28.6" height="8.0" fill="#F9B20C" stroke="#3a3a3a" stroke-width="0.55"/><rect x="391.2" y="509.4" width="28.2" height="8.0" fill="#fff" stroke="#3a3a3a" stroke-width="0.55"/><text x="363.50" y="515.10" font-size="4.6" font-family='"Liberation Serif", "Times New Roman", serif' fill="#000" fill-opacity="0.6">9</text><text x="392.10" y="515.10" font-size="4.6" font-family='"Liberation Serif", "Times New Roman", serif' fill="#333">CCND2</text><rect x="362.6" y="517.4" width="28.6" height="8.0" fill="#F8D804" stroke="#3a3a3a" stroke-width="0.55"/><rect x="391.2" y="517.4" width="28.2" height="8.0" fill="#fff" stroke="#3a3a3a" stroke-width="0.55"/><text x="363.50" y="523.10" font-size="4.6" font-family='"Liberation Serif", "Times New Roman", serif' fill="#000" fill-opacity="0.6">10</text><text x="392.10" y="523.10" font-size="4.6" font-family='"Liberation Serif", "Times New Roman", serif' fill="#333">SKP2</text></svg>
</body></html>
